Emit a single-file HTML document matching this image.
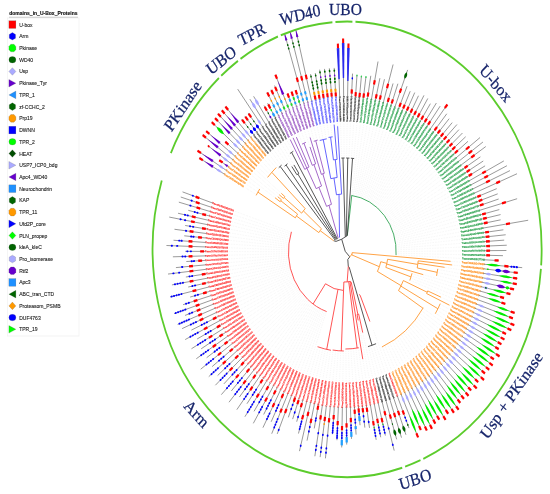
<!DOCTYPE html>
<html><head><meta charset="utf-8"><title>domains in U-Box Proteins</title>
<style>
html,body{margin:0;padding:0;background:#fff}
body{width:550px;height:494px;overflow:hidden}
svg{display:block}
text{font-family:"Liberation Sans",sans-serif}
.lg{font-size:56px;fill:#222;stroke:#222;stroke-width:1.2px}
.lt{font-size:56px;font-weight:bold;fill:#111;stroke:#111;stroke-width:1.5px}
.ol{font-family:"Liberation Serif",serif;font-size:17.3px;fill:#16246a;stroke:#16246a;stroke-width:.25px}
</style></head><body>
<svg width="550" height="494" viewBox="0 0 550 494">
<rect width="550" height="494" fill="#fff"/>
<g transform="scale(0.8977,1)">
<path d="M391.54 195.46A57 57 0 0 1 441.23 255.15" fill="none" stroke="#28a04c" stroke-width="0.9"/>
<path d="M487.66 268.82A104.7 104.7 0 0 1 486.26 275.87" fill="none" stroke="#ff9326" stroke-width="0.9"/>
<path d="M465.84 260.86A82 82 0 0 1 464.75 267.94" fill="none" stroke="#ff9326" stroke-width="0.9"/>
<line x1="465.84" y1="260.86" x2="503.61" y2="264.97" stroke="#ff9326" stroke-width="0.9"/>
<line x1="465.54" y1="263.23" x2="495.26" y2="267.34" stroke="#ff9326" stroke-width="0.9"/>
<line x1="464.75" y1="267.94" x2="487.02" y2="272.36" stroke="#ff9326" stroke-width="0.9"/>
<path d="M458.94 273.28A77.6 77.6 0 0 1 456.5 280.47" fill="none" stroke="#ff9326" stroke-width="0.9"/>
<path d="M431.76 259.27A48 48 0 0 1 429.78 267.41" fill="none" stroke="#ff9326" stroke-width="0.9"/>
<line x1="431.76" y1="259.27" x2="465.37" y2="264.41" stroke="#ff9326" stroke-width="0.9"/>
<line x1="430.78" y1="264.06" x2="471.43" y2="274.61" stroke="#ff9326" stroke-width="0.9"/>
<line x1="429.78" y1="267.41" x2="457.81" y2="276.91" stroke="#ff9326" stroke-width="0.9"/>
<path d="M476.44 290.91A100 100 0 0 1 475.26 293.57" fill="none" stroke="#ff9326" stroke-width="0.9"/>
<line x1="476.44" y1="290.91" x2="491.18" y2="297.13" stroke="#ff9326" stroke-width="0.9"/>
<line x1="475.26" y1="293.57" x2="500.73" y2="305.21" stroke="#ff9326" stroke-width="0.9"/>
<path d="M490.43 303.61A118 118 0 0 1 484.88 313.73" fill="none" stroke="#ff9326" stroke-width="0.9"/>
<path d="M471.5 307.78A103.5 103.5 0 0 1 425.43 346.98" fill="none" stroke="#ff9326" stroke-width="0.9"/>
<path d="M451.48 295.47A80 80 0 0 1 451.48 295.47" fill="none" stroke="#ff9326" stroke-width="0.9"/>
<line x1="451.48" y1="295.47" x2="471.2" y2="308.24" stroke="#ff9326" stroke-width="0.9"/>
<path d="M449.31 280.57A71 71 0 0 1 443.92 290.58" fill="none" stroke="#ff9326" stroke-width="0.9"/>
<line x1="449.31" y1="280.57" x2="475.86" y2="292.24" stroke="#ff9326" stroke-width="0.9"/>
<line x1="446.57" y1="286.14" x2="487.78" y2="308.74" stroke="#ff9326" stroke-width="0.9"/>
<line x1="443.92" y1="290.58" x2="451.48" y2="295.47" stroke="#ff9326" stroke-width="0.9"/>
<path d="M424.15 261.72A41 41 0 0 1 420.41 271.45" fill="none" stroke="#ff9326" stroke-width="0.9"/>
<line x1="424.15" y1="261.72" x2="430.95" y2="263.38" stroke="#ff9326" stroke-width="0.9"/>
<line x1="420.41" y1="271.45" x2="446.82" y2="285.68" stroke="#ff9326" stroke-width="0.9"/>
<path d="M392.29 252.63A8 8 0 0 1 391.78 254.87" fill="none" stroke="#ff9326" stroke-width="0.9"/>
<line x1="392.29" y1="252.63" x2="501.95" y2="261.33" stroke="#ff9326" stroke-width="0.9"/>
<line x1="391.78" y1="254.87" x2="422.59" y2="266.71" stroke="#ff9326" stroke-width="0.9"/>
<polyline points="400.36,294.3 401.47,296 412.05,321.5" fill="none" stroke="#ff3636" stroke-width="0.9" stroke-linejoin="round"/>
<path d="M418.92 343.69A98 98 0 0 1 409.89 346.61" fill="none" stroke="#3a3a3a" stroke-width="0.9"/>
<path d="M399.55 314.16A64 64 0 0 1 397.76 314.57" fill="none" stroke="#ff3636" stroke-width="0.9"/>
<line x1="399.55" y1="314.16" x2="404.08" y2="332.61" stroke="#ff3636" stroke-width="0.9"/>
<line x1="397.76" y1="314.57" x2="399.02" y2="320.44" stroke="#ff3636" stroke-width="0.9"/>
<path d="M391.26 282.21A31 31 0 0 1 389.95 282.48" fill="none" stroke="#ff3636" stroke-width="0.9"/>
<line x1="391.26" y1="282.21" x2="398.66" y2="314.37" stroke="#ff3636" stroke-width="0.9"/>
<line x1="389.95" y1="282.48" x2="404.13" y2="359.18" stroke="#ff3636" stroke-width="0.9"/>
<path d="M399.69 347.77A97 97 0 0 1 384.77 349" fill="none" stroke="#ff3636" stroke-width="0.9"/>
<path d="M382.97 350.99A99 99 0 0 1 370.56 350.04" fill="none" stroke="#ff3636" stroke-width="0.9"/>
<path d="M368.69 350.27A99.5 99.5 0 0 1 353.75 346.69" fill="none" stroke="#ff3636" stroke-width="0.9"/>
<path d="M363.87 311.59A63 63 0 0 1 324.63 231.83" fill="none" stroke="#ff3636" stroke-width="0.9"/>
<path d="M382.7 290.47A38.5 38.5 0 0 1 362.57 283.77" fill="none" stroke="#ff3636" stroke-width="0.9"/>
<line x1="382.7" y1="290.47" x2="380.17" y2="350.91" stroke="#ff3636" stroke-width="0.9"/>
<line x1="376.44" y1="289.68" x2="363.95" y2="349.39" stroke="#ff3636" stroke-width="0.9"/>
<line x1="362.57" y1="283.77" x2="348.73" y2="303.99" stroke="#ff3636" stroke-width="0.9"/>
<path d="M390.4 281.38A30 30 0 0 1 383.06 281.97" fill="none" stroke="#ff3636" stroke-width="0.9"/>
<line x1="390.4" y1="281.38" x2="390.61" y2="282.35" stroke="#ff3636" stroke-width="0.9"/>
<line x1="388.49" y1="281.71" x2="397.81" y2="348.06" stroke="#ff3636" stroke-width="0.9"/>
<line x1="383.06" y1="281.97" x2="382.7" y2="290.47" stroke="#ff3636" stroke-width="0.9"/>
<path d="M285.38 195.36A114 114 0 0 1 289.32 188.98" fill="none" stroke="#ff9326" stroke-width="0.9"/>
<path d="M312.09 201.72A88 88 0 0 1 313.51 199.75" fill="none" stroke="#ff9326" stroke-width="0.9"/>
<line x1="312.09" y1="201.72" x2="306.35" y2="197.73" stroke="#ff9326" stroke-width="0.9"/>
<line x1="313.51" y1="199.75" x2="309.48" y2="196.78" stroke="#ff9326" stroke-width="0.9"/>
<path d="M329 217.87A65 65 0 0 1 331.49 214.13" fill="none" stroke="#ff9326" stroke-width="0.9"/>
<line x1="329" y1="217.87" x2="287.3" y2="192.14" stroke="#ff9326" stroke-width="0.9"/>
<line x1="331.49" y1="214.13" x2="312.79" y2="200.73" stroke="#ff9326" stroke-width="0.9"/>
<path d="M315.77 198.43A87 87 0 0 1 317.27 196.55" fill="none" stroke="#ff9326" stroke-width="0.9"/>
<line x1="315.77" y1="198.43" x2="311.04" y2="194.73" stroke="#ff9326" stroke-width="0.9"/>
<line x1="317.27" y1="196.55" x2="313.42" y2="193.37" stroke="#ff9326" stroke-width="0.9"/>
<path d="M298.12 177.4A114 114 0 0 1 307.75 167.54" fill="none" stroke="#ff9326" stroke-width="0.9"/>
<path d="M336 213.15A62 62 0 0 1 339.97 208.67" fill="none" stroke="#ff9326" stroke-width="0.9"/>
<line x1="336" y1="213.15" x2="316.51" y2="197.49" stroke="#ff9326" stroke-width="0.9"/>
<line x1="339.97" y1="208.67" x2="302.78" y2="172.32" stroke="#ff9326" stroke-width="0.9"/>
<path d="M355.18 232.6A35 35 0 0 1 358.13 228.78" fill="none" stroke="#ff9326" stroke-width="0.9"/>
<line x1="355.18" y1="232.6" x2="330.21" y2="215.98" stroke="#ff9326" stroke-width="0.9"/>
<line x1="358.13" y1="228.78" x2="337.93" y2="210.86" stroke="#ff9326" stroke-width="0.9"/>
<path d="M310.51 167.76A112 112 0 0 1 313.72 165.05" fill="none" stroke="#3a3a3a" stroke-width="0.9"/>
<path d="M317.02 166.25A109 109 0 0 1 320.29 163.79" fill="none" stroke="#3a3a3a" stroke-width="0.9"/>
<path d="M330.77 174.74A94 94 0 0 1 332.88 173.32" fill="none" stroke="#3a3a3a" stroke-width="0.9"/>
<line x1="330.77" y1="174.74" x2="325.07" y2="166.52" stroke="#3a3a3a" stroke-width="0.9"/>
<line x1="332.88" y1="173.32" x2="327.41" y2="164.95" stroke="#3a3a3a" stroke-width="0.9"/>
<path d="M322.97 153.55A116 116 0 0 1 326.71 151.31" fill="none" stroke="#3a3a3a" stroke-width="0.9"/>
<path d="M339.48 169.38A94 94 0 0 1 344.23 166.98" fill="none" stroke="#9550c0" stroke-width="0.9"/>
<line x1="339.48" y1="169.38" x2="323.26" y2="139.5" stroke="#9550c0" stroke-width="0.9"/>
<line x1="341.84" y1="168.15" x2="326.47" y2="137.82" stroke="#9550c0" stroke-width="0.9"/>
<line x1="344.23" y1="166.98" x2="330.15" y2="137.13" stroke="#9550c0" stroke-width="0.9"/>
<path d="M336.47 144.14A118 118 0 0 1 340.69 142.36" fill="none" stroke="#9550c0" stroke-width="0.9"/>
<path d="M347.87 165.35A94 94 0 0 1 351.58 163.88" fill="none" stroke="#9550c0" stroke-width="0.9"/>
<line x1="347.87" y1="165.35" x2="338.57" y2="143.23" stroke="#9550c0" stroke-width="0.9"/>
<line x1="351.58" y1="163.88" x2="345.32" y2="147.01" stroke="#9550c0" stroke-width="0.9"/>
<path d="M352.23 188.66A71 71 0 0 1 358.19 185.98" fill="none" stroke="#9550c0" stroke-width="0.9"/>
<line x1="352.23" y1="188.66" x2="341.84" y2="168.15" stroke="#9550c0" stroke-width="0.9"/>
<line x1="358.19" y1="185.98" x2="349.72" y2="164.6" stroke="#9550c0" stroke-width="0.9"/>
<path d="M349.56 141.33A116 116 0 0 1 353.88 140.06" fill="none" stroke="#9550c0" stroke-width="0.9"/>
<path d="M357.95 174.35A82 82 0 0 1 361.27 173.3" fill="none" stroke="#9550c0" stroke-width="0.9"/>
<line x1="357.95" y1="174.35" x2="345.41" y2="137.43" stroke="#9550c0" stroke-width="0.9"/>
<line x1="361.27" y1="173.3" x2="351.71" y2="140.68" stroke="#9550c0" stroke-width="0.9"/>
<path d="M363.8 206.4A50 50 0 0 1 369.25 204.32" fill="none" stroke="#9550c0" stroke-width="0.9"/>
<line x1="363.8" y1="206.4" x2="355.18" y2="187.26" stroke="#9550c0" stroke-width="0.9"/>
<line x1="369.25" y1="204.32" x2="359.6" y2="173.81" stroke="#9550c0" stroke-width="0.9"/>
<path d="M356.19 140.49A115 115 0 0 1 363.98 138.81" fill="none" stroke="#4a4aff" stroke-width="0.9"/>
<path d="M365.97 137.46A116 116 0 0 1 370.55 136.82" fill="none" stroke="#4a4aff" stroke-width="0.9"/>
<path d="M371.44 159.9A93 93 0 0 1 375.52 159.42" fill="none" stroke="#4a4aff" stroke-width="0.9"/>
<line x1="371.44" y1="159.9" x2="368.26" y2="137.12" stroke="#4a4aff" stroke-width="0.9"/>
<line x1="375.52" y1="159.42" x2="372.21" y2="124.57" stroke="#4a4aff" stroke-width="0.9"/>
<path d="M368.5 178.69A75 75 0 0 1 375.57 177.51" fill="none" stroke="#4a4aff" stroke-width="0.9"/>
<line x1="368.5" y1="178.69" x2="360.07" y2="139.59" stroke="#4a4aff" stroke-width="0.9"/>
<line x1="375.57" y1="177.51" x2="373.48" y2="159.63" stroke="#4a4aff" stroke-width="0.9"/>
<path d="M374.81 194.78A58 58 0 0 1 380.53 194.12" fill="none" stroke="#4a4aff" stroke-width="0.9"/>
<line x1="374.81" y1="194.78" x2="372.02" y2="178.01" stroke="#4a4aff" stroke-width="0.9"/>
<line x1="380.53" y1="194.12" x2="376.09" y2="126.27" stroke="#4a4aff" stroke-width="0.9"/>
<path d="M380.24 158.09A94 94 0 0 1 383.88 158" fill="none" stroke="#3a3a3a" stroke-width="0.9"/>
<path d="M385.57 158.01A94 94 0 0 1 389.21 158.13" fill="none" stroke="#3a3a3a" stroke-width="0.9"/>
<path d="M390.89 158.23A94 94 0 0 1 394.53 158.56" fill="none" stroke="#3a3a3a" stroke-width="0.9"/>
<polyline points="371.62,240.7 374.29,241.4 380.64,239.2 386.88,235.6" fill="none" stroke="#3a3a3a" stroke-width="0.9" stroke-linejoin="round"/>
<polyline points="380.64,239.2 384.54,251.3 389.66,256.9 387.43,259.4 387.99,266.5" fill="none" stroke="#3a3a3a" stroke-width="0.9" stroke-linejoin="round"/>
<polyline points="389.66,256.9 391.89,254.4 392.12,253.77" fill="none" stroke="#ff9326" stroke-width="0.9" stroke-linejoin="round"/>
<polyline points="387.99,266.5 388.99,267.2 414.44,345.26" fill="none" stroke="#3a3a3a" stroke-width="0.9" stroke-linejoin="round"/>
<polyline points="387.99,266.5 386.75,281.9" fill="none" stroke="#ff3636" stroke-width="0.9" stroke-linejoin="round"/>
<polyline points="386.88,235.6 391.84,195.5" fill="none" stroke="#28a04c" stroke-width="0.9" stroke-linejoin="round"/>
<polyline points="384.65,236.8 382.06,158.03" fill="none" stroke="#3a3a3a" stroke-width="0.9" stroke-linejoin="round"/>
<polyline points="385.76,236.2 387.39,158.05" fill="none" stroke="#3a3a3a" stroke-width="0.9" stroke-linejoin="round"/>
<polyline points="386.88,235.6 392.71,158.38" fill="none" stroke="#3a3a3a" stroke-width="0.9" stroke-linejoin="round"/>
<polyline points="378.19,237.5 377.66,194.38" fill="none" stroke="#4a4aff" stroke-width="0.9" stroke-linejoin="round"/>
<polyline points="376.74,238.2 366.49,205.29" fill="none" stroke="#9550c0" stroke-width="0.9" stroke-linejoin="round"/>
<polyline points="373.4,240.2 312.1,166.39" fill="none" stroke="#3a3a3a" stroke-width="0.9" stroke-linejoin="round"/>
<polyline points="374.29,239.8 318.64,165.01" fill="none" stroke="#3a3a3a" stroke-width="0.9" stroke-linejoin="round"/>
<polyline points="375.18,239.4 331.82,174.02" fill="none" stroke="#3a3a3a" stroke-width="0.9" stroke-linejoin="round"/>
<polyline points="375.96,239 324.83,152.41" fill="none" stroke="#3a3a3a" stroke-width="0.9" stroke-linejoin="round"/>
<polyline points="371.62,240.7 356.59,230.64" fill="none" stroke="#ff9326" stroke-width="0.9" stroke-linejoin="round"/>
<line x1="380.71" y1="157.57" x2="379.39" y2="123.09" stroke="#bbbbbb" stroke-width="0.5" stroke-opacity="0.45" stroke-dasharray="0.6 1.2"/>
<text transform="translate(379.34,121.7) rotate(447.81) scale(.1)" text-anchor="end" y="8" font-size="24.5" font-weight="bold" fill="#3a3a3a" stroke="#3a3a3a" stroke-width="1.6">TraesCS2D02G445900</text>
<line x1="383.39" y1="157.5" x2="383.05" y2="123.01" stroke="#bbbbbb" stroke-width="0.5" stroke-opacity="0.45" stroke-dasharray="0.6 1.2"/>
<text transform="translate(383.04,121.61) rotate(449.44) scale(.1)" text-anchor="end" y="8" font-size="24.5" font-weight="bold" fill="#3a3a3a" stroke="#3a3a3a" stroke-width="1.6">TraesCS2B02G494800</text>
<line x1="386.07" y1="157.52" x2="386.71" y2="123.02" stroke="#bbbbbb" stroke-width="0.5" stroke-opacity="0.45" stroke-dasharray="0.6 1.2"/>
<text transform="translate(386.73,121.62) rotate(-88.94) scale(.1)" text-anchor="start" y="8" font-size="24.5" font-weight="bold" fill="#3a3a3a" stroke="#3a3a3a" stroke-width="1.6">TraesCS4D02G475900</text>
<line x1="388.75" y1="157.6" x2="390.36" y2="123.14" stroke="#bbbbbb" stroke-width="0.5" stroke-opacity="0.45" stroke-dasharray="0.6 1.2"/>
<text transform="translate(390.43,121.74) rotate(-87.31) scale(.1)" text-anchor="start" y="8" font-size="24.5" font-weight="bold" fill="#3a3a3a" stroke="#3a3a3a" stroke-width="1.6">TraesCS1D02G010800</text>
<line x1="391.42" y1="157.77" x2="394.02" y2="123.37" stroke="#bbbbbb" stroke-width="0.5" stroke-opacity="0.45" stroke-dasharray="0.6 1.2"/>
<text transform="translate(394.12,121.97) rotate(-85.69) scale(.1)" text-anchor="start" y="8" font-size="24.5" font-weight="bold" fill="#3a3a3a" stroke="#3a3a3a" stroke-width="1.6">TraesCS7B02G212500</text>
<line x1="394.09" y1="158.01" x2="397.66" y2="123.69" stroke="#bbbbbb" stroke-width="0.5" stroke-opacity="0.45" stroke-dasharray="0.6 1.2"/>
<text transform="translate(397.8,122.3) rotate(-84.06) scale(.1)" text-anchor="start" y="8" font-size="24.5" font-weight="bold" fill="#3a3a3a" stroke="#3a3a3a" stroke-width="1.6">TraesCS5A02G157100</text>
<line x1="391.91" y1="195" x2="401.35" y2="124.13" stroke="#bbbbbb" stroke-width="0.5" stroke-opacity="0.45" stroke-dasharray="0.6 1.2"/>
<text transform="translate(401.53,122.74) rotate(-82.41) scale(.1)" text-anchor="start" y="8" font-size="24.5" font-weight="bold" fill="#28a04c" stroke="#28a04c" stroke-width="1.6">TraesCS6B02G443200</text>
<line x1="393.57" y1="195.25" x2="405.07" y2="124.68" stroke="#bbbbbb" stroke-width="0.5" stroke-opacity="0.45" stroke-dasharray="0.6 1.2"/>
<text transform="translate(405.29,123.3) rotate(-80.74) scale(.1)" text-anchor="start" y="8" font-size="24.5" font-weight="bold" fill="#28a04c" stroke="#28a04c" stroke-width="1.6">TraesCS7D02G390300</text>
<line x1="395.22" y1="195.54" x2="408.78" y2="125.34" stroke="#bbbbbb" stroke-width="0.5" stroke-opacity="0.45" stroke-dasharray="0.6 1.2"/>
<text transform="translate(409.04,123.97) rotate(-79.07) scale(.1)" text-anchor="start" y="8" font-size="24.5" font-weight="bold" fill="#28a04c" stroke="#28a04c" stroke-width="1.6">TraesCS4D02G123400</text>
<line x1="396.86" y1="195.89" x2="412.46" y2="126.11" stroke="#bbbbbb" stroke-width="0.5" stroke-opacity="0.45" stroke-dasharray="0.6 1.2"/>
<text transform="translate(412.77,124.74) rotate(-77.4) scale(.1)" text-anchor="start" y="8" font-size="24.5" font-weight="bold" fill="#28a04c" stroke="#28a04c" stroke-width="1.6">TraesCS2D02G124300</text>
<line x1="398.49" y1="196.28" x2="416.12" y2="126.98" stroke="#bbbbbb" stroke-width="0.5" stroke-opacity="0.45" stroke-dasharray="0.6 1.2"/>
<text transform="translate(416.47,125.63) rotate(-75.73) scale(.1)" text-anchor="start" y="8" font-size="24.5" font-weight="bold" fill="#28a04c" stroke="#28a04c" stroke-width="1.6">TraesCS7D02G319500</text>
<line x1="400.11" y1="196.71" x2="419.76" y2="127.96" stroke="#bbbbbb" stroke-width="0.5" stroke-opacity="0.45" stroke-dasharray="0.6 1.2"/>
<text transform="translate(420.14,126.62) rotate(-74.05) scale(.1)" text-anchor="start" y="8" font-size="24.5" font-weight="bold" fill="#28a04c" stroke="#28a04c" stroke-width="1.6">TraesCS6A02G550100</text>
<line x1="401.72" y1="197.2" x2="423.36" y2="129.05" stroke="#bbbbbb" stroke-width="0.5" stroke-opacity="0.45" stroke-dasharray="0.6 1.2"/>
<text transform="translate(423.79,127.72) rotate(-72.38) scale(.1)" text-anchor="start" y="8" font-size="24.5" font-weight="bold" fill="#28a04c" stroke="#28a04c" stroke-width="1.6">TraesCS7A02G130600</text>
<line x1="403.31" y1="197.73" x2="426.93" y2="130.24" stroke="#bbbbbb" stroke-width="0.5" stroke-opacity="0.45" stroke-dasharray="0.6 1.2"/>
<text transform="translate(427.39,128.92) rotate(-70.71) scale(.1)" text-anchor="start" y="8" font-size="24.5" font-weight="bold" fill="#28a04c" stroke="#28a04c" stroke-width="1.6">TraesCS7D02G035100</text>
<line x1="404.89" y1="198.31" x2="430.47" y2="131.54" stroke="#bbbbbb" stroke-width="0.5" stroke-opacity="0.45" stroke-dasharray="0.6 1.2"/>
<text transform="translate(430.97,130.23) rotate(-69.04) scale(.1)" text-anchor="start" y="8" font-size="24.5" font-weight="bold" fill="#28a04c" stroke="#28a04c" stroke-width="1.6">TraesCS3A02G220800</text>
<line x1="406.44" y1="198.93" x2="433.96" y2="132.94" stroke="#bbbbbb" stroke-width="0.5" stroke-opacity="0.45" stroke-dasharray="0.6 1.2"/>
<text transform="translate(434.5,131.64) rotate(-67.36) scale(.1)" text-anchor="start" y="8" font-size="24.5" font-weight="bold" fill="#28a04c" stroke="#28a04c" stroke-width="1.6">TraesCS4D02G588900</text>
<line x1="407.98" y1="199.6" x2="437.42" y2="134.44" stroke="#bbbbbb" stroke-width="0.5" stroke-opacity="0.45" stroke-dasharray="0.6 1.2"/>
<text transform="translate(437.99,133.16) rotate(-65.69) scale(.1)" text-anchor="start" y="8" font-size="24.5" font-weight="bold" fill="#28a04c" stroke="#28a04c" stroke-width="1.6">TraesCS4D02G349800</text>
<line x1="409.5" y1="200.31" x2="440.82" y2="136.04" stroke="#bbbbbb" stroke-width="0.5" stroke-opacity="0.45" stroke-dasharray="0.6 1.2"/>
<text transform="translate(441.44,134.78) rotate(-64.02) scale(.1)" text-anchor="start" y="8" font-size="24.5" font-weight="bold" fill="#28a04c" stroke="#28a04c" stroke-width="1.6">TraesCS4D02G472700</text>
<line x1="411" y1="201.07" x2="444.18" y2="137.73" stroke="#bbbbbb" stroke-width="0.5" stroke-opacity="0.45" stroke-dasharray="0.6 1.2"/>
<text transform="translate(444.83,136.49) rotate(-62.35) scale(.1)" text-anchor="start" y="8" font-size="24.5" font-weight="bold" fill="#28a04c" stroke="#28a04c" stroke-width="1.6">TraesCS4A02G299500</text>
<line x1="412.48" y1="201.87" x2="447.49" y2="139.53" stroke="#bbbbbb" stroke-width="0.5" stroke-opacity="0.45" stroke-dasharray="0.6 1.2"/>
<text transform="translate(448.18,138.31) rotate(-60.68) scale(.1)" text-anchor="start" y="8" font-size="24.5" font-weight="bold" fill="#28a04c" stroke="#28a04c" stroke-width="1.6">TraesCS1A02G111400</text>
<line x1="413.93" y1="202.71" x2="450.75" y2="141.42" stroke="#bbbbbb" stroke-width="0.5" stroke-opacity="0.45" stroke-dasharray="0.6 1.2"/>
<text transform="translate(451.47,140.22) rotate(-59) scale(.1)" text-anchor="start" y="8" font-size="24.5" font-weight="bold" fill="#28a04c" stroke="#28a04c" stroke-width="1.6">TraesCS4A02G211400</text>
<line x1="415.35" y1="203.6" x2="453.95" y2="143.41" stroke="#bbbbbb" stroke-width="0.5" stroke-opacity="0.45" stroke-dasharray="0.6 1.2"/>
<text transform="translate(454.7,142.23) rotate(-57.33) scale(.1)" text-anchor="start" y="8" font-size="24.5" font-weight="bold" fill="#28a04c" stroke="#28a04c" stroke-width="1.6">TraesCS6B02G638200</text>
<line x1="416.75" y1="204.52" x2="457.08" y2="145.48" stroke="#bbbbbb" stroke-width="0.5" stroke-opacity="0.45" stroke-dasharray="0.6 1.2"/>
<text transform="translate(457.87,144.33) rotate(-55.66) scale(.1)" text-anchor="start" y="8" font-size="24.5" font-weight="bold" fill="#28a04c" stroke="#28a04c" stroke-width="1.6">TraesCS6B02G345100</text>
<line x1="418.12" y1="205.49" x2="460.16" y2="147.65" stroke="#bbbbbb" stroke-width="0.5" stroke-opacity="0.45" stroke-dasharray="0.6 1.2"/>
<text transform="translate(460.98,146.52) rotate(-53.99) scale(.1)" text-anchor="start" y="8" font-size="24.5" font-weight="bold" fill="#28a04c" stroke="#28a04c" stroke-width="1.6">TraesCS5B02G470300</text>
<line x1="419.47" y1="206.49" x2="463.17" y2="149.91" stroke="#bbbbbb" stroke-width="0.5" stroke-opacity="0.45" stroke-dasharray="0.6 1.2"/>
<text transform="translate(464.03,148.8) rotate(-52.32) scale(.1)" text-anchor="start" y="8" font-size="24.5" font-weight="bold" fill="#28a04c" stroke="#28a04c" stroke-width="1.6">TraesCS3D02G479300</text>
<line x1="420.78" y1="207.54" x2="466.12" y2="152.25" stroke="#bbbbbb" stroke-width="0.5" stroke-opacity="0.45" stroke-dasharray="0.6 1.2"/>
<text transform="translate(467.01,151.17) rotate(-50.64) scale(.1)" text-anchor="start" y="8" font-size="24.5" font-weight="bold" fill="#28a04c" stroke="#28a04c" stroke-width="1.6">TraesCS4D02G190400</text>
<line x1="422.06" y1="208.62" x2="469" y2="154.68" stroke="#bbbbbb" stroke-width="0.5" stroke-opacity="0.45" stroke-dasharray="0.6 1.2"/>
<text transform="translate(469.91,153.63) rotate(-48.97) scale(.1)" text-anchor="start" y="8" font-size="24.5" font-weight="bold" fill="#28a04c" stroke="#28a04c" stroke-width="1.6">TraesCS3D02G023500</text>
<line x1="423.31" y1="209.74" x2="471.8" y2="157.2" stroke="#bbbbbb" stroke-width="0.5" stroke-opacity="0.45" stroke-dasharray="0.6 1.2"/>
<text transform="translate(472.75,156.17) rotate(-47.3) scale(.1)" text-anchor="start" y="8" font-size="24.5" font-weight="bold" fill="#28a04c" stroke="#28a04c" stroke-width="1.6">TraesCS7B02G496300</text>
<line x1="424.53" y1="210.9" x2="474.53" y2="159.79" stroke="#bbbbbb" stroke-width="0.5" stroke-opacity="0.45" stroke-dasharray="0.6 1.2"/>
<text transform="translate(475.51,158.79) rotate(-45.63) scale(.1)" text-anchor="start" y="8" font-size="24.5" font-weight="bold" fill="#28a04c" stroke="#28a04c" stroke-width="1.6">TraesCS6D02G133700</text>
<line x1="425.71" y1="212.09" x2="477.18" y2="162.46" stroke="#bbbbbb" stroke-width="0.5" stroke-opacity="0.45" stroke-dasharray="0.6 1.2"/>
<text transform="translate(478.19,161.49) rotate(-43.96) scale(.1)" text-anchor="start" y="8" font-size="24.5" font-weight="bold" fill="#28a04c" stroke="#28a04c" stroke-width="1.6">TraesCS6B02G443900</text>
<line x1="426.86" y1="213.31" x2="479.75" y2="165.21" stroke="#bbbbbb" stroke-width="0.5" stroke-opacity="0.45" stroke-dasharray="0.6 1.2"/>
<text transform="translate(480.79,164.27) rotate(-42.28) scale(.1)" text-anchor="start" y="8" font-size="24.5" font-weight="bold" fill="#28a04c" stroke="#28a04c" stroke-width="1.6">TraesCS5D02G085300</text>
<line x1="427.97" y1="214.57" x2="482.25" y2="168.03" stroke="#bbbbbb" stroke-width="0.5" stroke-opacity="0.45" stroke-dasharray="0.6 1.2"/>
<text transform="translate(483.31,167.12) rotate(-40.61) scale(.1)" text-anchor="start" y="8" font-size="24.5" font-weight="bold" fill="#28a04c" stroke="#28a04c" stroke-width="1.6">TraesCS6D02G173000</text>
<line x1="429.04" y1="215.86" x2="484.65" y2="170.92" stroke="#bbbbbb" stroke-width="0.5" stroke-opacity="0.45" stroke-dasharray="0.6 1.2"/>
<text transform="translate(485.74,170.04) rotate(-38.94) scale(.1)" text-anchor="start" y="8" font-size="24.5" font-weight="bold" fill="#28a04c" stroke="#28a04c" stroke-width="1.6">TraesCS6D02G218800</text>
<line x1="430.08" y1="217.18" x2="486.98" y2="173.89" stroke="#bbbbbb" stroke-width="0.5" stroke-opacity="0.45" stroke-dasharray="0.6 1.2"/>
<text transform="translate(488.09,173.04) rotate(-37.27) scale(.1)" text-anchor="start" y="8" font-size="24.5" font-weight="bold" fill="#28a04c" stroke="#28a04c" stroke-width="1.6">TraesCS3A02G052000</text>
<line x1="431.07" y1="218.53" x2="489.21" y2="176.92" stroke="#bbbbbb" stroke-width="0.5" stroke-opacity="0.45" stroke-dasharray="0.6 1.2"/>
<text transform="translate(490.35,176.1) rotate(-35.59) scale(.1)" text-anchor="start" y="8" font-size="24.5" font-weight="bold" fill="#28a04c" stroke="#28a04c" stroke-width="1.6">TraesCS4D02G396100</text>
<line x1="432.03" y1="219.91" x2="491.36" y2="180.01" stroke="#bbbbbb" stroke-width="0.5" stroke-opacity="0.45" stroke-dasharray="0.6 1.2"/>
<text transform="translate(492.52,179.23) rotate(-33.92) scale(.1)" text-anchor="start" y="8" font-size="24.5" font-weight="bold" fill="#28a04c" stroke="#28a04c" stroke-width="1.6">TraesCS1B02G054600</text>
<line x1="432.94" y1="221.32" x2="493.41" y2="183.16" stroke="#bbbbbb" stroke-width="0.5" stroke-opacity="0.45" stroke-dasharray="0.6 1.2"/>
<text transform="translate(494.6,182.42) rotate(-32.25) scale(.1)" text-anchor="start" y="8" font-size="24.5" font-weight="bold" fill="#28a04c" stroke="#28a04c" stroke-width="1.6">TraesCS4A02G016500</text>
<line x1="433.82" y1="222.75" x2="495.38" y2="186.38" stroke="#bbbbbb" stroke-width="0.5" stroke-opacity="0.45" stroke-dasharray="0.6 1.2"/>
<text transform="translate(496.58,185.66) rotate(-30.58) scale(.1)" text-anchor="start" y="8" font-size="24.5" font-weight="bold" fill="#28a04c" stroke="#28a04c" stroke-width="1.6">TraesCS3B02G629800</text>
<line x1="434.65" y1="224.21" x2="497.24" y2="189.64" stroke="#bbbbbb" stroke-width="0.5" stroke-opacity="0.45" stroke-dasharray="0.6 1.2"/>
<text transform="translate(498.47,188.97) rotate(-28.91) scale(.1)" text-anchor="start" y="8" font-size="24.5" font-weight="bold" fill="#28a04c" stroke="#28a04c" stroke-width="1.6">TraesCS4A02G036300</text>
<line x1="435.44" y1="225.69" x2="499.02" y2="192.97" stroke="#bbbbbb" stroke-width="0.5" stroke-opacity="0.45" stroke-dasharray="0.6 1.2"/>
<text transform="translate(500.26,192.33) rotate(-27.23) scale(.1)" text-anchor="start" y="8" font-size="24.5" font-weight="bold" fill="#28a04c" stroke="#28a04c" stroke-width="1.6">TraesCS5D02G624000</text>
<line x1="436.19" y1="227.19" x2="500.69" y2="196.34" stroke="#bbbbbb" stroke-width="0.5" stroke-opacity="0.45" stroke-dasharray="0.6 1.2"/>
<text transform="translate(501.95,195.73) rotate(-25.56) scale(.1)" text-anchor="start" y="8" font-size="24.5" font-weight="bold" fill="#28a04c" stroke="#28a04c" stroke-width="1.6">TraesCS1B02G588600</text>
<line x1="436.89" y1="228.71" x2="502.26" y2="199.76" stroke="#bbbbbb" stroke-width="0.5" stroke-opacity="0.45" stroke-dasharray="0.6 1.2"/>
<text transform="translate(503.54,199.19) rotate(-23.89) scale(.1)" text-anchor="start" y="8" font-size="24.5" font-weight="bold" fill="#28a04c" stroke="#28a04c" stroke-width="1.6">TraesCS5B02G451300</text>
<line x1="437.55" y1="230.26" x2="503.74" y2="203.22" stroke="#bbbbbb" stroke-width="0.5" stroke-opacity="0.45" stroke-dasharray="0.6 1.2"/>
<text transform="translate(505.03,202.69) rotate(-22.22) scale(.1)" text-anchor="start" y="8" font-size="24.5" font-weight="bold" fill="#28a04c" stroke="#28a04c" stroke-width="1.6">TraesCS3D02G193300</text>
<line x1="438.16" y1="231.82" x2="505.11" y2="206.73" stroke="#bbbbbb" stroke-width="0.5" stroke-opacity="0.45" stroke-dasharray="0.6 1.2"/>
<text transform="translate(506.42,206.24) rotate(-20.55) scale(.1)" text-anchor="start" y="8" font-size="24.5" font-weight="bold" fill="#28a04c" stroke="#28a04c" stroke-width="1.6">TraesCS1B02G006000</text>
<line x1="438.72" y1="233.4" x2="506.38" y2="210.27" stroke="#bbbbbb" stroke-width="0.5" stroke-opacity="0.45" stroke-dasharray="0.6 1.2"/>
<text transform="translate(507.7,209.82) rotate(-18.87) scale(.1)" text-anchor="start" y="8" font-size="24.5" font-weight="bold" fill="#28a04c" stroke="#28a04c" stroke-width="1.6">TraesCS1A02G491400</text>
<line x1="439.24" y1="235" x2="507.55" y2="213.85" stroke="#bbbbbb" stroke-width="0.5" stroke-opacity="0.45" stroke-dasharray="0.6 1.2"/>
<text transform="translate(508.88,213.44) rotate(-17.2) scale(.1)" text-anchor="start" y="8" font-size="24.5" font-weight="bold" fill="#28a04c" stroke="#28a04c" stroke-width="1.6">TraesCS5A02G161700</text>
<line x1="439.72" y1="236.61" x2="508.61" y2="217.46" stroke="#bbbbbb" stroke-width="0.5" stroke-opacity="0.45" stroke-dasharray="0.6 1.2"/>
<text transform="translate(509.96,217.09) rotate(-15.53) scale(.1)" text-anchor="start" y="8" font-size="24.5" font-weight="bold" fill="#28a04c" stroke="#28a04c" stroke-width="1.6">TraesCS4B02G500100</text>
<line x1="440.14" y1="238.23" x2="509.56" y2="221.1" stroke="#bbbbbb" stroke-width="0.5" stroke-opacity="0.45" stroke-dasharray="0.6 1.2"/>
<text transform="translate(510.92,220.77) rotate(-13.86) scale(.1)" text-anchor="start" y="8" font-size="24.5" font-weight="bold" fill="#28a04c" stroke="#28a04c" stroke-width="1.6">TraesCS3A02G565100</text>
<line x1="440.52" y1="239.86" x2="510.41" y2="224.77" stroke="#bbbbbb" stroke-width="0.5" stroke-opacity="0.45" stroke-dasharray="0.6 1.2"/>
<text transform="translate(511.78,224.48) rotate(-12.19) scale(.1)" text-anchor="start" y="8" font-size="24.5" font-weight="bold" fill="#28a04c" stroke="#28a04c" stroke-width="1.6">TraesCS1B02G257100</text>
<line x1="440.85" y1="241.51" x2="511.15" y2="228.46" stroke="#bbbbbb" stroke-width="0.5" stroke-opacity="0.45" stroke-dasharray="0.6 1.2"/>
<text transform="translate(512.53,228.21) rotate(-10.51) scale(.1)" text-anchor="start" y="8" font-size="24.5" font-weight="bold" fill="#28a04c" stroke="#28a04c" stroke-width="1.6">TraesCS3A02G309500</text>
<line x1="441.13" y1="243.16" x2="511.78" y2="232.17" stroke="#bbbbbb" stroke-width="0.5" stroke-opacity="0.45" stroke-dasharray="0.6 1.2"/>
<text transform="translate(513.17,231.96) rotate(-8.84) scale(.1)" text-anchor="start" y="8" font-size="24.5" font-weight="bold" fill="#28a04c" stroke="#28a04c" stroke-width="1.6">TraesCS4B02G426100</text>
<line x1="441.37" y1="244.82" x2="512.31" y2="235.9" stroke="#bbbbbb" stroke-width="0.5" stroke-opacity="0.45" stroke-dasharray="0.6 1.2"/>
<text transform="translate(513.7,235.73) rotate(-7.17) scale(.1)" text-anchor="start" y="8" font-size="24.5" font-weight="bold" fill="#28a04c" stroke="#28a04c" stroke-width="1.6">TraesCS4D02G488000</text>
<line x1="441.55" y1="246.49" x2="512.72" y2="239.64" stroke="#bbbbbb" stroke-width="0.5" stroke-opacity="0.45" stroke-dasharray="0.6 1.2"/>
<text transform="translate(514.12,239.51) rotate(-5.5) scale(.1)" text-anchor="start" y="8" font-size="24.5" font-weight="bold" fill="#28a04c" stroke="#28a04c" stroke-width="1.6">TraesCS6D02G084100</text>
<line x1="441.69" y1="248.16" x2="513.03" y2="243.4" stroke="#bbbbbb" stroke-width="0.5" stroke-opacity="0.45" stroke-dasharray="0.6 1.2"/>
<text transform="translate(514.43,243.3) rotate(-3.82) scale(.1)" text-anchor="start" y="8" font-size="24.5" font-weight="bold" fill="#28a04c" stroke="#28a04c" stroke-width="1.6">TraesCS5D02G222300</text>
<line x1="441.77" y1="249.84" x2="513.22" y2="247.16" stroke="#bbbbbb" stroke-width="0.5" stroke-opacity="0.45" stroke-dasharray="0.6 1.2"/>
<text transform="translate(514.62,247.1) rotate(-2.15) scale(.1)" text-anchor="start" y="8" font-size="24.5" font-weight="bold" fill="#28a04c" stroke="#28a04c" stroke-width="1.6">TraesCS4D02G590100</text>
<line x1="441.81" y1="251.52" x2="513.31" y2="250.92" stroke="#bbbbbb" stroke-width="0.5" stroke-opacity="0.45" stroke-dasharray="0.6 1.2"/>
<text transform="translate(514.71,250.91) rotate(-0.48) scale(.1)" text-anchor="start" y="8" font-size="24.5" font-weight="bold" fill="#28a04c" stroke="#28a04c" stroke-width="1.6">TraesCS6A02G246700</text>
<line x1="441.8" y1="253.2" x2="513.29" y2="254.68" stroke="#bbbbbb" stroke-width="0.5" stroke-opacity="0.45" stroke-dasharray="0.6 1.2"/>
<text transform="translate(514.69,254.71) rotate(1.19) scale(.1)" text-anchor="start" y="8" font-size="24.5" font-weight="bold" fill="#28a04c" stroke="#28a04c" stroke-width="1.6">TraesCS4B02G427000</text>
<line x1="441.74" y1="254.87" x2="513.15" y2="258.45" stroke="#bbbbbb" stroke-width="0.5" stroke-opacity="0.45" stroke-dasharray="0.6 1.2"/>
<text transform="translate(514.55,258.52) rotate(2.86) scale(.1)" text-anchor="start" y="8" font-size="24.5" font-weight="bold" fill="#28a04c" stroke="#28a04c" stroke-width="1.6">TraesCS3D02G277700</text>
<line x1="502.44" y1="261.37" x2="512.91" y2="262.2" stroke="#bbbbbb" stroke-width="0.5" stroke-opacity="0.45" stroke-dasharray="0.6 1.2"/>
<text transform="translate(514.31,262.31) rotate(4.53) scale(.1)" text-anchor="start" y="8" font-size="24.5" font-weight="bold" fill="#ff9326" stroke="#ff9326" stroke-width="1.6">TraesCS1B02G475200</text>
<line x1="504.11" y1="265.02" x2="512.56" y2="265.94" stroke="#bbbbbb" stroke-width="0.5" stroke-opacity="0.45" stroke-dasharray="0.6 1.2"/>
<text transform="translate(513.95,266.09) rotate(6.2) scale(.1)" text-anchor="start" y="8" font-size="24.5" font-weight="bold" fill="#ff9326" stroke="#ff9326" stroke-width="1.6">TraesCS3A02G308500</text>
<line x1="495.76" y1="267.41" x2="512.1" y2="269.67" stroke="#bbbbbb" stroke-width="0.5" stroke-opacity="0.45" stroke-dasharray="0.6 1.2"/>
<text transform="translate(513.49,269.86) rotate(7.87) scale(.1)" text-anchor="start" y="8" font-size="24.5" font-weight="bold" fill="#ff9326" stroke="#ff9326" stroke-width="1.6">TraesCS5D02G517900</text>
<line x1="488.06" y1="269.44" x2="511.53" y2="273.39" stroke="#bbbbbb" stroke-width="0.5" stroke-opacity="0.45" stroke-dasharray="0.6 1.2"/>
<text transform="translate(512.91,273.62) rotate(9.54) scale(.1)" text-anchor="start" y="8" font-size="24.5" font-weight="bold" fill="#ff9326" stroke="#ff9326" stroke-width="1.6">TraesCS2A02G519000</text>
<line x1="487.51" y1="272.45" x2="510.85" y2="277.08" stroke="#bbbbbb" stroke-width="0.5" stroke-opacity="0.45" stroke-dasharray="0.6 1.2"/>
<text transform="translate(512.23,277.35) rotate(11.21) scale(.1)" text-anchor="start" y="8" font-size="24.5" font-weight="bold" fill="#ff9326" stroke="#ff9326" stroke-width="1.6">TraesCS6B02G382000</text>
<line x1="486.87" y1="275.45" x2="510.07" y2="280.76" stroke="#bbbbbb" stroke-width="0.5" stroke-opacity="0.45" stroke-dasharray="0.6 1.2"/>
<text transform="translate(511.43,281.07) rotate(12.88) scale(.1)" text-anchor="start" y="8" font-size="24.5" font-weight="bold" fill="#ff9326" stroke="#ff9326" stroke-width="1.6">TraesCS3D02G288900</text>
<line x1="471.91" y1="274.74" x2="509.18" y2="284.41" stroke="#bbbbbb" stroke-width="0.5" stroke-opacity="0.45" stroke-dasharray="0.6 1.2"/>
<text transform="translate(510.53,284.76) rotate(14.55) scale(.1)" text-anchor="start" y="8" font-size="24.5" font-weight="bold" fill="#ff9326" stroke="#ff9326" stroke-width="1.6">TraesCS5D02G228500</text>
<line x1="459.31" y1="273.81" x2="508.18" y2="288.03" stroke="#bbbbbb" stroke-width="0.5" stroke-opacity="0.45" stroke-dasharray="0.6 1.2"/>
<text transform="translate(509.53,288.42) rotate(16.22) scale(.1)" text-anchor="start" y="8" font-size="24.5" font-weight="bold" fill="#ff9326" stroke="#ff9326" stroke-width="1.6">TraesCS6B02G018200</text>
<line x1="458.64" y1="275.99" x2="507.08" y2="291.62" stroke="#bbbbbb" stroke-width="0.5" stroke-opacity="0.45" stroke-dasharray="0.6 1.2"/>
<text transform="translate(508.41,292.05) rotate(17.89) scale(.1)" text-anchor="start" y="8" font-size="24.5" font-weight="bold" fill="#ff9326" stroke="#ff9326" stroke-width="1.6">TraesCS5A02G553800</text>
<line x1="457.91" y1="278.14" x2="505.87" y2="295.18" stroke="#bbbbbb" stroke-width="0.5" stroke-opacity="0.45" stroke-dasharray="0.6 1.2"/>
<text transform="translate(507.19,295.65) rotate(19.56) scale(.1)" text-anchor="start" y="8" font-size="24.5" font-weight="bold" fill="#ff9326" stroke="#ff9326" stroke-width="1.6">TraesCS1B02G205800</text>
<line x1="457.12" y1="280.28" x2="504.56" y2="298.71" stroke="#bbbbbb" stroke-width="0.5" stroke-opacity="0.45" stroke-dasharray="0.6 1.2"/>
<text transform="translate(505.87,299.21) rotate(21.23) scale(.1)" text-anchor="start" y="8" font-size="24.5" font-weight="bold" fill="#ff9326" stroke="#ff9326" stroke-width="1.6">TraesCS6B02G244700</text>
<line x1="491.64" y1="297.33" x2="503.15" y2="302.19" stroke="#bbbbbb" stroke-width="0.5" stroke-opacity="0.45" stroke-dasharray="0.6 1.2"/>
<text transform="translate(504.44,302.73) rotate(22.9) scale(.1)" text-anchor="start" y="8" font-size="24.5" font-weight="bold" fill="#ff9326" stroke="#ff9326" stroke-width="1.6">TraesCS5D02G262200</text>
<text transform="translate(502.91,306.21) rotate(24.57) scale(.1)" text-anchor="start" y="8" font-size="24.5" font-weight="bold" fill="#ff9326" stroke="#ff9326" stroke-width="1.6">TraesCS2B02G151800</text>
<line x1="490.61" y1="304.38" x2="500.03" y2="309.02" stroke="#bbbbbb" stroke-width="0.5" stroke-opacity="0.45" stroke-dasharray="0.6 1.2"/>
<text transform="translate(501.28,309.64) rotate(26.23) scale(.1)" text-anchor="start" y="8" font-size="24.5" font-weight="bold" fill="#ff9326" stroke="#ff9326" stroke-width="1.6">TraesCS3B02G488000</text>
<line x1="489.04" y1="307.46" x2="498.32" y2="312.37" stroke="#bbbbbb" stroke-width="0.5" stroke-opacity="0.45" stroke-dasharray="0.6 1.2"/>
<text transform="translate(499.55,313.03) rotate(27.9) scale(.1)" text-anchor="start" y="8" font-size="24.5" font-weight="bold" fill="#ff9326" stroke="#ff9326" stroke-width="1.6">TraesCS3B02G309000</text>
<line x1="487.38" y1="310.48" x2="496.51" y2="315.67" stroke="#bbbbbb" stroke-width="0.5" stroke-opacity="0.45" stroke-dasharray="0.6 1.2"/>
<text transform="translate(497.73,316.36) rotate(29.57) scale(.1)" text-anchor="start" y="8" font-size="24.5" font-weight="bold" fill="#ff9326" stroke="#ff9326" stroke-width="1.6">TraesCS1A02G466400</text>
<line x1="485.63" y1="313.46" x2="494.61" y2="318.91" stroke="#bbbbbb" stroke-width="0.5" stroke-opacity="0.45" stroke-dasharray="0.6 1.2"/>
<text transform="translate(495.81,319.63) rotate(31.24) scale(.1)" text-anchor="start" y="8" font-size="24.5" font-weight="bold" fill="#ff9326" stroke="#ff9326" stroke-width="1.6">TraesCS6D02G107700</text>
<line x1="471.62" y1="308.51" x2="492.61" y2="322.09" stroke="#bbbbbb" stroke-width="0.5" stroke-opacity="0.45" stroke-dasharray="0.6 1.2"/>
<text transform="translate(493.79,322.85) rotate(32.91) scale(.1)" text-anchor="start" y="8" font-size="24.5" font-weight="bold" fill="#ff9326" stroke="#ff9326" stroke-width="1.6">TraesCS3D02G182400</text>
<line x1="469.94" y1="311.03" x2="490.52" y2="325.22" stroke="#bbbbbb" stroke-width="0.5" stroke-opacity="0.45" stroke-dasharray="0.6 1.2"/>
<text transform="translate(491.68,326.01) rotate(34.58) scale(.1)" text-anchor="start" y="8" font-size="24.5" font-weight="bold" fill="#ff9326" stroke="#ff9326" stroke-width="1.6">TraesCS6B02G195600</text>
<line x1="468.19" y1="313.5" x2="488.35" y2="328.28" stroke="#bbbbbb" stroke-width="0.5" stroke-opacity="0.45" stroke-dasharray="0.6 1.2"/>
<text transform="translate(489.48,329.11) rotate(36.25) scale(.1)" text-anchor="start" y="8" font-size="24.5" font-weight="bold" fill="#ff9326" stroke="#ff9326" stroke-width="1.6">TraesCS3A02G555500</text>
<line x1="466.36" y1="315.91" x2="486.08" y2="331.28" stroke="#bbbbbb" stroke-width="0.5" stroke-opacity="0.45" stroke-dasharray="0.6 1.2"/>
<text transform="translate(487.19,332.14) rotate(37.92) scale(.1)" text-anchor="start" y="8" font-size="24.5" font-weight="bold" fill="#ff9326" stroke="#ff9326" stroke-width="1.6">TraesCS4D02G571900</text>
<line x1="464.46" y1="318.28" x2="483.73" y2="334.21" stroke="#bbbbbb" stroke-width="0.5" stroke-opacity="0.45" stroke-dasharray="0.6 1.2"/>
<text transform="translate(484.81,335.1) rotate(39.59) scale(.1)" text-anchor="start" y="8" font-size="24.5" font-weight="bold" fill="#ff9326" stroke="#ff9326" stroke-width="1.6">TraesCS1A02G492200</text>
<line x1="462.5" y1="320.58" x2="481.29" y2="337.07" stroke="#bbbbbb" stroke-width="0.5" stroke-opacity="0.45" stroke-dasharray="0.6 1.2"/>
<text transform="translate(482.34,337.99) rotate(41.26) scale(.1)" text-anchor="start" y="8" font-size="24.5" font-weight="bold" fill="#ff9326" stroke="#ff9326" stroke-width="1.6">TraesCS3B02G553000</text>
<line x1="460.47" y1="322.83" x2="478.77" y2="339.86" stroke="#bbbbbb" stroke-width="0.5" stroke-opacity="0.45" stroke-dasharray="0.6 1.2"/>
<text transform="translate(479.8,340.81) rotate(42.93) scale(.1)" text-anchor="start" y="8" font-size="24.5" font-weight="bold" fill="#ff9326" stroke="#ff9326" stroke-width="1.6">TraesCS7A02G359200</text>
<line x1="458.37" y1="325.02" x2="476.17" y2="342.57" stroke="#bbbbbb" stroke-width="0.5" stroke-opacity="0.45" stroke-dasharray="0.6 1.2"/>
<text transform="translate(477.17,343.55) rotate(44.6) scale(.1)" text-anchor="start" y="8" font-size="24.5" font-weight="bold" fill="#ff9326" stroke="#ff9326" stroke-width="1.6">TraesCS7A02G065500</text>
<line x1="456.21" y1="327.15" x2="473.5" y2="345.21" stroke="#bbbbbb" stroke-width="0.5" stroke-opacity="0.45" stroke-dasharray="0.6 1.2"/>
<text transform="translate(474.46,346.22) rotate(46.27) scale(.1)" text-anchor="start" y="8" font-size="24.5" font-weight="bold" fill="#ff9326" stroke="#ff9326" stroke-width="1.6">TraesCS3D02G532700</text>
<line x1="453.99" y1="329.21" x2="470.74" y2="347.77" stroke="#bbbbbb" stroke-width="0.5" stroke-opacity="0.45" stroke-dasharray="0.6 1.2"/>
<text transform="translate(471.68,348.81) rotate(47.93) scale(.1)" text-anchor="start" y="8" font-size="24.5" font-weight="bold" fill="#ff9326" stroke="#ff9326" stroke-width="1.6">TraesCS2D02G369600</text>
<line x1="451.71" y1="331.2" x2="467.92" y2="350.24" stroke="#bbbbbb" stroke-width="0.5" stroke-opacity="0.45" stroke-dasharray="0.6 1.2"/>
<text transform="translate(468.82,351.31) rotate(49.6) scale(.1)" text-anchor="start" y="8" font-size="24.5" font-weight="bold" fill="#ff9326" stroke="#ff9326" stroke-width="1.6">TraesCS3A02G099100</text>
<line x1="449.38" y1="333.13" x2="465.02" y2="352.64" stroke="#bbbbbb" stroke-width="0.5" stroke-opacity="0.45" stroke-dasharray="0.6 1.2"/>
<text transform="translate(465.89,353.73) rotate(51.27) scale(.1)" text-anchor="start" y="8" font-size="24.5" font-weight="bold" fill="#ff9326" stroke="#ff9326" stroke-width="1.6">TraesCS1D02G156400</text>
<line x1="446.99" y1="335" x2="462.05" y2="354.95" stroke="#bbbbbb" stroke-width="0.5" stroke-opacity="0.45" stroke-dasharray="0.6 1.2"/>
<text transform="translate(462.9,356.06) rotate(52.94) scale(.1)" text-anchor="start" y="8" font-size="24.5" font-weight="bold" fill="#ff9326" stroke="#ff9326" stroke-width="1.6">TraesCS3D02G150400</text>
<line x1="444.54" y1="336.79" x2="459.02" y2="357.17" stroke="#bbbbbb" stroke-width="0.5" stroke-opacity="0.45" stroke-dasharray="0.6 1.2"/>
<text transform="translate(459.83,358.31) rotate(54.61) scale(.1)" text-anchor="start" y="8" font-size="24.5" font-weight="bold" fill="#ff9326" stroke="#ff9326" stroke-width="1.6">TraesCS7B02G278700</text>
<line x1="442.05" y1="338.5" x2="455.93" y2="359.3" stroke="#bbbbbb" stroke-width="0.5" stroke-opacity="0.45" stroke-dasharray="0.6 1.2"/>
<text transform="translate(456.7,360.46) rotate(56.28) scale(.1)" text-anchor="start" y="8" font-size="24.5" font-weight="bold" fill="#ff9326" stroke="#ff9326" stroke-width="1.6">TraesCS7D02G070100</text>
<line x1="439.5" y1="340.15" x2="452.77" y2="361.34" stroke="#bbbbbb" stroke-width="0.5" stroke-opacity="0.45" stroke-dasharray="0.6 1.2"/>
<text transform="translate(453.51,362.53) rotate(57.95) scale(.1)" text-anchor="start" y="8" font-size="24.5" font-weight="bold" fill="#ff9326" stroke="#ff9326" stroke-width="1.6">TraesCS7D02G282900</text>
<line x1="436.91" y1="341.72" x2="449.56" y2="363.29" stroke="#bbbbbb" stroke-width="0.5" stroke-opacity="0.45" stroke-dasharray="0.6 1.2"/>
<text transform="translate(450.26,364.49) rotate(59.62) scale(.1)" text-anchor="start" y="8" font-size="24.5" font-weight="bold" fill="#ff9326" stroke="#ff9326" stroke-width="1.6">TraesCS5A02G345200</text>
<line x1="434.28" y1="343.21" x2="446.29" y2="365.14" stroke="#bbbbbb" stroke-width="0.5" stroke-opacity="0.45" stroke-dasharray="0.6 1.2"/>
<text transform="translate(446.96,366.37) rotate(61.29) scale(.1)" text-anchor="start" y="8" font-size="24.5" font-weight="bold" fill="#ff9326" stroke="#ff9326" stroke-width="1.6">TraesCS3D02G222200</text>
<line x1="431.6" y1="344.63" x2="442.97" y2="366.9" stroke="#bbbbbb" stroke-width="0.5" stroke-opacity="0.45" stroke-dasharray="0.6 1.2"/>
<text transform="translate(443.6,368.14) rotate(62.96) scale(.1)" text-anchor="start" y="8" font-size="24.5" font-weight="bold" fill="#ff9326" stroke="#ff9326" stroke-width="1.6">TraesCS4B02G519600</text>
<line x1="428.88" y1="345.97" x2="439.59" y2="368.56" stroke="#bbbbbb" stroke-width="0.5" stroke-opacity="0.45" stroke-dasharray="0.6 1.2"/>
<text transform="translate(440.19,369.82) rotate(64.63) scale(.1)" text-anchor="start" y="8" font-size="24.5" font-weight="bold" fill="#ff9326" stroke="#ff9326" stroke-width="1.6">TraesCS4B02G343900</text>
<line x1="426.12" y1="347.23" x2="436.17" y2="370.12" stroke="#bbbbbb" stroke-width="0.5" stroke-opacity="0.45" stroke-dasharray="0.6 1.2"/>
<text transform="translate(436.74,371.4) rotate(66.3) scale(.1)" text-anchor="start" y="8" font-size="24.5" font-weight="bold" fill="#ff9326" stroke="#ff9326" stroke-width="1.6">TraesCS5B02G029200</text>
<line x1="416.02" y1="330.33" x2="432.71" y2="371.58" stroke="#bbbbbb" stroke-width="0.5" stroke-opacity="0.45" stroke-dasharray="0.6 1.2"/>
<text transform="translate(433.24,372.88) rotate(67.97) scale(.1)" text-anchor="start" y="8" font-size="24.5" font-weight="bold" fill="#ff3636" stroke="#ff3636" stroke-width="1.6">TraesCS4A02G163500</text>
<line x1="418.61" y1="344.34" x2="429.23" y2="372.93" stroke="#bbbbbb" stroke-width="0.5" stroke-opacity="0.45" stroke-dasharray="0.6 1.2"/>
<text transform="translate(429.72,374.24) rotate(69.62) scale(.1)" text-anchor="start" y="8" font-size="24.5" font-weight="bold" fill="#3a3a3a" stroke="#3a3a3a" stroke-width="1.6">TraesCS1B02G510100</text>
<line x1="415.94" y1="345.29" x2="425.73" y2="374.17" stroke="#bbbbbb" stroke-width="0.5" stroke-opacity="0.45" stroke-dasharray="0.6 1.2"/>
<text transform="translate(426.18,375.5) rotate(71.28) scale(.1)" text-anchor="start" y="8" font-size="24.5" font-weight="bold" fill="#3a3a3a" stroke="#3a3a3a" stroke-width="1.6">TraesCS5B02G457900</text>
<line x1="413.24" y1="346.16" x2="422.19" y2="375.31" stroke="#bbbbbb" stroke-width="0.5" stroke-opacity="0.45" stroke-dasharray="0.6 1.2"/>
<text transform="translate(422.6,376.65) rotate(72.93) scale(.1)" text-anchor="start" y="8" font-size="24.5" font-weight="bold" fill="#3a3a3a" stroke="#3a3a3a" stroke-width="1.6">TraesCS6A02G026500</text>
<line x1="410.51" y1="346.95" x2="418.63" y2="376.35" stroke="#bbbbbb" stroke-width="0.5" stroke-opacity="0.45" stroke-dasharray="0.6 1.2"/>
<text transform="translate(419,377.7) rotate(74.58) scale(.1)" text-anchor="start" y="8" font-size="24.5" font-weight="bold" fill="#3a3a3a" stroke="#3a3a3a" stroke-width="1.6">TraesCS6B02G617200</text>
<line x1="404.2" y1="333.1" x2="415.03" y2="377.29" stroke="#bbbbbb" stroke-width="0.5" stroke-opacity="0.45" stroke-dasharray="0.6 1.2"/>
<text transform="translate(415.36,378.65) rotate(76.23) scale(.1)" text-anchor="start" y="8" font-size="24.5" font-weight="bold" fill="#ff3636" stroke="#ff3636" stroke-width="1.6">TraesCS6D02G425200</text>
<line x1="399.12" y1="320.93" x2="411.41" y2="378.12" stroke="#bbbbbb" stroke-width="0.5" stroke-opacity="0.45" stroke-dasharray="0.6 1.2"/>
<text transform="translate(411.7,379.49) rotate(77.88) scale(.1)" text-anchor="start" y="8" font-size="24.5" font-weight="bold" fill="#ff3636" stroke="#ff3636" stroke-width="1.6">TraesCS3D02G279500</text>
<line x1="404.22" y1="359.68" x2="407.76" y2="378.85" stroke="#bbbbbb" stroke-width="0.5" stroke-opacity="0.45" stroke-dasharray="0.6 1.2"/>
<text transform="translate(408.02,380.23) rotate(79.53) scale(.1)" text-anchor="start" y="8" font-size="24.5" font-weight="bold" fill="#ff3636" stroke="#ff3636" stroke-width="1.6">TraesCS2A02G482300</text>
<line x1="399.27" y1="348.35" x2="404.1" y2="379.47" stroke="#bbbbbb" stroke-width="0.5" stroke-opacity="0.45" stroke-dasharray="0.6 1.2"/>
<text transform="translate(404.32,380.86) rotate(81.18) scale(.1)" text-anchor="start" y="8" font-size="24.5" font-weight="bold" fill="#ff3636" stroke="#ff3636" stroke-width="1.6">TraesCS3A02G200400</text>
<line x1="396.49" y1="348.74" x2="400.42" y2="379.99" stroke="#bbbbbb" stroke-width="0.5" stroke-opacity="0.45" stroke-dasharray="0.6 1.2"/>
<text transform="translate(400.6,381.38) rotate(82.83) scale(.1)" text-anchor="start" y="8" font-size="24.5" font-weight="bold" fill="#ff3636" stroke="#ff3636" stroke-width="1.6">TraesCS1A02G568300</text>
<line x1="393.7" y1="349.05" x2="396.73" y2="380.4" stroke="#bbbbbb" stroke-width="0.5" stroke-opacity="0.45" stroke-dasharray="0.6 1.2"/>
<text transform="translate(396.86,381.8) rotate(84.48) scale(.1)" text-anchor="start" y="8" font-size="24.5" font-weight="bold" fill="#ff3636" stroke="#ff3636" stroke-width="1.6">TraesCS5A02G352200</text>
<line x1="390.9" y1="349.28" x2="393.02" y2="380.71" stroke="#bbbbbb" stroke-width="0.5" stroke-opacity="0.45" stroke-dasharray="0.6 1.2"/>
<text transform="translate(393.12,382.1) rotate(86.13) scale(.1)" text-anchor="start" y="8" font-size="24.5" font-weight="bold" fill="#ff3636" stroke="#ff3636" stroke-width="1.6">TraesCS5A02G010800</text>
<line x1="388.09" y1="349.43" x2="389.31" y2="380.9" stroke="#bbbbbb" stroke-width="0.5" stroke-opacity="0.45" stroke-dasharray="0.6 1.2"/>
<text transform="translate(389.37,382.3) rotate(87.78) scale(.1)" text-anchor="start" y="8" font-size="24.5" font-weight="bold" fill="#ff3636" stroke="#ff3636" stroke-width="1.6">TraesCS4D02G099000</text>
<line x1="385.28" y1="349.5" x2="385.6" y2="380.99" stroke="#bbbbbb" stroke-width="0.5" stroke-opacity="0.45" stroke-dasharray="0.6 1.2"/>
<text transform="translate(385.61,382.39) rotate(89.43) scale(.1)" text-anchor="start" y="8" font-size="24.5" font-weight="bold" fill="#ff3636" stroke="#ff3636" stroke-width="1.6">TraesCS2D02G245700</text>
<line x1="382.44" y1="351.48" x2="381.88" y2="380.98" stroke="#bbbbbb" stroke-width="0.5" stroke-opacity="0.45" stroke-dasharray="0.6 1.2"/>
<text transform="translate(381.85,382.38) rotate(271.08) scale(.1)" text-anchor="end" y="8" font-size="24.5" font-weight="bold" fill="#ff3636" stroke="#ff3636" stroke-width="1.6">TraesCS2D02G016300</text>
<line x1="379.57" y1="351.39" x2="378.17" y2="380.85" stroke="#bbbbbb" stroke-width="0.5" stroke-opacity="0.45" stroke-dasharray="0.6 1.2"/>
<text transform="translate(378.1,382.25) rotate(272.73) scale(.1)" text-anchor="end" y="8" font-size="24.5" font-weight="bold" fill="#ff3636" stroke="#ff3636" stroke-width="1.6">TraesCS5D02G339000</text>
<line x1="376.71" y1="351.21" x2="374.46" y2="380.62" stroke="#bbbbbb" stroke-width="0.5" stroke-opacity="0.45" stroke-dasharray="0.6 1.2"/>
<text transform="translate(374.35,382.02) rotate(274.38) scale(.1)" text-anchor="end" y="8" font-size="24.5" font-weight="bold" fill="#ff3636" stroke="#ff3636" stroke-width="1.6">TraesCS1D02G093100</text>
<line x1="373.86" y1="350.95" x2="370.76" y2="380.29" stroke="#bbbbbb" stroke-width="0.5" stroke-opacity="0.45" stroke-dasharray="0.6 1.2"/>
<text transform="translate(370.61,381.68) rotate(276.03) scale(.1)" text-anchor="end" y="8" font-size="24.5" font-weight="bold" fill="#ff3636" stroke="#ff3636" stroke-width="1.6">TraesCS3A02G206900</text>
<line x1="371.01" y1="350.61" x2="367.07" y2="379.84" stroke="#bbbbbb" stroke-width="0.5" stroke-opacity="0.45" stroke-dasharray="0.6 1.2"/>
<text transform="translate(366.88,381.23) rotate(277.68) scale(.1)" text-anchor="end" y="8" font-size="24.5" font-weight="bold" fill="#ff3636" stroke="#ff3636" stroke-width="1.6">TraesCS7D02G391000</text>
<line x1="368.1" y1="350.68" x2="363.39" y2="379.29" stroke="#bbbbbb" stroke-width="0.5" stroke-opacity="0.45" stroke-dasharray="0.6 1.2"/>
<text transform="translate(363.16,380.67) rotate(279.33) scale(.1)" text-anchor="end" y="8" font-size="24.5" font-weight="bold" fill="#ff3636" stroke="#ff3636" stroke-width="1.6">TraesCS7A02G288300</text>
<line x1="365.26" y1="350.17" x2="359.73" y2="378.64" stroke="#bbbbbb" stroke-width="0.5" stroke-opacity="0.45" stroke-dasharray="0.6 1.2"/>
<text transform="translate(359.47,380.01) rotate(280.99) scale(.1)" text-anchor="end" y="8" font-size="24.5" font-weight="bold" fill="#ff3636" stroke="#ff3636" stroke-width="1.6">TraesCS2A02G100200</text>
<line x1="362.44" y1="349.58" x2="356.1" y2="377.88" stroke="#bbbbbb" stroke-width="0.5" stroke-opacity="0.45" stroke-dasharray="0.6 1.2"/>
<text transform="translate(355.79,379.24) rotate(282.64) scale(.1)" text-anchor="end" y="8" font-size="24.5" font-weight="bold" fill="#ff3636" stroke="#ff3636" stroke-width="1.6">TraesCS5A02G140400</text>
<line x1="359.64" y1="348.91" x2="352.48" y2="377.01" stroke="#bbbbbb" stroke-width="0.5" stroke-opacity="0.45" stroke-dasharray="0.6 1.2"/>
<text transform="translate(352.14,378.37) rotate(284.29) scale(.1)" text-anchor="end" y="8" font-size="24.5" font-weight="bold" fill="#ff3636" stroke="#ff3636" stroke-width="1.6">TraesCS2B02G105300</text>
<line x1="356.86" y1="348.16" x2="348.89" y2="376.04" stroke="#bbbbbb" stroke-width="0.5" stroke-opacity="0.45" stroke-dasharray="0.6 1.2"/>
<text transform="translate(348.51,377.39) rotate(285.94) scale(.1)" text-anchor="end" y="8" font-size="24.5" font-weight="bold" fill="#ff3636" stroke="#ff3636" stroke-width="1.6">TraesCS7A02G399400</text>
<line x1="354.1" y1="347.33" x2="345.34" y2="374.97" stroke="#bbbbbb" stroke-width="0.5" stroke-opacity="0.45" stroke-dasharray="0.6 1.2"/>
<text transform="translate(344.91,376.3) rotate(287.59) scale(.1)" text-anchor="end" y="8" font-size="24.5" font-weight="bold" fill="#ff3636" stroke="#ff3636" stroke-width="1.6">TraesCS6D02G328000</text>
<line x1="363.39" y1="311.95" x2="341.81" y2="373.8" stroke="#bbbbbb" stroke-width="0.5" stroke-opacity="0.45" stroke-dasharray="0.6 1.2"/>
<text transform="translate(341.35,375.12) rotate(289.24) scale(.1)" text-anchor="end" y="8" font-size="24.5" font-weight="bold" fill="#ff3636" stroke="#ff3636" stroke-width="1.6">TraesCS1B02G203400</text>
<line x1="361.67" y1="311.33" x2="338.32" y2="372.52" stroke="#bbbbbb" stroke-width="0.5" stroke-opacity="0.45" stroke-dasharray="0.6 1.2"/>
<text transform="translate(337.82,373.83) rotate(290.89) scale(.1)" text-anchor="end" y="8" font-size="24.5" font-weight="bold" fill="#ff3636" stroke="#ff3636" stroke-width="1.6">TraesCS3D02G432000</text>
<line x1="359.97" y1="310.65" x2="334.87" y2="371.15" stroke="#bbbbbb" stroke-width="0.5" stroke-opacity="0.45" stroke-dasharray="0.6 1.2"/>
<text transform="translate(334.33,372.44) rotate(292.54) scale(.1)" text-anchor="end" y="8" font-size="24.5" font-weight="bold" fill="#ff3636" stroke="#ff3636" stroke-width="1.6">TraesCS5B02G041800</text>
<line x1="358.29" y1="309.92" x2="331.45" y2="369.67" stroke="#bbbbbb" stroke-width="0.5" stroke-opacity="0.45" stroke-dasharray="0.6 1.2"/>
<text transform="translate(330.88,370.95) rotate(294.19) scale(.1)" text-anchor="end" y="8" font-size="24.5" font-weight="bold" fill="#ff3636" stroke="#ff3636" stroke-width="1.6">TraesCS4B02G636200</text>
<line x1="356.64" y1="309.15" x2="328.09" y2="368.1" stroke="#bbbbbb" stroke-width="0.5" stroke-opacity="0.45" stroke-dasharray="0.6 1.2"/>
<text transform="translate(327.48,369.36) rotate(295.84) scale(.1)" text-anchor="end" y="8" font-size="24.5" font-weight="bold" fill="#ff3636" stroke="#ff3636" stroke-width="1.6">TraesCS7A02G045000</text>
<line x1="355" y1="308.33" x2="324.77" y2="366.43" stroke="#bbbbbb" stroke-width="0.5" stroke-opacity="0.45" stroke-dasharray="0.6 1.2"/>
<text transform="translate(324.12,367.67) rotate(297.49) scale(.1)" text-anchor="end" y="8" font-size="24.5" font-weight="bold" fill="#ff3636" stroke="#ff3636" stroke-width="1.6">TraesCS7A02G037900</text>
<line x1="353.39" y1="307.46" x2="321.49" y2="364.67" stroke="#bbbbbb" stroke-width="0.5" stroke-opacity="0.45" stroke-dasharray="0.6 1.2"/>
<text transform="translate(320.81,365.89) rotate(299.14) scale(.1)" text-anchor="end" y="8" font-size="24.5" font-weight="bold" fill="#ff3636" stroke="#ff3636" stroke-width="1.6">TraesCS1A02G056100</text>
<line x1="351.81" y1="306.55" x2="318.27" y2="362.81" stroke="#bbbbbb" stroke-width="0.5" stroke-opacity="0.45" stroke-dasharray="0.6 1.2"/>
<text transform="translate(317.56,364.02) rotate(300.79) scale(.1)" text-anchor="end" y="8" font-size="24.5" font-weight="bold" fill="#ff3636" stroke="#ff3636" stroke-width="1.6">TraesCS4A02G583900</text>
<line x1="350.25" y1="305.59" x2="315.11" y2="360.87" stroke="#bbbbbb" stroke-width="0.5" stroke-opacity="0.45" stroke-dasharray="0.6 1.2"/>
<text transform="translate(314.36,362.05) rotate(302.44) scale(.1)" text-anchor="end" y="8" font-size="24.5" font-weight="bold" fill="#ff3636" stroke="#ff3636" stroke-width="1.6">TraesCS1D02G411400</text>
<line x1="348.72" y1="304.59" x2="312" y2="358.83" stroke="#bbbbbb" stroke-width="0.5" stroke-opacity="0.45" stroke-dasharray="0.6 1.2"/>
<text transform="translate(311.22,359.99) rotate(304.09) scale(.1)" text-anchor="end" y="8" font-size="24.5" font-weight="bold" fill="#ff3636" stroke="#ff3636" stroke-width="1.6">TraesCS4B02G128700</text>
<line x1="347.22" y1="303.54" x2="308.96" y2="356.7" stroke="#bbbbbb" stroke-width="0.5" stroke-opacity="0.45" stroke-dasharray="0.6 1.2"/>
<text transform="translate(308.14,357.84) rotate(305.75) scale(.1)" text-anchor="end" y="8" font-size="24.5" font-weight="bold" fill="#ff3636" stroke="#ff3636" stroke-width="1.6">TraesCS3A02G287800</text>
<line x1="345.75" y1="302.45" x2="305.97" y2="354.48" stroke="#bbbbbb" stroke-width="0.5" stroke-opacity="0.45" stroke-dasharray="0.6 1.2"/>
<text transform="translate(305.12,355.6) rotate(307.4) scale(.1)" text-anchor="end" y="8" font-size="24.5" font-weight="bold" fill="#ff3636" stroke="#ff3636" stroke-width="1.6">TraesCS4D02G319200</text>
<line x1="344.31" y1="301.32" x2="303.05" y2="352.19" stroke="#bbbbbb" stroke-width="0.5" stroke-opacity="0.45" stroke-dasharray="0.6 1.2"/>
<text transform="translate(302.17,353.27) rotate(309.05) scale(.1)" text-anchor="end" y="8" font-size="24.5" font-weight="bold" fill="#ff3636" stroke="#ff3636" stroke-width="1.6">TraesCS5B02G295600</text>
<line x1="342.91" y1="300.14" x2="300.2" y2="349.8" stroke="#bbbbbb" stroke-width="0.5" stroke-opacity="0.45" stroke-dasharray="0.6 1.2"/>
<text transform="translate(299.29,350.86) rotate(310.7) scale(.1)" text-anchor="end" y="8" font-size="24.5" font-weight="bold" fill="#ff3636" stroke="#ff3636" stroke-width="1.6">TraesCS3A02G269400</text>
<line x1="341.54" y1="298.93" x2="297.42" y2="347.34" stroke="#bbbbbb" stroke-width="0.5" stroke-opacity="0.45" stroke-dasharray="0.6 1.2"/>
<text transform="translate(296.47,348.37) rotate(312.35) scale(.1)" text-anchor="end" y="8" font-size="24.5" font-weight="bold" fill="#ff3636" stroke="#ff3636" stroke-width="1.6">TraesCS4A02G104600</text>
<line x1="340.21" y1="297.68" x2="294.71" y2="344.8" stroke="#bbbbbb" stroke-width="0.5" stroke-opacity="0.45" stroke-dasharray="0.6 1.2"/>
<text transform="translate(293.73,345.8) rotate(314) scale(.1)" text-anchor="end" y="8" font-size="24.5" font-weight="bold" fill="#ff3636" stroke="#ff3636" stroke-width="1.6">TraesCS5A02G586600</text>
<line x1="338.91" y1="296.39" x2="292.07" y2="342.18" stroke="#bbbbbb" stroke-width="0.5" stroke-opacity="0.45" stroke-dasharray="0.6 1.2"/>
<text transform="translate(291.07,343.16) rotate(315.65) scale(.1)" text-anchor="end" y="8" font-size="24.5" font-weight="bold" fill="#ff3636" stroke="#ff3636" stroke-width="1.6">TraesCS6B02G065500</text>
<line x1="337.65" y1="295.06" x2="289.51" y2="339.48" stroke="#bbbbbb" stroke-width="0.5" stroke-opacity="0.45" stroke-dasharray="0.6 1.2"/>
<text transform="translate(288.48,340.43) rotate(317.3) scale(.1)" text-anchor="end" y="8" font-size="24.5" font-weight="bold" fill="#ff3636" stroke="#ff3636" stroke-width="1.6">TraesCS5A02G035200</text>
<line x1="336.43" y1="293.7" x2="287.03" y2="336.72" stroke="#bbbbbb" stroke-width="0.5" stroke-opacity="0.45" stroke-dasharray="0.6 1.2"/>
<text transform="translate(285.98,337.63) rotate(318.95) scale(.1)" text-anchor="end" y="8" font-size="24.5" font-weight="bold" fill="#ff3636" stroke="#ff3636" stroke-width="1.6">TraesCS3B02G495200</text>
<line x1="335.25" y1="292.3" x2="284.63" y2="333.88" stroke="#bbbbbb" stroke-width="0.5" stroke-opacity="0.45" stroke-dasharray="0.6 1.2"/>
<text transform="translate(283.55,334.77) rotate(320.6) scale(.1)" text-anchor="end" y="8" font-size="24.5" font-weight="bold" fill="#ff3636" stroke="#ff3636" stroke-width="1.6">TraesCS6D02G311600</text>
<line x1="334.11" y1="290.87" x2="282.31" y2="330.97" stroke="#bbbbbb" stroke-width="0.5" stroke-opacity="0.45" stroke-dasharray="0.6 1.2"/>
<text transform="translate(281.21,331.83) rotate(322.25) scale(.1)" text-anchor="end" y="8" font-size="24.5" font-weight="bold" fill="#ff3636" stroke="#ff3636" stroke-width="1.6">TraesCS6A02G510400</text>
<line x1="333.01" y1="289.41" x2="280.08" y2="328" stroke="#bbbbbb" stroke-width="0.5" stroke-opacity="0.45" stroke-dasharray="0.6 1.2"/>
<text transform="translate(278.95,328.83) rotate(323.9) scale(.1)" text-anchor="end" y="8" font-size="24.5" font-weight="bold" fill="#ff3636" stroke="#ff3636" stroke-width="1.6">TraesCS4A02G305100</text>
<line x1="331.95" y1="287.92" x2="277.94" y2="324.97" stroke="#bbbbbb" stroke-width="0.5" stroke-opacity="0.45" stroke-dasharray="0.6 1.2"/>
<text transform="translate(276.78,325.76) rotate(325.55) scale(.1)" text-anchor="end" y="8" font-size="24.5" font-weight="bold" fill="#ff3636" stroke="#ff3636" stroke-width="1.6">TraesCS6B02G622700</text>
<line x1="330.94" y1="286.39" x2="275.88" y2="321.87" stroke="#bbbbbb" stroke-width="0.5" stroke-opacity="0.45" stroke-dasharray="0.6 1.2"/>
<text transform="translate(274.7,322.63) rotate(327.2) scale(.1)" text-anchor="end" y="8" font-size="24.5" font-weight="bold" fill="#ff3636" stroke="#ff3636" stroke-width="1.6">TraesCS6B02G344500</text>
<line x1="329.97" y1="284.84" x2="273.91" y2="318.72" stroke="#bbbbbb" stroke-width="0.5" stroke-opacity="0.45" stroke-dasharray="0.6 1.2"/>
<text transform="translate(272.71,319.44) rotate(328.85) scale(.1)" text-anchor="end" y="8" font-size="24.5" font-weight="bold" fill="#ff3636" stroke="#ff3636" stroke-width="1.6">TraesCS6B02G377600</text>
<line x1="329.04" y1="283.26" x2="272.03" y2="315.51" stroke="#bbbbbb" stroke-width="0.5" stroke-opacity="0.45" stroke-dasharray="0.6 1.2"/>
<text transform="translate(270.82,316.2) rotate(330.51) scale(.1)" text-anchor="end" y="8" font-size="24.5" font-weight="bold" fill="#ff3636" stroke="#ff3636" stroke-width="1.6">TraesCS1A02G179200</text>
<line x1="328.17" y1="281.66" x2="270.25" y2="312.25" stroke="#bbbbbb" stroke-width="0.5" stroke-opacity="0.45" stroke-dasharray="0.6 1.2"/>
<text transform="translate(269.01,312.91) rotate(332.16) scale(.1)" text-anchor="end" y="8" font-size="24.5" font-weight="bold" fill="#ff3636" stroke="#ff3636" stroke-width="1.6">TraesCS5B02G569500</text>
<line x1="327.34" y1="280.03" x2="268.56" y2="308.94" stroke="#bbbbbb" stroke-width="0.5" stroke-opacity="0.45" stroke-dasharray="0.6 1.2"/>
<text transform="translate(267.31,309.56) rotate(333.81) scale(.1)" text-anchor="end" y="8" font-size="24.5" font-weight="bold" fill="#ff3636" stroke="#ff3636" stroke-width="1.6">TraesCS5A02G348100</text>
<line x1="326.55" y1="278.38" x2="266.97" y2="305.58" stroke="#bbbbbb" stroke-width="0.5" stroke-opacity="0.45" stroke-dasharray="0.6 1.2"/>
<text transform="translate(265.7,306.16) rotate(335.46) scale(.1)" text-anchor="end" y="8" font-size="24.5" font-weight="bold" fill="#ff3636" stroke="#ff3636" stroke-width="1.6">TraesCS2B02G106800</text>
<line x1="325.82" y1="276.7" x2="265.48" y2="302.18" stroke="#bbbbbb" stroke-width="0.5" stroke-opacity="0.45" stroke-dasharray="0.6 1.2"/>
<text transform="translate(264.19,302.72) rotate(337.11) scale(.1)" text-anchor="end" y="8" font-size="24.5" font-weight="bold" fill="#ff3636" stroke="#ff3636" stroke-width="1.6">TraesCS1B02G306600</text>
<line x1="325.13" y1="275.01" x2="264.08" y2="298.74" stroke="#bbbbbb" stroke-width="0.5" stroke-opacity="0.45" stroke-dasharray="0.6 1.2"/>
<text transform="translate(262.77,299.24) rotate(338.76) scale(.1)" text-anchor="end" y="8" font-size="24.5" font-weight="bold" fill="#ff3636" stroke="#ff3636" stroke-width="1.6">TraesCS5B02G099500</text>
<line x1="324.49" y1="273.29" x2="262.78" y2="295.25" stroke="#bbbbbb" stroke-width="0.5" stroke-opacity="0.45" stroke-dasharray="0.6 1.2"/>
<text transform="translate(261.46,295.72) rotate(340.41) scale(.1)" text-anchor="end" y="8" font-size="24.5" font-weight="bold" fill="#ff3636" stroke="#ff3636" stroke-width="1.6">TraesCS4D02G100900</text>
<line x1="323.9" y1="271.56" x2="261.59" y2="291.73" stroke="#bbbbbb" stroke-width="0.5" stroke-opacity="0.45" stroke-dasharray="0.6 1.2"/>
<text transform="translate(260.26,292.17) rotate(342.06) scale(.1)" text-anchor="end" y="8" font-size="24.5" font-weight="bold" fill="#ff3636" stroke="#ff3636" stroke-width="1.6">TraesCS7D02G542600</text>
<line x1="323.36" y1="269.81" x2="260.49" y2="288.18" stroke="#bbbbbb" stroke-width="0.5" stroke-opacity="0.45" stroke-dasharray="0.6 1.2"/>
<text transform="translate(259.15,288.58) rotate(343.71) scale(.1)" text-anchor="end" y="8" font-size="24.5" font-weight="bold" fill="#ff3636" stroke="#ff3636" stroke-width="1.6">TraesCS7D02G308400</text>
<line x1="322.88" y1="268.05" x2="259.5" y2="284.6" stroke="#bbbbbb" stroke-width="0.5" stroke-opacity="0.45" stroke-dasharray="0.6 1.2"/>
<text transform="translate(258.15,284.95) rotate(345.36) scale(.1)" text-anchor="end" y="8" font-size="24.5" font-weight="bold" fill="#ff3636" stroke="#ff3636" stroke-width="1.6">TraesCS6A02G601100</text>
<line x1="322.44" y1="266.27" x2="258.62" y2="280.99" stroke="#bbbbbb" stroke-width="0.5" stroke-opacity="0.45" stroke-dasharray="0.6 1.2"/>
<text transform="translate(257.25,281.31) rotate(347.01) scale(.1)" text-anchor="end" y="8" font-size="24.5" font-weight="bold" fill="#ff3636" stroke="#ff3636" stroke-width="1.6">TraesCS3D02G435800</text>
<line x1="322.05" y1="264.48" x2="257.83" y2="277.36" stroke="#bbbbbb" stroke-width="0.5" stroke-opacity="0.45" stroke-dasharray="0.6 1.2"/>
<text transform="translate(256.46,277.63) rotate(348.66) scale(.1)" text-anchor="end" y="8" font-size="24.5" font-weight="bold" fill="#ff3636" stroke="#ff3636" stroke-width="1.6">TraesCS1D02G587100</text>
<line x1="321.72" y1="262.68" x2="257.15" y2="273.71" stroke="#bbbbbb" stroke-width="0.5" stroke-opacity="0.45" stroke-dasharray="0.6 1.2"/>
<text transform="translate(255.77,273.94) rotate(350.31) scale(.1)" text-anchor="end" y="8" font-size="24.5" font-weight="bold" fill="#ff3636" stroke="#ff3636" stroke-width="1.6">TraesCS1B02G117600</text>
<line x1="321.44" y1="260.88" x2="256.58" y2="270.03" stroke="#bbbbbb" stroke-width="0.5" stroke-opacity="0.45" stroke-dasharray="0.6 1.2"/>
<text transform="translate(255.2,270.23) rotate(351.96) scale(.1)" text-anchor="end" y="8" font-size="24.5" font-weight="bold" fill="#ff3636" stroke="#ff3636" stroke-width="1.6">TraesCS2B02G036400</text>
<line x1="321.21" y1="259.06" x2="256.12" y2="266.35" stroke="#bbbbbb" stroke-width="0.5" stroke-opacity="0.45" stroke-dasharray="0.6 1.2"/>
<text transform="translate(254.72,266.5) rotate(353.61) scale(.1)" text-anchor="end" y="8" font-size="24.5" font-weight="bold" fill="#ff3636" stroke="#ff3636" stroke-width="1.6">TraesCS5A02G462300</text>
<line x1="321.03" y1="257.24" x2="255.76" y2="262.65" stroke="#bbbbbb" stroke-width="0.5" stroke-opacity="0.45" stroke-dasharray="0.6 1.2"/>
<text transform="translate(254.36,262.76) rotate(355.27) scale(.1)" text-anchor="end" y="8" font-size="24.5" font-weight="bold" fill="#ff3636" stroke="#ff3636" stroke-width="1.6">TraesCS1D02G307900</text>
<line x1="320.91" y1="255.42" x2="255.5" y2="258.94" stroke="#bbbbbb" stroke-width="0.5" stroke-opacity="0.45" stroke-dasharray="0.6 1.2"/>
<text transform="translate(254.1,259.02) rotate(356.92) scale(.1)" text-anchor="end" y="8" font-size="24.5" font-weight="bold" fill="#ff3636" stroke="#ff3636" stroke-width="1.6">TraesCS2A02G279800</text>
<line x1="320.84" y1="253.59" x2="255.36" y2="255.23" stroke="#bbbbbb" stroke-width="0.5" stroke-opacity="0.45" stroke-dasharray="0.6 1.2"/>
<text transform="translate(253.96,255.26) rotate(358.57) scale(.1)" text-anchor="end" y="8" font-size="24.5" font-weight="bold" fill="#ff3636" stroke="#ff3636" stroke-width="1.6">TraesCS7A02G020900</text>
<line x1="320.82" y1="251.76" x2="255.32" y2="251.51" stroke="#bbbbbb" stroke-width="0.5" stroke-opacity="0.45" stroke-dasharray="0.6 1.2"/>
<text transform="translate(253.92,251.51) rotate(360.22) scale(.1)" text-anchor="end" y="8" font-size="24.5" font-weight="bold" fill="#ff3636" stroke="#ff3636" stroke-width="1.6">TraesCS7A02G551800</text>
<line x1="320.85" y1="249.93" x2="255.38" y2="247.79" stroke="#bbbbbb" stroke-width="0.5" stroke-opacity="0.45" stroke-dasharray="0.6 1.2"/>
<text transform="translate(253.98,247.75) rotate(361.87) scale(.1)" text-anchor="end" y="8" font-size="24.5" font-weight="bold" fill="#ff3636" stroke="#ff3636" stroke-width="1.6">TraesCS4D02G233100</text>
<line x1="320.94" y1="248.1" x2="255.56" y2="244.08" stroke="#bbbbbb" stroke-width="0.5" stroke-opacity="0.45" stroke-dasharray="0.6 1.2"/>
<text transform="translate(254.16,244) rotate(363.52) scale(.1)" text-anchor="end" y="8" font-size="24.5" font-weight="bold" fill="#ff3636" stroke="#ff3636" stroke-width="1.6">TraesCS5B02G072800</text>
<line x1="321.07" y1="246.28" x2="255.84" y2="240.38" stroke="#bbbbbb" stroke-width="0.5" stroke-opacity="0.45" stroke-dasharray="0.6 1.2"/>
<text transform="translate(254.45,240.25) rotate(365.17) scale(.1)" text-anchor="end" y="8" font-size="24.5" font-weight="bold" fill="#ff3636" stroke="#ff3636" stroke-width="1.6">TraesCS1D02G418900</text>
<line x1="321.26" y1="244.46" x2="256.23" y2="236.68" stroke="#bbbbbb" stroke-width="0.5" stroke-opacity="0.45" stroke-dasharray="0.6 1.2"/>
<text transform="translate(254.84,236.51) rotate(366.82) scale(.1)" text-anchor="end" y="8" font-size="24.5" font-weight="bold" fill="#ff3636" stroke="#ff3636" stroke-width="1.6">TraesCS5D02G195300</text>
<line x1="321.51" y1="242.65" x2="256.72" y2="233" stroke="#bbbbbb" stroke-width="0.5" stroke-opacity="0.45" stroke-dasharray="0.6 1.2"/>
<text transform="translate(255.34,232.79) rotate(368.47) scale(.1)" text-anchor="end" y="8" font-size="24.5" font-weight="bold" fill="#ff3636" stroke="#ff3636" stroke-width="1.6">TraesCS1D02G613600</text>
<line x1="321.8" y1="240.84" x2="257.32" y2="229.33" stroke="#bbbbbb" stroke-width="0.5" stroke-opacity="0.45" stroke-dasharray="0.6 1.2"/>
<text transform="translate(255.94,229.08) rotate(370.12) scale(.1)" text-anchor="end" y="8" font-size="24.5" font-weight="bold" fill="#ff3636" stroke="#ff3636" stroke-width="1.6">TraesCS1D02G050100</text>
<line x1="322.15" y1="239.04" x2="258.03" y2="225.68" stroke="#bbbbbb" stroke-width="0.5" stroke-opacity="0.45" stroke-dasharray="0.6 1.2"/>
<text transform="translate(256.66,225.4) rotate(371.77) scale(.1)" text-anchor="end" y="8" font-size="24.5" font-weight="bold" fill="#ff3636" stroke="#ff3636" stroke-width="1.6">TraesCS5B02G462100</text>
<line x1="322.55" y1="237.26" x2="258.84" y2="222.05" stroke="#bbbbbb" stroke-width="0.5" stroke-opacity="0.45" stroke-dasharray="0.6 1.2"/>
<text transform="translate(257.48,221.73) rotate(373.42) scale(.1)" text-anchor="end" y="8" font-size="24.5" font-weight="bold" fill="#ff3636" stroke="#ff3636" stroke-width="1.6">TraesCS2A02G198400</text>
<line x1="323" y1="235.49" x2="259.75" y2="218.45" stroke="#bbbbbb" stroke-width="0.5" stroke-opacity="0.45" stroke-dasharray="0.6 1.2"/>
<text transform="translate(258.4,218.09) rotate(375.07) scale(.1)" text-anchor="end" y="8" font-size="24.5" font-weight="bold" fill="#ff3636" stroke="#ff3636" stroke-width="1.6">TraesCS2D02G204800</text>
<line x1="323.5" y1="233.73" x2="260.77" y2="214.88" stroke="#bbbbbb" stroke-width="0.5" stroke-opacity="0.45" stroke-dasharray="0.6 1.2"/>
<text transform="translate(259.43,214.48) rotate(376.72) scale(.1)" text-anchor="end" y="8" font-size="24.5" font-weight="bold" fill="#ff3636" stroke="#ff3636" stroke-width="1.6">TraesCS4D02G573600</text>
<line x1="324.05" y1="231.98" x2="261.89" y2="211.34" stroke="#bbbbbb" stroke-width="0.5" stroke-opacity="0.45" stroke-dasharray="0.6 1.2"/>
<text transform="translate(260.56,210.89) rotate(378.37) scale(.1)" text-anchor="end" y="8" font-size="24.5" font-weight="bold" fill="#ff3636" stroke="#ff3636" stroke-width="1.6">TraesCS7B02G207200</text>
<line x1="285.25" y1="194.59" x2="272.7" y2="187.32" stroke="#bbbbbb" stroke-width="0.5" stroke-opacity="0.45" stroke-dasharray="0.6 1.2"/>
<text transform="translate(271.49,186.62) rotate(390.09) scale(.1)" text-anchor="end" y="8" font-size="24.5" font-weight="bold" fill="#ff9326" stroke="#ff9326" stroke-width="1.6">TraesCS3D02G325000</text>
<line x1="286.87" y1="191.88" x2="274.53" y2="184.26" stroke="#bbbbbb" stroke-width="0.5" stroke-opacity="0.45" stroke-dasharray="0.6 1.2"/>
<text transform="translate(273.34,183.53) rotate(391.68) scale(.1)" text-anchor="end" y="8" font-size="24.5" font-weight="bold" fill="#ff9326" stroke="#ff9326" stroke-width="1.6">TraesCS3D02G342700</text>
<line x1="288.57" y1="189.21" x2="276.44" y2="181.25" stroke="#bbbbbb" stroke-width="0.5" stroke-opacity="0.45" stroke-dasharray="0.6 1.2"/>
<text transform="translate(275.27,180.49) rotate(393.26) scale(.1)" text-anchor="end" y="8" font-size="24.5" font-weight="bold" fill="#ff9326" stroke="#ff9326" stroke-width="1.6">TraesCS1B02G409900</text>
<line x1="305.94" y1="197.44" x2="278.44" y2="178.3" stroke="#bbbbbb" stroke-width="0.5" stroke-opacity="0.45" stroke-dasharray="0.6 1.2"/>
<text transform="translate(277.29,177.5) rotate(394.84) scale(.1)" text-anchor="end" y="8" font-size="24.5" font-weight="bold" fill="#ff9326" stroke="#ff9326" stroke-width="1.6">TraesCS2B02G612300</text>
<line x1="309.08" y1="196.48" x2="280.52" y2="175.4" stroke="#bbbbbb" stroke-width="0.5" stroke-opacity="0.45" stroke-dasharray="0.6 1.2"/>
<text transform="translate(279.39,174.57) rotate(396.43) scale(.1)" text-anchor="end" y="8" font-size="24.5" font-weight="bold" fill="#ff9326" stroke="#ff9326" stroke-width="1.6">TraesCS2B02G566000</text>
<line x1="310.64" y1="194.42" x2="282.67" y2="172.56" stroke="#bbbbbb" stroke-width="0.5" stroke-opacity="0.45" stroke-dasharray="0.6 1.2"/>
<text transform="translate(281.57,171.7) rotate(398.01) scale(.1)" text-anchor="end" y="8" font-size="24.5" font-weight="bold" fill="#ff9326" stroke="#ff9326" stroke-width="1.6">TraesCS5D02G552100</text>
<line x1="313.03" y1="193.05" x2="284.91" y2="169.79" stroke="#bbbbbb" stroke-width="0.5" stroke-opacity="0.45" stroke-dasharray="0.6 1.2"/>
<text transform="translate(283.83,168.89) rotate(399.59) scale(.1)" text-anchor="end" y="8" font-size="24.5" font-weight="bold" fill="#ff9326" stroke="#ff9326" stroke-width="1.6">TraesCS5D02G396300</text>
<line x1="298.13" y1="176.62" x2="287.22" y2="167.07" stroke="#bbbbbb" stroke-width="0.5" stroke-opacity="0.45" stroke-dasharray="0.6 1.2"/>
<text transform="translate(286.16,166.15) rotate(401.18) scale(.1)" text-anchor="end" y="8" font-size="24.5" font-weight="bold" fill="#ff9326" stroke="#ff9326" stroke-width="1.6">TraesCS2D02G328600</text>
<line x1="300.25" y1="174.27" x2="289.6" y2="164.42" stroke="#bbbbbb" stroke-width="0.5" stroke-opacity="0.45" stroke-dasharray="0.6 1.2"/>
<text transform="translate(288.57,163.47) rotate(402.76) scale(.1)" text-anchor="end" y="8" font-size="24.5" font-weight="bold" fill="#ff9326" stroke="#ff9326" stroke-width="1.6">TraesCS2A02G078600</text>
<line x1="302.43" y1="171.97" x2="292.06" y2="161.84" stroke="#bbbbbb" stroke-width="0.5" stroke-opacity="0.45" stroke-dasharray="0.6 1.2"/>
<text transform="translate(291.06,160.86) rotate(404.34) scale(.1)" text-anchor="end" y="8" font-size="24.5" font-weight="bold" fill="#ff9326" stroke="#ff9326" stroke-width="1.6">TraesCS4D02G396100</text>
<line x1="304.67" y1="169.74" x2="294.58" y2="159.32" stroke="#bbbbbb" stroke-width="0.5" stroke-opacity="0.45" stroke-dasharray="0.6 1.2"/>
<text transform="translate(293.61,158.32) rotate(405.93) scale(.1)" text-anchor="end" y="8" font-size="24.5" font-weight="bold" fill="#ff9326" stroke="#ff9326" stroke-width="1.6">TraesCS6D02G363000</text>
<line x1="306.97" y1="167.57" x2="297.18" y2="156.88" stroke="#bbbbbb" stroke-width="0.5" stroke-opacity="0.45" stroke-dasharray="0.6 1.2"/>
<text transform="translate(296.23,155.85) rotate(407.51) scale(.1)" text-anchor="end" y="8" font-size="24.5" font-weight="bold" fill="#ff9326" stroke="#ff9326" stroke-width="1.6">TraesCS5D02G152500</text>
<line x1="310.62" y1="167" x2="299.81" y2="154.53" stroke="#bbbbbb" stroke-width="0.5" stroke-opacity="0.45" stroke-dasharray="0.6 1.2"/>
<text transform="translate(298.89,153.47) rotate(409.07) scale(.1)" text-anchor="end" y="8" font-size="24.5" font-weight="bold" fill="#3a3a3a" stroke="#3a3a3a" stroke-width="1.6">TraesCS2B02G616100</text>
<line x1="312.95" y1="165.04" x2="302.48" y2="152.28" stroke="#bbbbbb" stroke-width="0.5" stroke-opacity="0.45" stroke-dasharray="0.6 1.2"/>
<text transform="translate(301.59,151.2) rotate(410.62) scale(.1)" text-anchor="end" y="8" font-size="24.5" font-weight="bold" fill="#3a3a3a" stroke="#3a3a3a" stroke-width="1.6">TraesCS2A02G479800</text>
<line x1="317.16" y1="165.51" x2="305.21" y2="150.1" stroke="#bbbbbb" stroke-width="0.5" stroke-opacity="0.45" stroke-dasharray="0.6 1.2"/>
<text transform="translate(304.35,149) rotate(412.18) scale(.1)" text-anchor="end" y="8" font-size="24.5" font-weight="bold" fill="#3a3a3a" stroke="#3a3a3a" stroke-width="1.6">TraesCS5B02G190400</text>
<line x1="319.53" y1="163.72" x2="307.99" y2="148" stroke="#bbbbbb" stroke-width="0.5" stroke-opacity="0.45" stroke-dasharray="0.6 1.2"/>
<text transform="translate(307.16,146.87) rotate(413.73) scale(.1)" text-anchor="end" y="8" font-size="24.5" font-weight="bold" fill="#3a3a3a" stroke="#3a3a3a" stroke-width="1.6">TraesCS7D02G440800</text>
<line x1="324.79" y1="166.11" x2="310.83" y2="145.98" stroke="#bbbbbb" stroke-width="0.5" stroke-opacity="0.45" stroke-dasharray="0.6 1.2"/>
<text transform="translate(310.03,144.82) rotate(415.27) scale(.1)" text-anchor="end" y="8" font-size="24.5" font-weight="bold" fill="#3a3a3a" stroke="#3a3a3a" stroke-width="1.6">TraesCS7B02G550000</text>
<line x1="327.13" y1="164.53" x2="313.73" y2="144.03" stroke="#bbbbbb" stroke-width="0.5" stroke-opacity="0.45" stroke-dasharray="0.6 1.2"/>
<text transform="translate(312.96,142.85) rotate(416.82) scale(.1)" text-anchor="end" y="8" font-size="24.5" font-weight="bold" fill="#3a3a3a" stroke="#3a3a3a" stroke-width="1.6">TraesCS6B02G487700</text>
<line x1="323.23" y1="152.8" x2="316.67" y2="142.16" stroke="#bbbbbb" stroke-width="0.5" stroke-opacity="0.45" stroke-dasharray="0.6 1.2"/>
<text transform="translate(315.94,140.96) rotate(418.38) scale(.1)" text-anchor="end" y="8" font-size="24.5" font-weight="bold" fill="#3a3a3a" stroke="#3a3a3a" stroke-width="1.6">TraesCS7D02G479000</text>
<line x1="325.93" y1="151.18" x2="319.67" y2="140.37" stroke="#bbbbbb" stroke-width="0.5" stroke-opacity="0.45" stroke-dasharray="0.6 1.2"/>
<text transform="translate(318.97,139.16) rotate(419.93) scale(.1)" text-anchor="end" y="8" font-size="24.5" font-weight="bold" fill="#3a3a3a" stroke="#3a3a3a" stroke-width="1.6">TraesCS3A02G251700</text>
<text transform="translate(322.12,137.39) rotate(421.51) scale(.1)" text-anchor="end" y="8" font-size="24.5" font-weight="bold" fill="#9550c0" stroke="#9550c0" stroke-width="1.6">TraesCS1B02G392800</text>
<text transform="translate(325.39,135.68) rotate(423.13) scale(.1)" text-anchor="end" y="8" font-size="24.5" font-weight="bold" fill="#9550c0" stroke="#9550c0" stroke-width="1.6">TraesCS7B02G164400</text>
<text transform="translate(328.7,134.05) rotate(424.76) scale(.1)" text-anchor="end" y="8" font-size="24.5" font-weight="bold" fill="#9550c0" stroke="#9550c0" stroke-width="1.6">TraesCS2D02G295300</text>
<line x1="336.83" y1="143.43" x2="332.62" y2="133.81" stroke="#bbbbbb" stroke-width="0.5" stroke-opacity="0.45" stroke-dasharray="0.6 1.2"/>
<text transform="translate(332.06,132.53) rotate(426.38) scale(.1)" text-anchor="end" y="8" font-size="24.5" font-weight="bold" fill="#9550c0" stroke="#9550c0" stroke-width="1.6">TraesCS2B02G395400</text>
<line x1="339.92" y1="142.13" x2="335.99" y2="132.39" stroke="#bbbbbb" stroke-width="0.5" stroke-opacity="0.45" stroke-dasharray="0.6 1.2"/>
<text transform="translate(335.47,131.1) rotate(428) scale(.1)" text-anchor="end" y="8" font-size="24.5" font-weight="bold" fill="#9550c0" stroke="#9550c0" stroke-width="1.6">TraesCS7A02G342800</text>
<line x1="345.14" y1="146.54" x2="339.4" y2="131.07" stroke="#bbbbbb" stroke-width="0.5" stroke-opacity="0.45" stroke-dasharray="0.6 1.2"/>
<text transform="translate(338.91,129.76) rotate(429.62) scale(.1)" text-anchor="end" y="8" font-size="24.5" font-weight="bold" fill="#9550c0" stroke="#9550c0" stroke-width="1.6">TraesCS6B02G574700</text>
<line x1="345.25" y1="136.95" x2="342.84" y2="129.85" stroke="#bbbbbb" stroke-width="0.5" stroke-opacity="0.45" stroke-dasharray="0.6 1.2"/>
<text transform="translate(342.39,128.52) rotate(431.24) scale(.1)" text-anchor="end" y="8" font-size="24.5" font-weight="bold" fill="#9550c0" stroke="#9550c0" stroke-width="1.6">TraesCS5A02G383500</text>
<line x1="350" y1="140.67" x2="346.31" y2="128.72" stroke="#bbbbbb" stroke-width="0.5" stroke-opacity="0.45" stroke-dasharray="0.6 1.2"/>
<text transform="translate(345.9,127.39) rotate(432.87) scale(.1)" text-anchor="end" y="8" font-size="24.5" font-weight="bold" fill="#9550c0" stroke="#9550c0" stroke-width="1.6">TraesCS5D02G456400</text>
<line x1="353.16" y1="139.74" x2="349.82" y2="127.7" stroke="#bbbbbb" stroke-width="0.5" stroke-opacity="0.45" stroke-dasharray="0.6 1.2"/>
<text transform="translate(349.44,126.35) rotate(434.49) scale(.1)" text-anchor="end" y="8" font-size="24.5" font-weight="bold" fill="#9550c0" stroke="#9550c0" stroke-width="1.6">TraesCS1B02G590500</text>
<line x1="356.65" y1="139.86" x2="353.42" y2="126.75" stroke="#bbbbbb" stroke-width="0.5" stroke-opacity="0.45" stroke-dasharray="0.6 1.2"/>
<text transform="translate(353.08,125.4) rotate(436.14) scale(.1)" text-anchor="end" y="8" font-size="24.5" font-weight="bold" fill="#4a4aff" stroke="#4a4aff" stroke-width="1.6">TraesCS1B02G601000</text>
<line x1="359.96" y1="139.1" x2="357.12" y2="125.9" stroke="#bbbbbb" stroke-width="0.5" stroke-opacity="0.45" stroke-dasharray="0.6 1.2"/>
<text transform="translate(356.82,124.53) rotate(437.83) scale(.1)" text-anchor="end" y="8" font-size="24.5" font-weight="bold" fill="#4a4aff" stroke="#4a4aff" stroke-width="1.6">TraesCS1B02G188100</text>
<line x1="363.3" y1="138.43" x2="360.84" y2="125.15" stroke="#bbbbbb" stroke-width="0.5" stroke-opacity="0.45" stroke-dasharray="0.6 1.2"/>
<text transform="translate(360.58,123.78) rotate(439.51) scale(.1)" text-anchor="end" y="8" font-size="24.5" font-weight="bold" fill="#4a4aff" stroke="#4a4aff" stroke-width="1.6">TraesCS2D02G588000</text>
<line x1="366.49" y1="136.87" x2="364.58" y2="124.52" stroke="#bbbbbb" stroke-width="0.5" stroke-opacity="0.45" stroke-dasharray="0.6 1.2"/>
<text transform="translate(364.37,123.14) rotate(441.2) scale(.1)" text-anchor="end" y="8" font-size="24.5" font-weight="bold" fill="#4a4aff" stroke="#4a4aff" stroke-width="1.6">TraesCS7D02G056800</text>
<line x1="369.89" y1="136.4" x2="368.34" y2="123.99" stroke="#bbbbbb" stroke-width="0.5" stroke-opacity="0.45" stroke-dasharray="0.6 1.2"/>
<text transform="translate(368.17,122.6) rotate(442.89) scale(.1)" text-anchor="end" y="8" font-size="24.5" font-weight="bold" fill="#4a4aff" stroke="#4a4aff" stroke-width="1.6">TraesCS2B02G198400</text>
<text transform="translate(371.98,122.18) rotate(444.57) scale(.1)" text-anchor="end" y="8" font-size="24.5" font-weight="bold" fill="#4a4aff" stroke="#4a4aff" stroke-width="1.6">TraesCS2B02G112700</text>
<line x1="376.06" y1="125.77" x2="375.89" y2="123.28" stroke="#bbbbbb" stroke-width="0.5" stroke-opacity="0.45" stroke-dasharray="0.6 1.2"/>
<text transform="translate(375.8,121.88) rotate(446.26) scale(.1)" text-anchor="end" y="8" font-size="24.5" font-weight="bold" fill="#4a4aff" stroke="#4a4aff" stroke-width="1.6">TraesCS2D02G577400</text>
<line x1="378.39" y1="96.91" x2="376.38" y2="44.15" stroke="#666666" stroke-width="0.7"/>
<polygon points="378.46,79.1 377.98,48.09 375.08,48.2 376.96,79.15" fill="#2a2af0"/>
<line x1="376.53" y1="48.15" x2="376.36" y2="43.65" stroke="#ff0000" stroke-width="2.3"/>
<line x1="382.79" y1="96.81" x2="382.22" y2="39.01" stroke="#666666" stroke-width="0.7"/>
<polygon points="383.36,78 383.71,43 380.81,43.02 381.86,78.02" fill="#2a2af0"/>
<line x1="382.26" y1="43.01" x2="382.22" y2="38.51" stroke="#ff0000" stroke-width="2.3"/>
<line x1="387.19" y1="96.83" x2="388.17" y2="44.04" stroke="#666666" stroke-width="0.7"/>
<polygon points="388.24,81.04 389.55,48.06 386.65,48.01 386.74,81.02" fill="#2a2af0"/>
<line x1="388.1" y1="48.04" x2="388.18" y2="43.54" stroke="#ff0000" stroke-width="2.3"/>
<line x1="391.59" y1="96.97" x2="392.69" y2="73.6" stroke="#666666" stroke-width="0.7"/>
<line x1="391.75" y1="93.67" x2="391.95" y2="89.38" stroke="#ff0000" stroke-width="2.4"/>
<line x1="392.45" y1="78.64" x2="392.48" y2="78.14" stroke="#0000ff" stroke-width="1.6" stroke-linecap="round"/>
<line x1="395.99" y1="97.24" x2="397.65" y2="75.2" stroke="#666666" stroke-width="0.7"/>
<line x1="396.05" y1="96.44" x2="396.37" y2="92.15" stroke="#ff0000" stroke-width="2.4"/>
<line x1="397.61" y1="75.75" x2="397.64" y2="75.25" stroke="#33cc55" stroke-width="1.5" stroke-linecap="round"/>
<line x1="400.37" y1="97.63" x2="402.6" y2="76.15" stroke="#666666" stroke-width="0.7"/>
<line x1="400.43" y1="97.04" x2="400.87" y2="92.86" stroke="#ff0000" stroke-width="2.4"/>
<line x1="402.55" y1="76.7" x2="402.6" y2="76.2" stroke="#33cc55" stroke-width="1.5" stroke-linecap="round"/>
<line x1="404.8" y1="98.16" x2="407.62" y2="77.04" stroke="#666666" stroke-width="0.7"/>
<line x1="404.88" y1="97.56" x2="405.44" y2="93.4" stroke="#ff0000" stroke-width="2.4"/>
<line x1="407.58" y1="77.29" x2="407.65" y2="76.8" stroke="#33cc55" stroke-width="1.6" stroke-linecap="round"/>
<line x1="409.28" y1="98.82" x2="413.04" y2="75.81" stroke="#666666" stroke-width="0.7"/>
<line x1="409.64" y1="96.65" x2="410.31" y2="92.51" stroke="#ff0000" stroke-width="2.4"/>
<line x1="413.74" y1="99.62" x2="421.1" y2="61.52" stroke="#666666" stroke-width="0.7"/>
<line x1="416.64" y1="84.59" x2="417.5" y2="80.17" stroke="#ff0000" stroke-width="2.4"/>
<line x1="418.18" y1="100.54" x2="423.17" y2="78.2" stroke="#666666" stroke-width="0.7"/>
<line x1="418.66" y1="98.39" x2="419.57" y2="94.29" stroke="#ff0000" stroke-width="2.4"/>
<line x1="422.58" y1="101.59" x2="428.27" y2="79.22" stroke="#666666" stroke-width="0.7"/>
<line x1="423.13" y1="99.46" x2="424.16" y2="95.39" stroke="#ff0000" stroke-width="2.4"/>
<line x1="426.96" y1="102.77" x2="437.89" y2="64.5" stroke="#666666" stroke-width="0.7"/>
<line x1="431.16" y1="88.06" x2="432.4" y2="83.73" stroke="#ff0000" stroke-width="2.4"/>
<line x1="431.29" y1="104.08" x2="437.84" y2="83.46" stroke="#666666" stroke-width="0.7"/>
<line x1="431.96" y1="101.98" x2="433.23" y2="97.98" stroke="#ff0000" stroke-width="2.4"/>
<line x1="435.59" y1="105.51" x2="443.22" y2="83.71" stroke="#666666" stroke-width="0.7"/>
<line x1="436.31" y1="103.44" x2="437.7" y2="99.47" stroke="#ff0000" stroke-width="2.4"/>
<line x1="439.84" y1="107.07" x2="454.08" y2="69.91" stroke="#666666" stroke-width="0.7"/>
<line x1="445.31" y1="92.79" x2="446.92" y2="88.58" stroke="#ff0000" stroke-width="2.4"/>
<path d="M450.68 78.78Q454.92 76.65 453.19 72.24Q448.94 74.36 450.68 78.78Z" fill="#006400"/>
<line x1="444.05" y1="108.75" x2="453.42" y2="86.26" stroke="#666666" stroke-width="0.7"/>
<line x1="444.89" y1="106.72" x2="446.51" y2="102.85" stroke="#ff0000" stroke-width="2.4"/>
<line x1="448.2" y1="110.56" x2="456.94" y2="91.22" stroke="#666666" stroke-width="0.7"/>
<line x1="449.11" y1="108.55" x2="450.83" y2="104.73" stroke="#ff0000" stroke-width="2.4"/>
<line x1="452.3" y1="112.48" x2="462.01" y2="92.56" stroke="#666666" stroke-width="0.7"/>
<line x1="453.26" y1="110.5" x2="455.1" y2="106.73" stroke="#ff0000" stroke-width="2.4"/>
<line x1="456.34" y1="114.53" x2="466.18" y2="95.74" stroke="#666666" stroke-width="0.7"/>
<line x1="457.36" y1="112.58" x2="459.31" y2="108.86" stroke="#ff0000" stroke-width="2.4"/>
<line x1="460.32" y1="116.69" x2="472.29" y2="95.37" stroke="#666666" stroke-width="0.7"/>
<line x1="461.4" y1="114.77" x2="463.46" y2="111.11" stroke="#ff0000" stroke-width="2.4"/>
<line x1="464.24" y1="118.96" x2="476.56" y2="98.46" stroke="#666666" stroke-width="0.7"/>
<line x1="465.37" y1="117.08" x2="467.54" y2="113.48" stroke="#ff0000" stroke-width="2.4"/>
<line x1="468.09" y1="121.35" x2="479.42" y2="103.68" stroke="#666666" stroke-width="0.7"/>
<line x1="469.27" y1="119.5" x2="471.54" y2="115.96" stroke="#ff0000" stroke-width="2.4"/>
<line x1="471.86" y1="123.85" x2="486.09" y2="103.03" stroke="#666666" stroke-width="0.7"/>
<line x1="473.11" y1="122.03" x2="475.47" y2="118.57" stroke="#ff0000" stroke-width="2.4"/>
<line x1="475.57" y1="126.46" x2="490.35" y2="106.12" stroke="#666666" stroke-width="0.7"/>
<line x1="476.86" y1="124.68" x2="479.33" y2="121.28" stroke="#ff0000" stroke-width="2.4"/>
<line x1="479.19" y1="129.18" x2="498.02" y2="104.8" stroke="#666666" stroke-width="0.7"/>
<line x1="495.57" y1="107.97" x2="498.32" y2="104.41" stroke="#ff0000" stroke-width="2.4"/>
<line x1="482.73" y1="132" x2="497.68" y2="113.77" stroke="#666666" stroke-width="0.7"/>
<line x1="484.13" y1="130.3" x2="486.79" y2="127.05" stroke="#ff0000" stroke-width="2.4"/>
<line x1="486.19" y1="134.92" x2="500.31" y2="118.69" stroke="#666666" stroke-width="0.7"/>
<line x1="487.64" y1="133.26" x2="490.39" y2="130.09" stroke="#ff0000" stroke-width="2.4"/>
<line x1="489.57" y1="137.94" x2="503.72" y2="122.61" stroke="#666666" stroke-width="0.7"/>
<line x1="491.06" y1="136.33" x2="493.91" y2="133.24" stroke="#ff0000" stroke-width="2.4"/>
<line x1="492.85" y1="141.06" x2="509.06" y2="124.49" stroke="#666666" stroke-width="0.7"/>
<line x1="494.39" y1="139.49" x2="497.33" y2="136.49" stroke="#ff0000" stroke-width="2.4"/>
<line x1="496.04" y1="144.28" x2="511.21" y2="129.65" stroke="#666666" stroke-width="0.7"/>
<line x1="497.62" y1="142.75" x2="500.65" y2="139.83" stroke="#ff0000" stroke-width="2.4"/>
<line x1="499.14" y1="147.58" x2="515.16" y2="133.01" stroke="#666666" stroke-width="0.7"/>
<line x1="500.76" y1="146.1" x2="503.87" y2="143.28" stroke="#ff0000" stroke-width="2.4"/>
<line x1="502.13" y1="150.98" x2="518.75" y2="136.73" stroke="#666666" stroke-width="0.7"/>
<line x1="503.81" y1="149.55" x2="506.99" y2="146.81" stroke="#ff0000" stroke-width="2.4"/>
<line x1="505.03" y1="154.46" x2="521.32" y2="141.3" stroke="#666666" stroke-width="0.7"/>
<line x1="506.74" y1="153.08" x2="510.01" y2="150.44" stroke="#ff0000" stroke-width="2.4"/>
<line x1="507.83" y1="158.02" x2="534.73" y2="137.56" stroke="#666666" stroke-width="0.7"/>
<line x1="519.21" y1="149.36" x2="522.79" y2="146.64" stroke="#ff0000" stroke-width="2.4"/>
<line x1="510.52" y1="161.67" x2="538" y2="141.99" stroke="#666666" stroke-width="0.7"/>
<line x1="522.15" y1="153.34" x2="525.8" y2="150.72" stroke="#ff0000" stroke-width="2.4"/>
<line x1="513.1" y1="165.39" x2="541.15" y2="146.52" stroke="#666666" stroke-width="0.7"/>
<line x1="524.97" y1="157.41" x2="528.7" y2="154.9" stroke="#ff0000" stroke-width="2.4"/>
<line x1="515.57" y1="169.18" x2="535.14" y2="156.84" stroke="#666666" stroke-width="0.7"/>
<line x1="517.43" y1="168.01" x2="520.98" y2="165.77" stroke="#ff0000" stroke-width="2.4"/>
<line x1="517.93" y1="173.05" x2="538.32" y2="161" stroke="#666666" stroke-width="0.7"/>
<line x1="519.83" y1="171.93" x2="523.44" y2="169.79" stroke="#ff0000" stroke-width="2.4"/>
<line x1="520.18" y1="176.98" x2="540.36" y2="165.84" stroke="#666666" stroke-width="0.7"/>
<line x1="522.11" y1="175.92" x2="525.78" y2="173.89" stroke="#ff0000" stroke-width="2.4"/>
<line x1="522.31" y1="180.98" x2="561.26" y2="160.93" stroke="#666666" stroke-width="0.7"/>
<line x1="537.25" y1="173.29" x2="541.25" y2="171.23" stroke="#ff0000" stroke-width="2.4"/>
<line x1="524.32" y1="185.03" x2="564.74" y2="165.7" stroke="#666666" stroke-width="0.7"/>
<line x1="539.48" y1="177.78" x2="543.54" y2="175.84" stroke="#ff0000" stroke-width="2.4"/>
<line x1="526.22" y1="189.15" x2="568.09" y2="170.6" stroke="#666666" stroke-width="0.7"/>
<line x1="541.58" y1="182.34" x2="545.69" y2="180.52" stroke="#ff0000" stroke-width="2.4"/>
<line x1="527.99" y1="193.31" x2="575.95" y2="173.73" stroke="#666666" stroke-width="0.7"/>
<line x1="552.8" y1="183.18" x2="556.97" y2="181.48" stroke="#ff0000" stroke-width="2.4"/>
<line x1="529.64" y1="197.53" x2="553.32" y2="188.66" stroke="#666666" stroke-width="0.7"/>
<line x1="531.7" y1="196.76" x2="535.64" y2="195.29" stroke="#ff0000" stroke-width="2.4"/>
<line x1="531.17" y1="201.8" x2="554.43" y2="193.84" stroke="#666666" stroke-width="0.7"/>
<line x1="533.25" y1="201.08" x2="537.23" y2="199.73" stroke="#ff0000" stroke-width="2.4"/>
<line x1="532.57" y1="206.1" x2="555.49" y2="199.01" stroke="#666666" stroke-width="0.7"/>
<line x1="534.68" y1="205.45" x2="538.69" y2="204.21" stroke="#ff0000" stroke-width="2.4"/>
<line x1="533.85" y1="210.45" x2="576.05" y2="198.72" stroke="#666666" stroke-width="0.7"/>
<line x1="559.19" y1="203.41" x2="563.53" y2="202.2" stroke="#ff0000" stroke-width="2.4"/>
<line x1="535" y1="214.83" x2="556.2" y2="209.6" stroke="#666666" stroke-width="0.7"/>
<line x1="537.13" y1="214.3" x2="541.21" y2="213.3" stroke="#ff0000" stroke-width="2.4"/>
<line x1="536.02" y1="219.24" x2="557.62" y2="214.58" stroke="#666666" stroke-width="0.7"/>
<line x1="538.17" y1="218.78" x2="542.27" y2="217.89" stroke="#ff0000" stroke-width="2.4"/>
<line x1="536.91" y1="223.68" x2="557.67" y2="219.83" stroke="#666666" stroke-width="0.7"/>
<line x1="539.07" y1="223.28" x2="543.2" y2="222.51" stroke="#ff0000" stroke-width="2.4"/>
<line x1="537.67" y1="228.15" x2="588.36" y2="220.26" stroke="#666666" stroke-width="0.7"/>
<line x1="563.66" y1="224.11" x2="568.11" y2="223.41" stroke="#ff0000" stroke-width="2.4"/>
<line x1="538.3" y1="232.63" x2="560.73" y2="229.81" stroke="#666666" stroke-width="0.7"/>
<line x1="540.49" y1="232.36" x2="544.65" y2="231.83" stroke="#ff0000" stroke-width="2.4"/>
<line x1="538.8" y1="237.13" x2="563.3" y2="234.78" stroke="#666666" stroke-width="0.7"/>
<line x1="540.99" y1="236.92" x2="545.17" y2="236.52" stroke="#ff0000" stroke-width="2.4"/>
<line x1="539.17" y1="241.65" x2="561.66" y2="240.14" stroke="#666666" stroke-width="0.7"/>
<line x1="541.36" y1="241.5" x2="545.56" y2="241.22" stroke="#ff0000" stroke-width="2.4"/>
<line x1="539.41" y1="246.17" x2="564.5" y2="245.23" stroke="#666666" stroke-width="0.7"/>
<line x1="541.6" y1="246.09" x2="545.8" y2="245.93" stroke="#ff0000" stroke-width="2.4"/>
<line x1="539.51" y1="250.7" x2="564.12" y2="250.49" stroke="#666666" stroke-width="0.7"/>
<line x1="541.71" y1="250.68" x2="545.91" y2="250.65" stroke="#ff0000" stroke-width="2.4"/>
<line x1="539.48" y1="255.23" x2="560.28" y2="255.66" stroke="#666666" stroke-width="0.7"/>
<line x1="541.68" y1="255.27" x2="545.88" y2="255.36" stroke="#ff0000" stroke-width="2.4"/>
<line x1="539.32" y1="259.75" x2="555.4" y2="260.56" stroke="#666666" stroke-width="0.7"/>
<line x1="550.91" y1="260.33" x2="555.4" y2="260.56" stroke="#ff0000" stroke-width="2.4"/>
<line x1="539.03" y1="264.27" x2="581.7" y2="267.65" stroke="#666666" stroke-width="0.7"/>
<path d="M541.62 264.48Q549.51 267.51 557.77 265.76Q549.89 262.72 541.62 264.48Z" fill="#00ee00"/>
<line x1="561.76" y1="266.07" x2="566.44" y2="266.44" stroke="#ff0000" stroke-width="2.4"/>
<line x1="569.48" y1="266.69" x2="569.98" y2="266.73" stroke="#0000ff" stroke-width="2.1" stroke-linecap="round"/>
<line x1="572.47" y1="266.92" x2="572.97" y2="266.96" stroke="#0000ff" stroke-width="2.1" stroke-linecap="round"/>
<line x1="575.47" y1="267.16" x2="575.96" y2="267.2" stroke="#0000ff" stroke-width="2.1" stroke-linecap="round"/>
<line x1="538.61" y1="268.77" x2="577.18" y2="272.96" stroke="#666666" stroke-width="0.7"/>
<line x1="543.13" y1="269.26" x2="543.63" y2="269.32" stroke="#00ee00" stroke-width="1.6" stroke-linecap="round"/>
<path d="M551.33 270.16Q554.67 274.14 558.79 270.97Q555.45 266.98 551.33 270.16Z" fill="#0000ff"/>
<path d="M559.28 271.02Q563.37 275.08 568.23 271.99Q564.15 267.93 559.28 271.02Z" fill="#6600cc"/>
<line x1="572.21" y1="272.42" x2="576.68" y2="272.91" stroke="#ff0000" stroke-width="2.4"/>
<line x1="538.05" y1="273.26" x2="576.49" y2="278.57" stroke="#666666" stroke-width="0.7"/>
<path d="M540.83 273.64Q543.94 276.7 547.76 274.6Q544.65 271.55 540.83 273.64Z" fill="#aaaaff"/>
<path d="M555.68 275.7Q562.79 279.1 570.54 277.75Q563.44 274.35 555.68 275.7Z" fill="#00ee00"/>
<line x1="571.53" y1="277.89" x2="575.99" y2="278.51" stroke="#ff0000" stroke-width="2.4"/>
<line x1="537.37" y1="277.73" x2="575.63" y2="284.16" stroke="#666666" stroke-width="0.7"/>
<path d="M540.13 278.19Q543.15 281.34 547.03 279.35Q544.01 276.21 540.13 278.19Z" fill="#aaaaff"/>
<path d="M556.89 281.01Q563.4 284.54 570.7 283.33Q564.2 279.8 556.89 281.01Z" fill="#00ee00"/>
<line x1="571.19" y1="283.41" x2="575.63" y2="284.16" stroke="#ff0000" stroke-width="2.4"/>
<line x1="536.55" y1="282.18" x2="572.65" y2="289.33" stroke="#666666" stroke-width="0.7"/>
<path d="M539.3 282.72Q542.23 285.95 546.17 284.08Q543.24 280.85 539.3 282.72Z" fill="#aaaaff"/>
<path d="M553.03 285.44Q557.24 289.95 562.84 287.39Q558.64 282.88 553.03 285.44Z" fill="#6600cc"/>
<path d="M562.84 287.39Q564.71 290.82 567.75 288.36Q565.88 284.93 562.84 287.39Z" fill="#00ee00"/>
<line x1="568.24" y1="288.46" x2="572.65" y2="289.33" stroke="#ff0000" stroke-width="2.4"/>
<line x1="535.61" y1="286.6" x2="568.56" y2="294.13" stroke="#666666" stroke-width="0.7"/>
<path d="M538.34 287.22Q540.68 290.43 544.19 288.56Q541.84 285.36 538.34 287.22Z" fill="#aaaaff"/>
<line x1="541.02" y1="287.83" x2="541.51" y2="287.95" stroke="#006400" stroke-width="1.6" stroke-linecap="round"/>
<path d="M549.06 289.67Q555.84 293.69 563.69 293.02Q556.91 289.01 549.06 289.67Z" fill="#00ee00"/>
<line x1="564.17" y1="293.13" x2="568.56" y2="294.13" stroke="#ff0000" stroke-width="2.4"/>
<line x1="534.54" y1="290.99" x2="561.45" y2="297.97" stroke="#666666" stroke-width="0.7"/>
<path d="M542.09 292.95Q548.74 297.16 556.61 296.72Q549.95 292.51 542.09 292.95Z" fill="#00ee00"/>
<line x1="557.09" y1="296.84" x2="561.45" y2="297.97" stroke="#ff0000" stroke-width="2.4"/>
<line x1="533.34" y1="295.35" x2="562.91" y2="303.95" stroke="#666666" stroke-width="0.7"/>
<path d="M543.71 298.37Q550.24 302.77 558.11 302.56Q551.58 298.16 543.71 298.37Z" fill="#00ee00"/>
<line x1="558.59" y1="302.7" x2="562.91" y2="303.95" stroke="#ff0000" stroke-width="2.4"/>
<line x1="532.01" y1="299.67" x2="573.7" y2="313.13" stroke="#666666" stroke-width="0.7"/>
<path d="M553.71 306.68Q559.63 311.11 567.03 310.98Q561.11 306.54 553.71 306.68Z" fill="#00ee00"/>
<line x1="568.94" y1="311.59" x2="573.22" y2="312.97" stroke="#ff0000" stroke-width="2.4"/>
<line x1="530.56" y1="303.95" x2="571.36" y2="318.45" stroke="#666666" stroke-width="0.7"/>
<path d="M532.73 304.72Q535.46 308.24 539.8 307.23Q537.07 303.72 532.73 304.72Z" fill="#aaaaff"/>
<path d="M549.21 310.58Q557.13 315.94 566.65 316.77Q558.73 311.42 549.21 310.58Z" fill="#00ee00"/>
<line x1="567.12" y1="316.94" x2="571.36" y2="318.45" stroke="#ff0000" stroke-width="2.4"/>
<line x1="528.99" y1="308.19" x2="572.88" y2="325.24" stroke="#666666" stroke-width="0.7"/>
<path d="M531.13 309.02Q533.76 312.62 538.12 311.74Q535.49 308.15 531.13 309.02Z" fill="#aaaaff"/>
<path d="M550.97 316.73Q558.72 322.32 568.21 323.43Q560.46 317.84 550.97 316.73Z" fill="#00ee00"/>
<line x1="568.68" y1="323.61" x2="572.88" y2="325.24" stroke="#ff0000" stroke-width="2.4"/>
<line x1="527.29" y1="312.38" x2="569.52" y2="330.22" stroke="#666666" stroke-width="0.7"/>
<path d="M529.41 313.28Q531.93 316.95 536.32 316.2Q533.79 312.53 529.41 313.28Z" fill="#aaaaff"/>
<path d="M547.87 321.08Q555.46 326.89 564.92 328.27Q557.33 322.47 547.87 321.08Z" fill="#00ee00"/>
<line x1="565.38" y1="328.47" x2="569.52" y2="330.22" stroke="#ff0000" stroke-width="2.4"/>
<line x1="525.47" y1="316.52" x2="563.67" y2="333.99" stroke="#666666" stroke-width="0.7"/>
<path d="M527.56 317.48Q529.97 321.22 534.38 320.6Q531.97 316.85 527.56 317.48Z" fill="#aaaaff"/>
<path d="M542.3 324.22Q549.72 330.24 559.13 331.91Q551.71 325.88 542.3 324.22Z" fill="#00ee00"/>
<line x1="559.58" y1="332.11" x2="563.67" y2="333.99" stroke="#ff0000" stroke-width="2.4"/>
<line x1="523.53" y1="320.61" x2="561.9" y2="339.52" stroke="#666666" stroke-width="0.7"/>
<path d="M525.59 321.62Q527.89 325.43 532.32 324.94Q530.02 321.13 525.59 321.62Z" fill="#aaaaff"/>
<path d="M540.82 329.13Q548.06 335.37 557.42 337.31Q550.18 331.06 540.82 329.13Z" fill="#00ee00"/>
<line x1="557.86" y1="337.53" x2="561.9" y2="339.52" stroke="#ff0000" stroke-width="2.4"/>
<line x1="521.47" y1="324.63" x2="558.51" y2="344.24" stroke="#666666" stroke-width="0.7"/>
<path d="M523.5 325.71Q525.69 329.58 530.13 329.22Q527.94 325.34 523.5 325.71Z" fill="#aaaaff"/>
<path d="M537.74 333.25Q544.79 339.7 554.09 341.9Q547.03 335.45 537.74 333.25Z" fill="#00ee00"/>
<line x1="554.53" y1="342.14" x2="558.51" y2="344.24" stroke="#ff0000" stroke-width="2.4"/>
<line x1="519.3" y1="328.6" x2="555.53" y2="349.16" stroke="#666666" stroke-width="0.7"/>
<path d="M521.3 329.73Q523.37 333.67 527.82 333.43Q525.74 329.49 521.3 329.73Z" fill="#aaaaff"/>
<path d="M535.09 337.56Q541.95 344.21 551.18 346.69Q544.32 340.04 535.09 337.56Z" fill="#00ee00"/>
<line x1="551.62" y1="346.94" x2="555.53" y2="349.16" stroke="#ff0000" stroke-width="2.4"/>
<line x1="517.01" y1="332.5" x2="556.41" y2="356.4" stroke="#666666" stroke-width="0.7"/>
<path d="M518.98 333.69Q520.94 337.69 525.39 337.58Q523.43 333.58 518.98 333.69Z" fill="#aaaaff"/>
<path d="M536.32 344.21Q542.98 351.06 552.13 353.8Q545.47 346.95 536.32 344.21Z" fill="#00ee00"/>
<line x1="552.56" y1="354.06" x2="556.41" y2="356.4" stroke="#ff0000" stroke-width="2.4"/>
<line x1="514.61" y1="336.33" x2="550.17" y2="359.35" stroke="#666666" stroke-width="0.7"/>
<path d="M516.54 337.58Q518.38 341.63 522.83 341.65Q520.99 337.6 516.54 337.58Z" fill="#aaaaff"/>
<path d="M530.45 346.58Q536.91 353.62 545.98 356.63Q539.52 349.59 530.45 346.58Z" fill="#00ee00"/>
<line x1="546.4" y1="356.9" x2="550.17" y2="359.35" stroke="#ff0000" stroke-width="2.4"/>
<line x1="512.1" y1="340.09" x2="548.86" y2="365.43" stroke="#666666" stroke-width="0.7"/>
<path d="M513.99 341.39Q515.71 345.5 520.16 345.65Q518.44 341.54 513.99 341.39Z" fill="#aaaaff"/>
<path d="M529.51 352.09Q535.77 359.32 544.75 362.59Q538.49 355.37 529.51 352.09Z" fill="#00ee00"/>
<line x1="545.16" y1="362.88" x2="548.86" y2="365.43" stroke="#ff0000" stroke-width="2.4"/>
<line x1="509.48" y1="343.77" x2="544.95" y2="369.78" stroke="#666666" stroke-width="0.7"/>
<path d="M511.33 345.13Q512.94 349.28 517.38 349.57Q515.77 345.41 511.33 345.13Z" fill="#aaaaff"/>
<path d="M526 355.88Q532.04 363.29 540.91 366.82Q534.87 359.42 526 355.88Z" fill="#00ee00"/>
<line x1="541.32" y1="367.12" x2="544.95" y2="369.78" stroke="#ff0000" stroke-width="2.4"/>
<line x1="506.75" y1="347.38" x2="540.23" y2="373.46" stroke="#666666" stroke-width="0.7"/>
<path d="M508.56 348.79Q510.05 352.99 514.48 353.4Q513 349.2 508.56 348.79Z" fill="#aaaaff"/>
<path d="M521.69 359.02Q527.52 366.6 536.29 370.39Q530.47 362.81 521.69 359.02Z" fill="#00ee00"/>
<line x1="536.68" y1="370.7" x2="540.23" y2="373.46" stroke="#ff0000" stroke-width="2.4"/>
<line x1="503.92" y1="350.9" x2="539.13" y2="380.02" stroke="#666666" stroke-width="0.7"/>
<path d="M505.69 352.37Q507.05 356.61 511.47 357.15Q510.11 352.91 505.69 352.37Z" fill="#aaaaff"/>
<path d="M521.02 365.05Q526.62 372.79 535.28 376.84Q529.68 369.09 521.02 365.05Z" fill="#00ee00"/>
<line x1="535.66" y1="377.15" x2="539.13" y2="380.02" stroke="#ff0000" stroke-width="2.4"/>
<line x1="500.99" y1="354.35" x2="532.63" y2="382.1" stroke="#666666" stroke-width="0.7"/>
<path d="M502.72 355.86Q503.95 360.14 508.35 360.81Q507.12 356.53 502.72 355.86Z" fill="#aaaaff"/>
<path d="M514.96 366.6Q520.33 374.51 528.87 378.8Q523.5 370.9 514.96 366.6Z" fill="#00ee00"/>
<line x1="529.24" y1="379.13" x2="532.63" y2="382.1" stroke="#ff0000" stroke-width="2.4"/>
<line x1="497.96" y1="357.7" x2="531.03" y2="388.46" stroke="#666666" stroke-width="0.7"/>
<path d="M499.64 359.27Q500.75 363.58 505.13 364.38Q504.02 360.06 499.64 359.27Z" fill="#aaaaff"/>
<path d="M513.82 372.45Q518.96 380.51 527.36 385.05Q522.23 377 513.82 372.45Z" fill="#00ee00"/>
<line x1="527.73" y1="385.39" x2="531.03" y2="388.46" stroke="#ff0000" stroke-width="2.4"/>
<line x1="494.83" y1="360.97" x2="524.74" y2="390.45" stroke="#666666" stroke-width="0.7"/>
<path d="M496.47 362.58Q497.45 366.92 501.81 367.85Q500.82 363.51 496.47 362.58Z" fill="#aaaaff"/>
<path d="M508 373.96Q512.9 382.16 521.18 386.94Q516.27 378.74 508 373.96Z" fill="#00ee00"/>
<line x1="521.53" y1="387.3" x2="524.74" y2="390.45" stroke="#ff0000" stroke-width="2.4"/>
<line x1="491.61" y1="364.14" x2="521.9" y2="395.81" stroke="#666666" stroke-width="0.7"/>
<path d="M493.2 365.8Q494.06 370.17 498.38 371.22Q497.52 366.85 493.2 365.8Z" fill="#aaaaff"/>
<path d="M505.66 378.83Q510.32 387.17 518.45 392.19Q513.79 383.85 505.66 378.83Z" fill="#00ee00"/>
<line x1="518.79" y1="392.55" x2="521.9" y2="395.81" stroke="#ff0000" stroke-width="2.4"/>
<line x1="488.3" y1="367.22" x2="516.82" y2="398.83" stroke="#666666" stroke-width="0.7"/>
<path d="M489.84 368.92Q490.57 373.32 494.86 374.49Q494.13 370.1 489.84 368.92Z" fill="#aaaaff"/>
<path d="M501.08 381.38Q505.49 389.86 513.47 395.11Q509.06 386.64 501.08 381.38Z" fill="#00ee00"/>
<line x1="513.81" y1="395.49" x2="516.82" y2="398.83" stroke="#ff0000" stroke-width="2.4"/>
<line x1="484.9" y1="370.2" x2="512.71" y2="402.88" stroke="#666666" stroke-width="0.7"/>
<path d="M486.39 371.95Q486.99 376.36 491.25 377.66Q490.64 373.25 486.39 371.95Z" fill="#aaaaff"/>
<path d="M497.48 384.99Q501.65 393.59 509.47 399.08Q505.3 390.48 497.48 384.99Z" fill="#00ee00"/>
<line x1="509.79" y1="399.46" x2="512.71" y2="402.88" stroke="#ff0000" stroke-width="2.4"/>
<line x1="481.41" y1="373.08" x2="510.89" y2="409.84" stroke="#666666" stroke-width="0.7"/>
<path d="M482.85 374.87Q483.32 379.3 487.54 380.72Q487.07 376.3 482.85 374.87Z" fill="#aaaaff"/>
<path d="M496.19 391.51Q500.1 400.23 507.76 405.94Q503.85 397.22 496.19 391.51Z" fill="#00ee00"/>
<line x1="508.08" y1="406.33" x2="510.89" y2="409.84" stroke="#ff0000" stroke-width="2.4"/>
<line x1="477.84" y1="375.85" x2="505.63" y2="412.66" stroke="#666666" stroke-width="0.7"/>
<path d="M479.23 377.69Q479.57 382.13 483.75 383.67Q483.4 379.24 479.23 377.69Z" fill="#aaaaff"/>
<path d="M491.47 393.91Q495.13 402.73 502.62 408.67Q498.96 399.84 491.47 393.91Z" fill="#00ee00"/>
<line x1="502.92" y1="409.07" x2="505.63" y2="412.66" stroke="#ff0000" stroke-width="2.4"/>
<line x1="474.19" y1="378.53" x2="499.17" y2="413.68" stroke="#666666" stroke-width="0.7"/>
<path d="M475.53 380.4Q475.74 384.85 479.87 386.52Q479.65 382.07 475.53 380.4Z" fill="#aaaaff"/>
<path d="M485.56 394.53Q488.96 403.46 496.27 409.61Q492.87 400.68 485.56 394.53Z" fill="#00ee00"/>
<line x1="496.56" y1="410.01" x2="499.17" y2="413.68" stroke="#ff0000" stroke-width="2.4"/>
<line x1="470.47" y1="381.09" x2="496.34" y2="419.86" stroke="#666666" stroke-width="0.7"/>
<path d="M471.75 383Q471.83 387.45 475.91 389.24Q475.83 384.79 471.75 383Z" fill="#aaaaff"/>
<path d="M483.3 400.31Q486.44 409.34 493.57 415.7Q490.43 406.67 483.3 400.31Z" fill="#00ee00"/>
<line x1="493.85" y1="416.12" x2="496.34" y2="419.86" stroke="#ff0000" stroke-width="2.4"/>
<line x1="466.67" y1="383.55" x2="489.26" y2="419.62" stroke="#666666" stroke-width="0.7"/>
<path d="M467.89 385.49Q467.85 389.95 471.87 391.85Q471.92 387.4 467.89 385.49Z" fill="#aaaaff"/>
<path d="M476.79 399.7Q479.66 408.82 486.61 415.38Q483.73 406.27 476.79 399.7Z" fill="#00ee00"/>
<line x1="486.87" y1="415.81" x2="489.26" y2="419.62" stroke="#ff0000" stroke-width="2.4"/>
<line x1="462.81" y1="385.89" x2="484.89" y2="423.56" stroke="#666666" stroke-width="0.7"/>
<path d="M463.97 387.87Q463.8 392.32 467.76 394.34Q467.94 389.89 463.97 387.87Z" fill="#aaaaff"/>
<path d="M473.01 403.29Q475.61 412.48 482.36 419.24Q479.75 410.05 473.01 403.29Z" fill="#00ee00"/>
<line x1="482.61" y1="419.68" x2="484.89" y2="423.56" stroke="#ff0000" stroke-width="2.4"/>
<line x1="458.87" y1="388.12" x2="481.18" y2="428.84" stroke="#666666" stroke-width="0.7"/>
<path d="M459.98 390.14Q459.68 394.58 463.58 396.71Q463.88 392.27 459.98 390.14Z" fill="#aaaaff"/>
<path d="M469.89 408.23Q472.23 417.49 478.77 424.45Q476.44 415.19 469.89 408.23Z" fill="#00ee00"/>
<line x1="479.01" y1="424.89" x2="481.18" y2="428.84" stroke="#ff0000" stroke-width="2.4"/>
<line x1="454.88" y1="390.23" x2="475.4" y2="430.45" stroke="#666666" stroke-width="0.7"/>
<path d="M455.92 392.28Q455.49 396.71 459.33 398.96Q459.77 394.53 455.92 392.28Z" fill="#aaaaff"/>
<path d="M464.72 409.52Q466.79 418.85 473.13 425.99Q471.06 416.66 464.72 409.52Z" fill="#00ee00"/>
<line x1="473.36" y1="426.44" x2="475.4" y2="430.45" stroke="#ff0000" stroke-width="2.4"/>
<line x1="450.82" y1="392.23" x2="468.78" y2="430.09" stroke="#666666" stroke-width="0.7"/>
<path d="M451.81 394.31Q451.24 398.72 455.02 401.08Q455.58 396.67 451.81 394.31Z" fill="#aaaaff"/>
<path d="M458.71 408.86Q460.5 418.24 466.63 425.57Q464.84 416.19 458.71 408.86Z" fill="#00ee00"/>
<line x1="466.85" y1="426.02" x2="468.78" y2="430.09" stroke="#ff0000" stroke-width="2.4"/>
<line x1="446.71" y1="394.11" x2="465.7" y2="437.36" stroke="#666666" stroke-width="0.7"/>
<path d="M447.63 396.21Q446.94 400.61 450.65 403.08Q451.34 398.68 447.63 396.21Z" fill="#aaaaff"/>
<path d="M456.25 415.84Q457.77 425.27 463.69 432.78Q462.17 423.34 456.25 415.84Z" fill="#00ee00"/>
<line x1="463.89" y1="433.24" x2="465.7" y2="437.36" stroke="#ff0000" stroke-width="2.4"/>
<line x1="442.54" y1="395.86" x2="455.6" y2="428.12" stroke="#666666" stroke-width="0.7"/>
<line x1="448.47" y1="410.51" x2="450.08" y2="414.5" stroke="#ff0000" stroke-width="2.4"/>
<line x1="451.23" y1="417.32" x2="451.41" y2="417.79" stroke="#0000ff" stroke-width="1.8" stroke-linecap="round"/>
<line x1="452.5" y1="420.47" x2="452.69" y2="420.94" stroke="#0000ff" stroke-width="1.8" stroke-linecap="round"/>
<line x1="454.19" y1="424.65" x2="454.38" y2="425.11" stroke="#006400" stroke-width="1.6" stroke-linecap="round"/>
<line x1="438.35" y1="397.49" x2="452.21" y2="434.8" stroke="#666666" stroke-width="0.7"/>
<line x1="443.33" y1="410.9" x2="444.9" y2="415.11" stroke="#ff0000" stroke-width="2.4"/>
<path d="M448.73 425.43Q446.94 429.82 451.16 431.99Q452.94 427.59 448.73 425.43Z" fill="#006400"/>
<line x1="434.14" y1="398.99" x2="447.24" y2="437.63" stroke="#666666" stroke-width="0.7"/>
<line x1="438.89" y1="413" x2="440.27" y2="417.07" stroke="#ff0000" stroke-width="2.4"/>
<path d="M443.87 427.68Q441.96 432.02 446.11 434.31Q448.02 429.97 443.87 427.68Z" fill="#006400"/>
<line x1="429.89" y1="400.36" x2="441.87" y2="439.36" stroke="#666666" stroke-width="0.7"/>
<line x1="434.23" y1="414.51" x2="435.49" y2="418.62" stroke="#ff0000" stroke-width="2.4"/>
<line x1="437.09" y1="423.83" x2="437.24" y2="424.3" stroke="#006400" stroke-width="1.3" stroke-linecap="round"/>
<path d="M438.78 429.32Q436.75 433.61 440.84 436.01Q442.87 431.73 438.78 429.32Z" fill="#006400"/>
<line x1="425.6" y1="401.61" x2="439.11" y2="450.58" stroke="#666666" stroke-width="0.7"/>
<line x1="428.2" y1="411.06" x2="429.35" y2="415.2" stroke="#ff0000" stroke-width="2.4"/>
<line x1="432.92" y1="428.17" x2="433.06" y2="428.65" stroke="#0000ff" stroke-width="1.9" stroke-linecap="round"/>
<line x1="437.44" y1="444.55" x2="437.58" y2="445.04" stroke="#0000ff" stroke-width="1.9" stroke-linecap="round"/>
<line x1="421.27" y1="402.74" x2="429.32" y2="435.56" stroke="#666666" stroke-width="0.7"/>
<line x1="425.03" y1="418.08" x2="426.06" y2="422.26" stroke="#ff0000" stroke-width="2.4"/>
<line x1="427.11" y1="426.58" x2="427.23" y2="427.07" stroke="#0000ff" stroke-width="1.9" stroke-linecap="round"/>
<line x1="427.83" y1="429.49" x2="427.95" y2="429.98" stroke="#0000ff" stroke-width="1.9" stroke-linecap="round"/>
<line x1="428.54" y1="432.41" x2="428.66" y2="432.89" stroke="#0000ff" stroke-width="1.9" stroke-linecap="round"/>
<line x1="426.52" y1="424.15" x2="426.64" y2="424.64" stroke="#22aa22" stroke-width="1.3" stroke-linecap="round"/>
<line x1="416.91" y1="403.74" x2="424.12" y2="437.27" stroke="#666666" stroke-width="0.7"/>
<line x1="420.15" y1="418.79" x2="421.05" y2="423" stroke="#ff0000" stroke-width="2.4"/>
<line x1="421.96" y1="427.25" x2="422.07" y2="427.74" stroke="#0000ff" stroke-width="1.9" stroke-linecap="round"/>
<line x1="422.59" y1="430.18" x2="422.7" y2="430.67" stroke="#0000ff" stroke-width="1.9" stroke-linecap="round"/>
<line x1="423.22" y1="433.12" x2="423.33" y2="433.61" stroke="#0000ff" stroke-width="1.9" stroke-linecap="round"/>
<line x1="421.44" y1="424.81" x2="421.54" y2="425.3" stroke="#22aa22" stroke-width="1.3" stroke-linecap="round"/>
<line x1="412.53" y1="404.61" x2="419.04" y2="439.82" stroke="#666666" stroke-width="0.7"/>
<line x1="415.58" y1="421.13" x2="416.36" y2="425.36" stroke="#ff0000" stroke-width="2.4"/>
<line x1="417.17" y1="429.74" x2="417.26" y2="430.23" stroke="#0000ff" stroke-width="1.9" stroke-linecap="round"/>
<line x1="417.72" y1="432.69" x2="417.81" y2="433.18" stroke="#0000ff" stroke-width="1.9" stroke-linecap="round"/>
<line x1="418.26" y1="435.64" x2="418.35" y2="436.13" stroke="#0000ff" stroke-width="1.9" stroke-linecap="round"/>
<line x1="416.72" y1="427.28" x2="416.81" y2="427.77" stroke="#22aa22" stroke-width="1.3" stroke-linecap="round"/>
<line x1="408.12" y1="405.36" x2="411.62" y2="427.89" stroke="#666666" stroke-width="0.7"/>
<line x1="408.47" y1="407.64" x2="409.13" y2="411.89" stroke="#ff0000" stroke-width="2.4"/>
<line x1="410.66" y1="421.72" x2="410.73" y2="422.21" stroke="#0000ff" stroke-width="1.9" stroke-linecap="round"/>
<line x1="403.69" y1="405.99" x2="406.41" y2="427.62" stroke="#666666" stroke-width="0.7"/>
<line x1="403.95" y1="408.07" x2="404.49" y2="412.34" stroke="#ff0000" stroke-width="2.4"/>
<line x1="404.95" y1="415.96" x2="405.01" y2="416.45" stroke="#0000ff" stroke-width="1.9" stroke-linecap="round"/>
<line x1="405.63" y1="421.41" x2="405.7" y2="421.91" stroke="#0000ff" stroke-width="1.9" stroke-linecap="round"/>
<line x1="399.25" y1="406.48" x2="401.06" y2="425.19" stroke="#666666" stroke-width="0.7"/>
<line x1="399.42" y1="408.27" x2="399.84" y2="412.55" stroke="#ff0000" stroke-width="2.4"/>
<line x1="399.97" y1="413.99" x2="400.02" y2="414.49" stroke="#0000ff" stroke-width="1.9" stroke-linecap="round"/>
<line x1="400.19" y1="416.23" x2="400.67" y2="421.21" stroke="#22a0ff" stroke-width="2.5"/>
<line x1="394.79" y1="406.85" x2="396.67" y2="434.58" stroke="#666666" stroke-width="0.7"/>
<line x1="394.98" y1="409.64" x2="395.27" y2="413.93" stroke="#ff0000" stroke-width="2.4"/>
<line x1="395.64" y1="419.37" x2="395.67" y2="419.87" stroke="#0000ff" stroke-width="1.9" stroke-linecap="round"/>
<line x1="395.84" y1="422.36" x2="395.88" y2="422.86" stroke="#0000ff" stroke-width="1.9" stroke-linecap="round"/>
<line x1="396.1" y1="426.1" x2="396.3" y2="429.1" stroke="#22a0ff" stroke-width="2.5"/>
<line x1="390.33" y1="407.08" x2="391.56" y2="438.86" stroke="#666666" stroke-width="0.7"/>
<line x1="390.75" y1="417.88" x2="390.91" y2="422.17" stroke="#ff0000" stroke-width="2.4"/>
<line x1="391.03" y1="425.12" x2="391.05" y2="425.62" stroke="#0000ff" stroke-width="1.9" stroke-linecap="round"/>
<line x1="391.12" y1="427.62" x2="391.14" y2="428.12" stroke="#0000ff" stroke-width="1.9" stroke-linecap="round"/>
<line x1="391.22" y1="430.12" x2="391.24" y2="430.62" stroke="#0000ff" stroke-width="1.9" stroke-linecap="round"/>
<line x1="391.29" y1="431.86" x2="391.48" y2="436.86" stroke="#22a0ff" stroke-width="2.5"/>
<line x1="385.86" y1="407.19" x2="386.23" y2="444.59" stroke="#666666" stroke-width="0.7"/>
<line x1="386.02" y1="423.29" x2="386.06" y2="427.59" stroke="#ff0000" stroke-width="2.4"/>
<line x1="386.09" y1="430.24" x2="386.09" y2="430.74" stroke="#0000ff" stroke-width="1.9" stroke-linecap="round"/>
<line x1="386.11" y1="432.74" x2="386.12" y2="433.24" stroke="#0000ff" stroke-width="1.9" stroke-linecap="round"/>
<line x1="386.14" y1="435.24" x2="386.14" y2="435.74" stroke="#0000ff" stroke-width="1.9" stroke-linecap="round"/>
<line x1="386.15" y1="436.99" x2="386.21" y2="442.49" stroke="#22a0ff" stroke-width="2.5"/>
<line x1="381.39" y1="407.17" x2="380.63" y2="447.47" stroke="#666666" stroke-width="0.7"/>
<line x1="381.03" y1="425.97" x2="380.95" y2="430.27" stroke="#ff0000" stroke-width="2.4"/>
<line x1="380.9" y1="432.72" x2="380.89" y2="433.22" stroke="#0000ff" stroke-width="1.9" stroke-linecap="round"/>
<line x1="380.86" y1="435.22" x2="380.85" y2="435.72" stroke="#0000ff" stroke-width="1.9" stroke-linecap="round"/>
<line x1="380.81" y1="437.72" x2="380.8" y2="438.22" stroke="#0000ff" stroke-width="1.9" stroke-linecap="round"/>
<line x1="380.77" y1="439.67" x2="380.67" y2="445.37" stroke="#22a0ff" stroke-width="2.5"/>
<line x1="376.92" y1="407.02" x2="375.34" y2="440.19" stroke="#666666" stroke-width="0.7"/>
<line x1="376.25" y1="421.01" x2="376.05" y2="425.3" stroke="#ff0000" stroke-width="2.4"/>
<line x1="375.91" y1="428.05" x2="375.89" y2="428.55" stroke="#0000ff" stroke-width="1.9" stroke-linecap="round"/>
<line x1="375.8" y1="430.55" x2="375.77" y2="431.05" stroke="#0000ff" stroke-width="1.9" stroke-linecap="round"/>
<line x1="375.68" y1="433.04" x2="375.65" y2="433.54" stroke="#0000ff" stroke-width="1.9" stroke-linecap="round"/>
<line x1="375.56" y1="435.54" x2="375.53" y2="436.04" stroke="#0000ff" stroke-width="1.9" stroke-linecap="round"/>
<line x1="375.46" y1="437.54" x2="375.44" y2="438.04" stroke="#0000ff" stroke-width="1.9" stroke-linecap="round"/>
<line x1="372.46" y1="406.75" x2="370.35" y2="434.17" stroke="#666666" stroke-width="0.7"/>
<line x1="371.82" y1="415.02" x2="371.49" y2="419.31" stroke="#ff0000" stroke-width="2.4"/>
<line x1="371.23" y1="422.75" x2="371.19" y2="423.25" stroke="#0000ff" stroke-width="1.9" stroke-linecap="round"/>
<line x1="371.04" y1="425.24" x2="371" y2="425.74" stroke="#0000ff" stroke-width="1.9" stroke-linecap="round"/>
<line x1="370.85" y1="427.73" x2="370.81" y2="428.23" stroke="#0000ff" stroke-width="1.9" stroke-linecap="round"/>
<line x1="370.66" y1="430.23" x2="370.62" y2="430.73" stroke="#0000ff" stroke-width="1.9" stroke-linecap="round"/>
<line x1="370.5" y1="432.22" x2="370.46" y2="432.72" stroke="#0000ff" stroke-width="1.9" stroke-linecap="round"/>
<line x1="368" y1="406.34" x2="362.51" y2="458.35" stroke="#666666" stroke-width="0.7"/>
<line x1="366.76" y1="418.07" x2="366.31" y2="422.35" stroke="#ff0000" stroke-width="2.4"/>
<line x1="364.94" y1="435.33" x2="364.89" y2="435.83" stroke="#0000ff" stroke-width="1.9" stroke-linecap="round"/>
<line x1="363.58" y1="448.16" x2="363.53" y2="448.65" stroke="#0000ff" stroke-width="1.9" stroke-linecap="round"/>
<line x1="363.14" y1="452.33" x2="363.09" y2="452.83" stroke="#0000ff" stroke-width="1.9" stroke-linecap="round"/>
<line x1="363.56" y1="405.81" x2="356.64" y2="457.14" stroke="#666666" stroke-width="0.7"/>
<line x1="362.08" y1="416.81" x2="361.5" y2="421.07" stroke="#ff0000" stroke-width="2.4"/>
<line x1="359.68" y1="434.6" x2="359.61" y2="435.09" stroke="#0000ff" stroke-width="1.9" stroke-linecap="round"/>
<line x1="357.94" y1="447.48" x2="357.87" y2="447.97" stroke="#0000ff" stroke-width="1.9" stroke-linecap="round"/>
<line x1="357.38" y1="451.64" x2="357.31" y2="452.14" stroke="#0000ff" stroke-width="1.9" stroke-linecap="round"/>
<line x1="361.14" y1="423.79" x2="361.07" y2="424.29" stroke="#ff9900" stroke-width="1.6" stroke-linecap="round"/>
<line x1="359.14" y1="405.14" x2="350.74" y2="456.26" stroke="#666666" stroke-width="0.7"/>
<line x1="357.49" y1="415.21" x2="356.79" y2="419.45" stroke="#ff0000" stroke-width="2.4"/>
<line x1="354.58" y1="432.92" x2="354.49" y2="433.42" stroke="#0000ff" stroke-width="1.9" stroke-linecap="round"/>
<line x1="352.48" y1="445.65" x2="352.4" y2="446.14" stroke="#0000ff" stroke-width="1.9" stroke-linecap="round"/>
<line x1="351.82" y1="449.7" x2="351.74" y2="450.19" stroke="#0000ff" stroke-width="1.9" stroke-linecap="round"/>
<line x1="354.74" y1="404.36" x2="350.07" y2="428.41" stroke="#666666" stroke-width="0.7"/>
<line x1="354.49" y1="405.63" x2="353.67" y2="409.85" stroke="#ff0000" stroke-width="2.4"/>
<line x1="352.06" y1="418.15" x2="351.97" y2="418.64" stroke="#0000ff" stroke-width="1.9" stroke-linecap="round"/>
<line x1="351.63" y1="420.41" x2="351.53" y2="420.9" stroke="#0000ff" stroke-width="1.9" stroke-linecap="round"/>
<line x1="350.36" y1="403.44" x2="342.03" y2="440.62" stroke="#666666" stroke-width="0.7"/>
<line x1="346.91" y1="418.86" x2="345.97" y2="423.05" stroke="#ff0000" stroke-width="2.4"/>
<line x1="345.13" y1="426.81" x2="345.02" y2="427.3" stroke="#0000ff" stroke-width="1.9" stroke-linecap="round"/>
<line x1="344.14" y1="431.2" x2="344.03" y2="431.69" stroke="#0000ff" stroke-width="1.9" stroke-linecap="round"/>
<line x1="346.02" y1="402.4" x2="333.6" y2="451.14" stroke="#666666" stroke-width="0.7"/>
<line x1="343.6" y1="411.9" x2="342.54" y2="416.06" stroke="#ff0000" stroke-width="2.4"/>
<line x1="335.02" y1="445.57" x2="334.9" y2="446.06" stroke="#0000ff" stroke-width="1.9" stroke-linecap="round"/>
<line x1="341.7" y1="401.23" x2="332.47" y2="433.54" stroke="#666666" stroke-width="0.7"/>
<line x1="337.75" y1="415.08" x2="336.56" y2="419.22" stroke="#ff0000" stroke-width="2.4"/>
<line x1="335.92" y1="421.48" x2="335.78" y2="421.96" stroke="#0000ff" stroke-width="1.9" stroke-linecap="round"/>
<line x1="335.23" y1="423.88" x2="335.1" y2="424.36" stroke="#0000ff" stroke-width="1.9" stroke-linecap="round"/>
<line x1="334.55" y1="426.28" x2="334.41" y2="426.76" stroke="#0000ff" stroke-width="1.9" stroke-linecap="round"/>
<line x1="333.86" y1="428.69" x2="333.72" y2="429.17" stroke="#0000ff" stroke-width="1.9" stroke-linecap="round"/>
<line x1="337.42" y1="399.95" x2="330.53" y2="421.68" stroke="#666666" stroke-width="0.7"/>
<line x1="336.42" y1="403.09" x2="335.12" y2="407.19" stroke="#ff0000" stroke-width="2.4"/>
<line x1="332.12" y1="416.67" x2="331.96" y2="417.15" stroke="#0000ff" stroke-width="1.9" stroke-linecap="round"/>
<line x1="333.18" y1="398.53" x2="325.99" y2="419.12" stroke="#666666" stroke-width="0.7"/>
<line x1="332.65" y1="400.04" x2="331.23" y2="404.1" stroke="#ff0000" stroke-width="2.4"/>
<line x1="328.38" y1="412.27" x2="328.22" y2="412.74" stroke="#0000ff" stroke-width="1.9" stroke-linecap="round"/>
<line x1="328.98" y1="397" x2="321.2" y2="417.37" stroke="#666666" stroke-width="0.7"/>
<line x1="328.69" y1="397.75" x2="327.16" y2="401.76" stroke="#ff0000" stroke-width="2.4"/>
<line x1="326.04" y1="404.71" x2="325.86" y2="405.17" stroke="#0000ff" stroke-width="1.9" stroke-linecap="round"/>
<line x1="324.5" y1="408.72" x2="324.32" y2="409.19" stroke="#0000ff" stroke-width="1.9" stroke-linecap="round"/>
<line x1="324.82" y1="395.34" x2="308.8" y2="433.95" stroke="#666666" stroke-width="0.7"/>
<line x1="319.15" y1="409.01" x2="317.5" y2="412.99" stroke="#ff0000" stroke-width="2.4"/>
<line x1="310.54" y1="429.75" x2="310.35" y2="430.21" stroke="#0000ff" stroke-width="1.9" stroke-linecap="round"/>
<line x1="320.72" y1="393.57" x2="302.69" y2="433.71" stroke="#666666" stroke-width="0.7"/>
<line x1="313.9" y1="408.75" x2="312.18" y2="412.58" stroke="#ff0000" stroke-width="2.4"/>
<line x1="309.34" y1="418.9" x2="309.14" y2="419.35" stroke="#0000ff" stroke-width="1.9" stroke-linecap="round"/>
<line x1="308.11" y1="421.63" x2="307.91" y2="422.09" stroke="#0000ff" stroke-width="1.9" stroke-linecap="round"/>
<line x1="306.88" y1="424.37" x2="306.68" y2="424.83" stroke="#0000ff" stroke-width="1.9" stroke-linecap="round"/>
<line x1="305.65" y1="427.11" x2="305.45" y2="427.56" stroke="#0000ff" stroke-width="1.9" stroke-linecap="round"/>
<line x1="316.67" y1="391.68" x2="302.1" y2="421.75" stroke="#666666" stroke-width="0.7"/>
<line x1="315.5" y1="394.09" x2="313.67" y2="397.87" stroke="#ff0000" stroke-width="2.4"/>
<line x1="310.27" y1="404.9" x2="310.05" y2="405.35" stroke="#0000ff" stroke-width="1.9" stroke-linecap="round"/>
<line x1="308.91" y1="407.69" x2="308.7" y2="408.14" stroke="#0000ff" stroke-width="1.9" stroke-linecap="round"/>
<line x1="307.56" y1="410.48" x2="307.35" y2="410.93" stroke="#0000ff" stroke-width="1.9" stroke-linecap="round"/>
<line x1="312.67" y1="389.67" x2="292.91" y2="427.65" stroke="#666666" stroke-width="0.7"/>
<line x1="305.59" y1="403.28" x2="303.65" y2="407.01" stroke="#ff0000" stroke-width="2.4"/>
<line x1="300.32" y1="413.4" x2="300.09" y2="413.84" stroke="#0000ff" stroke-width="1.9" stroke-linecap="round"/>
<line x1="298.94" y1="416.06" x2="298.71" y2="416.51" stroke="#0000ff" stroke-width="1.9" stroke-linecap="round"/>
<line x1="297.55" y1="418.72" x2="297.32" y2="419.17" stroke="#0000ff" stroke-width="1.9" stroke-linecap="round"/>
<line x1="308.74" y1="387.55" x2="293.72" y2="414.49" stroke="#666666" stroke-width="0.7"/>
<line x1="307.1" y1="390.49" x2="305.05" y2="394.16" stroke="#ff0000" stroke-width="2.4"/>
<line x1="301.69" y1="400.18" x2="301.45" y2="400.62" stroke="#0000ff" stroke-width="1.9" stroke-linecap="round"/>
<line x1="300.18" y1="402.89" x2="299.94" y2="403.33" stroke="#0000ff" stroke-width="1.9" stroke-linecap="round"/>
<line x1="298.67" y1="405.6" x2="298.43" y2="406.03" stroke="#0000ff" stroke-width="1.9" stroke-linecap="round"/>
<line x1="297.16" y1="408.3" x2="296.92" y2="408.74" stroke="#0000ff" stroke-width="1.9" stroke-linecap="round"/>
<line x1="304.86" y1="385.32" x2="282.19" y2="423.35" stroke="#666666" stroke-width="0.7"/>
<line x1="297.45" y1="397.76" x2="295.3" y2="401.37" stroke="#ff0000" stroke-width="2.4"/>
<line x1="292.07" y1="406.79" x2="291.81" y2="407.21" stroke="#0000ff" stroke-width="1.9" stroke-linecap="round"/>
<line x1="290.53" y1="409.36" x2="290.28" y2="409.79" stroke="#0000ff" stroke-width="1.9" stroke-linecap="round"/>
<line x1="289" y1="411.94" x2="288.74" y2="412.37" stroke="#0000ff" stroke-width="1.9" stroke-linecap="round"/>
<line x1="301.05" y1="382.98" x2="283.03" y2="411.33" stroke="#666666" stroke-width="0.7"/>
<line x1="298.91" y1="386.35" x2="296.66" y2="389.9" stroke="#ff0000" stroke-width="2.4"/>
<line x1="292.4" y1="396.59" x2="292.13" y2="397.01" stroke="#0000ff" stroke-width="1.9" stroke-linecap="round"/>
<line x1="290.74" y1="399.21" x2="290.47" y2="399.63" stroke="#0000ff" stroke-width="1.9" stroke-linecap="round"/>
<line x1="289.07" y1="401.82" x2="288.8" y2="402.25" stroke="#0000ff" stroke-width="1.9" stroke-linecap="round"/>
<line x1="297.32" y1="380.52" x2="272.8" y2="416.74" stroke="#666666" stroke-width="0.7"/>
<line x1="288.33" y1="393.8" x2="285.97" y2="397.28" stroke="#ff0000" stroke-width="2.4"/>
<line x1="282.88" y1="401.84" x2="282.6" y2="402.26" stroke="#0000ff" stroke-width="1.9" stroke-linecap="round"/>
<line x1="281.2" y1="404.33" x2="280.92" y2="404.74" stroke="#0000ff" stroke-width="1.9" stroke-linecap="round"/>
<line x1="279.52" y1="406.81" x2="279.24" y2="407.23" stroke="#0000ff" stroke-width="1.9" stroke-linecap="round"/>
<line x1="277.84" y1="409.3" x2="277.56" y2="409.71" stroke="#0000ff" stroke-width="1.9" stroke-linecap="round"/>
<line x1="276.16" y1="411.78" x2="275.88" y2="412.2" stroke="#0000ff" stroke-width="1.9" stroke-linecap="round"/>
<line x1="293.65" y1="377.96" x2="275.11" y2="403.72" stroke="#666666" stroke-width="0.7"/>
<line x1="292.48" y1="379.59" x2="290.02" y2="383" stroke="#ff0000" stroke-width="2.4"/>
<line x1="285.35" y1="389.5" x2="285.06" y2="389.9" stroke="#0000ff" stroke-width="1.9" stroke-linecap="round"/>
<line x1="283.54" y1="392.01" x2="283.25" y2="392.42" stroke="#0000ff" stroke-width="1.9" stroke-linecap="round"/>
<line x1="281.73" y1="394.53" x2="281.43" y2="394.93" stroke="#0000ff" stroke-width="1.9" stroke-linecap="round"/>
<line x1="290.06" y1="375.3" x2="263.8" y2="409.66" stroke="#666666" stroke-width="0.7"/>
<line x1="281.24" y1="386.83" x2="278.69" y2="390.17" stroke="#ff0000" stroke-width="2.4"/>
<line x1="275.85" y1="393.88" x2="275.55" y2="394.28" stroke="#0000ff" stroke-width="1.9" stroke-linecap="round"/>
<line x1="274.03" y1="396.27" x2="273.73" y2="396.66" stroke="#0000ff" stroke-width="1.9" stroke-linecap="round"/>
<line x1="272.21" y1="398.65" x2="271.91" y2="399.05" stroke="#0000ff" stroke-width="1.9" stroke-linecap="round"/>
<line x1="286.55" y1="372.53" x2="266.66" y2="397.05" stroke="#666666" stroke-width="0.7"/>
<line x1="284.63" y1="374.9" x2="281.98" y2="378.16" stroke="#ff0000" stroke-width="2.4"/>
<line x1="277.2" y1="384.06" x2="276.89" y2="384.44" stroke="#0000ff" stroke-width="1.9" stroke-linecap="round"/>
<line x1="275.25" y1="386.46" x2="274.93" y2="386.85" stroke="#0000ff" stroke-width="1.9" stroke-linecap="round"/>
<line x1="273.29" y1="388.87" x2="272.98" y2="389.26" stroke="#0000ff" stroke-width="1.9" stroke-linecap="round"/>
<line x1="283.12" y1="369.67" x2="255.11" y2="402.22" stroke="#666666" stroke-width="0.7"/>
<line x1="273.77" y1="380.53" x2="271.03" y2="383.71" stroke="#ff0000" stroke-width="2.4"/>
<line x1="268.21" y1="386.99" x2="267.89" y2="387.37" stroke="#0000ff" stroke-width="1.9" stroke-linecap="round"/>
<line x1="266.26" y1="389.27" x2="265.93" y2="389.65" stroke="#0000ff" stroke-width="1.9" stroke-linecap="round"/>
<line x1="264.3" y1="391.54" x2="263.98" y2="391.92" stroke="#0000ff" stroke-width="1.9" stroke-linecap="round"/>
<line x1="262.35" y1="393.82" x2="262.02" y2="394.19" stroke="#0000ff" stroke-width="1.9" stroke-linecap="round"/>
<line x1="279.77" y1="366.7" x2="257.69" y2="390.93" stroke="#666666" stroke-width="0.7"/>
<line x1="277.68" y1="368.99" x2="274.85" y2="372.1" stroke="#ff0000" stroke-width="2.4"/>
<line x1="269.46" y1="378.02" x2="269.12" y2="378.39" stroke="#0000ff" stroke-width="1.9" stroke-linecap="round"/>
<line x1="267.37" y1="380.31" x2="267.03" y2="380.68" stroke="#0000ff" stroke-width="1.9" stroke-linecap="round"/>
<line x1="265.28" y1="382.6" x2="264.94" y2="382.97" stroke="#0000ff" stroke-width="1.9" stroke-linecap="round"/>
<line x1="276.51" y1="363.64" x2="246.55" y2="394.67" stroke="#666666" stroke-width="0.7"/>
<line x1="265.81" y1="374.73" x2="262.89" y2="377.75" stroke="#ff0000" stroke-width="2.4"/>
<line x1="259.38" y1="381.39" x2="259.03" y2="381.74" stroke="#0000ff" stroke-width="1.9" stroke-linecap="round"/>
<line x1="257.29" y1="383.54" x2="256.94" y2="383.9" stroke="#0000ff" stroke-width="1.9" stroke-linecap="round"/>
<line x1="255.21" y1="385.7" x2="254.86" y2="386.06" stroke="#0000ff" stroke-width="1.9" stroke-linecap="round"/>
<line x1="253.12" y1="387.86" x2="252.78" y2="388.22" stroke="#0000ff" stroke-width="1.9" stroke-linecap="round"/>
<line x1="273.34" y1="360.49" x2="249.42" y2="383.87" stroke="#666666" stroke-width="0.7"/>
<line x1="271.69" y1="362.1" x2="268.69" y2="365.03" stroke="#ff0000" stroke-width="2.4"/>
<line x1="263.65" y1="369.96" x2="263.3" y2="370.31" stroke="#0000ff" stroke-width="1.9" stroke-linecap="round"/>
<line x1="261.44" y1="372.12" x2="261.08" y2="372.47" stroke="#0000ff" stroke-width="1.9" stroke-linecap="round"/>
<line x1="259.22" y1="374.29" x2="258.86" y2="374.64" stroke="#0000ff" stroke-width="1.9" stroke-linecap="round"/>
<line x1="270.26" y1="357.25" x2="239.93" y2="385.24" stroke="#666666" stroke-width="0.7"/>
<line x1="259.04" y1="367.6" x2="255.95" y2="370.45" stroke="#ff0000" stroke-width="2.4"/>
<line x1="252.58" y1="373.56" x2="252.21" y2="373.9" stroke="#0000ff" stroke-width="1.9" stroke-linecap="round"/>
<line x1="250.38" y1="375.6" x2="250.01" y2="375.93" stroke="#0000ff" stroke-width="1.9" stroke-linecap="round"/>
<line x1="248.17" y1="377.63" x2="247.8" y2="377.97" stroke="#0000ff" stroke-width="1.9" stroke-linecap="round"/>
<line x1="245.97" y1="379.66" x2="245.6" y2="380" stroke="#0000ff" stroke-width="1.9" stroke-linecap="round"/>
<line x1="267.27" y1="353.92" x2="242.44" y2="375.55" stroke="#666666" stroke-width="0.7"/>
<line x1="265.25" y1="355.68" x2="262.09" y2="358.44" stroke="#ff0000" stroke-width="2.4"/>
<line x1="255.72" y1="363.98" x2="255.35" y2="364.31" stroke="#0000ff" stroke-width="1.9" stroke-linecap="round"/>
<line x1="253.39" y1="366.01" x2="253.01" y2="366.34" stroke="#0000ff" stroke-width="1.9" stroke-linecap="round"/>
<line x1="251.05" y1="368.05" x2="250.67" y2="368.38" stroke="#0000ff" stroke-width="1.9" stroke-linecap="round"/>
<line x1="264.38" y1="350.51" x2="232.55" y2="376.65" stroke="#666666" stroke-width="0.7"/>
<line x1="251.5" y1="361.09" x2="248.25" y2="363.76" stroke="#ff0000" stroke-width="2.4"/>
<line x1="242.82" y1="368.22" x2="242.43" y2="368.54" stroke="#0000ff" stroke-width="1.9" stroke-linecap="round"/>
<line x1="240.5" y1="370.13" x2="240.11" y2="370.45" stroke="#0000ff" stroke-width="1.9" stroke-linecap="round"/>
<line x1="238.18" y1="372.03" x2="237.79" y2="372.35" stroke="#0000ff" stroke-width="1.9" stroke-linecap="round"/>
<line x1="235.86" y1="373.94" x2="235.47" y2="374.25" stroke="#0000ff" stroke-width="1.9" stroke-linecap="round"/>
<line x1="261.6" y1="347.01" x2="236.34" y2="366.57" stroke="#666666" stroke-width="0.7"/>
<line x1="259.24" y1="348.84" x2="255.92" y2="351.41" stroke="#ff0000" stroke-width="2.4"/>
<line x1="249.18" y1="356.63" x2="248.78" y2="356.93" stroke="#0000ff" stroke-width="1.9" stroke-linecap="round"/>
<line x1="246.73" y1="358.52" x2="246.33" y2="358.83" stroke="#0000ff" stroke-width="1.9" stroke-linecap="round"/>
<line x1="244.28" y1="360.42" x2="243.88" y2="360.73" stroke="#0000ff" stroke-width="1.9" stroke-linecap="round"/>
<line x1="258.91" y1="343.44" x2="223.56" y2="369.21" stroke="#666666" stroke-width="0.7"/>
<line x1="246.31" y1="352.63" x2="242.91" y2="355.1" stroke="#ff0000" stroke-width="2.4"/>
<line x1="237.57" y1="359" x2="237.16" y2="359.29" stroke="#0000ff" stroke-width="1.9" stroke-linecap="round"/>
<line x1="235.14" y1="360.77" x2="234.74" y2="361.06" stroke="#0000ff" stroke-width="1.9" stroke-linecap="round"/>
<line x1="232.72" y1="362.54" x2="232.32" y2="362.83" stroke="#0000ff" stroke-width="1.9" stroke-linecap="round"/>
<line x1="230.3" y1="364.3" x2="229.89" y2="364.6" stroke="#0000ff" stroke-width="1.9" stroke-linecap="round"/>
<line x1="256.33" y1="339.79" x2="230.24" y2="357.68" stroke="#666666" stroke-width="0.7"/>
<line x1="253.56" y1="341.69" x2="250.09" y2="344.06" stroke="#ff0000" stroke-width="2.4"/>
<line x1="244.56" y1="347.86" x2="244.15" y2="348.14" stroke="#0000ff" stroke-width="1.9" stroke-linecap="round"/>
<line x1="242" y1="349.61" x2="241.59" y2="349.9" stroke="#0000ff" stroke-width="1.9" stroke-linecap="round"/>
<line x1="239.45" y1="351.37" x2="239.03" y2="351.65" stroke="#0000ff" stroke-width="1.9" stroke-linecap="round"/>
<line x1="253.85" y1="336.06" x2="218.65" y2="358.75" stroke="#666666" stroke-width="0.7"/>
<line x1="240.56" y1="344.63" x2="237.03" y2="346.91" stroke="#ff0000" stroke-width="2.4"/>
<line x1="231.95" y1="350.17" x2="231.53" y2="350.45" stroke="#0000ff" stroke-width="1.9" stroke-linecap="round"/>
<line x1="229.43" y1="351.8" x2="229.01" y2="352.07" stroke="#0000ff" stroke-width="1.9" stroke-linecap="round"/>
<line x1="226.91" y1="353.42" x2="226.49" y2="353.7" stroke="#0000ff" stroke-width="1.9" stroke-linecap="round"/>
<line x1="224.39" y1="355.05" x2="223.97" y2="355.32" stroke="#0000ff" stroke-width="1.9" stroke-linecap="round"/>
<line x1="251.49" y1="332.27" x2="224.09" y2="348.83" stroke="#666666" stroke-width="0.7"/>
<line x1="248.25" y1="334.23" x2="244.66" y2="336.4" stroke="#ff0000" stroke-width="2.4"/>
<line x1="239.69" y1="339.4" x2="239.26" y2="339.66" stroke="#0000ff" stroke-width="1.9" stroke-linecap="round"/>
<line x1="237.03" y1="341" x2="236.61" y2="341.26" stroke="#0000ff" stroke-width="1.9" stroke-linecap="round"/>
<line x1="234.38" y1="342.61" x2="233.95" y2="342.87" stroke="#0000ff" stroke-width="1.9" stroke-linecap="round"/>
<line x1="249.23" y1="328.41" x2="213.29" y2="348.74" stroke="#666666" stroke-width="0.7"/>
<line x1="236.37" y1="335.69" x2="232.71" y2="337.75" stroke="#ff0000" stroke-width="2.4"/>
<line x1="228.62" y1="340.07" x2="228.19" y2="340.31" stroke="#0000ff" stroke-width="1.9" stroke-linecap="round"/>
<line x1="226.01" y1="341.54" x2="225.58" y2="341.79" stroke="#0000ff" stroke-width="1.9" stroke-linecap="round"/>
<line x1="223.4" y1="343.02" x2="222.97" y2="343.27" stroke="#0000ff" stroke-width="1.9" stroke-linecap="round"/>
<line x1="220.79" y1="344.5" x2="220.35" y2="344.74" stroke="#0000ff" stroke-width="1.9" stroke-linecap="round"/>
<line x1="247.08" y1="324.49" x2="219.56" y2="339.03" stroke="#666666" stroke-width="0.7"/>
<line x1="245.39" y1="325.38" x2="241.68" y2="327.35" stroke="#ff0000" stroke-width="2.4"/>
<line x1="234.92" y1="330.91" x2="234.48" y2="331.15" stroke="#0000ff" stroke-width="1.9" stroke-linecap="round"/>
<line x1="232.18" y1="332.36" x2="231.74" y2="332.59" stroke="#0000ff" stroke-width="1.9" stroke-linecap="round"/>
<line x1="229.44" y1="333.81" x2="229" y2="334.04" stroke="#0000ff" stroke-width="1.9" stroke-linecap="round"/>
<line x1="245.05" y1="320.51" x2="206.29" y2="339.57" stroke="#666666" stroke-width="0.7"/>
<line x1="231.02" y1="327.41" x2="227.25" y2="329.26" stroke="#ff0000" stroke-width="2.4"/>
<line x1="220.45" y1="332.61" x2="220" y2="332.83" stroke="#0000ff" stroke-width="1.9" stroke-linecap="round"/>
<line x1="217.75" y1="333.93" x2="217.31" y2="334.15" stroke="#0000ff" stroke-width="1.9" stroke-linecap="round"/>
<line x1="215.06" y1="335.26" x2="214.61" y2="335.48" stroke="#0000ff" stroke-width="1.9" stroke-linecap="round"/>
<line x1="212.37" y1="336.58" x2="211.92" y2="336.8" stroke="#0000ff" stroke-width="1.9" stroke-linecap="round"/>
<line x1="243.14" y1="316.47" x2="213.17" y2="330.15" stroke="#666666" stroke-width="0.7"/>
<line x1="241.05" y1="317.42" x2="237.23" y2="319.16" stroke="#ff0000" stroke-width="2.4"/>
<line x1="230.7" y1="322.15" x2="230.24" y2="322.35" stroke="#0000ff" stroke-width="1.9" stroke-linecap="round"/>
<line x1="227.88" y1="323.43" x2="227.42" y2="323.64" stroke="#0000ff" stroke-width="1.9" stroke-linecap="round"/>
<line x1="225.06" y1="324.72" x2="224.6" y2="324.93" stroke="#0000ff" stroke-width="1.9" stroke-linecap="round"/>
<line x1="241.34" y1="312.37" x2="202.87" y2="328.61" stroke="#666666" stroke-width="0.7"/>
<line x1="226.43" y1="318.67" x2="222.56" y2="320.3" stroke="#ff0000" stroke-width="2.4"/>
<line x1="218.44" y1="322.04" x2="217.98" y2="322.23" stroke="#0000ff" stroke-width="1.9" stroke-linecap="round"/>
<line x1="215.68" y1="323.21" x2="215.22" y2="323.4" stroke="#0000ff" stroke-width="1.9" stroke-linecap="round"/>
<line x1="212.92" y1="324.37" x2="212.45" y2="324.57" stroke="#0000ff" stroke-width="1.9" stroke-linecap="round"/>
<line x1="239.66" y1="308.23" x2="197.9" y2="324.46" stroke="#666666" stroke-width="0.7"/>
<line x1="224.93" y1="313.95" x2="220.92" y2="315.51" stroke="#ff0000" stroke-width="2.4"/>
<line x1="210.72" y1="319.48" x2="210.25" y2="319.66" stroke="#0000ff" stroke-width="1.9" stroke-linecap="round"/>
<line x1="208.11" y1="320.49" x2="207.64" y2="320.67" stroke="#0000ff" stroke-width="1.9" stroke-linecap="round"/>
<line x1="205.5" y1="321.51" x2="205.03" y2="321.69" stroke="#0000ff" stroke-width="1.9" stroke-linecap="round"/>
<line x1="202.89" y1="322.52" x2="202.42" y2="322.7" stroke="#0000ff" stroke-width="1.9" stroke-linecap="round"/>
<line x1="200.28" y1="323.54" x2="199.81" y2="323.72" stroke="#0000ff" stroke-width="1.9" stroke-linecap="round"/>
<line x1="238.1" y1="304.04" x2="206.08" y2="315.43" stroke="#666666" stroke-width="0.7"/>
<line x1="223.18" y1="309.35" x2="219.22" y2="310.76" stroke="#ff0000" stroke-width="2.4"/>
<line x1="214.21" y1="312.54" x2="213.74" y2="312.71" stroke="#0000ff" stroke-width="1.9" stroke-linecap="round"/>
<line x1="211.38" y1="313.55" x2="210.91" y2="313.72" stroke="#0000ff" stroke-width="1.9" stroke-linecap="round"/>
<line x1="236.66" y1="299.8" x2="194.04" y2="313.6" stroke="#666666" stroke-width="0.7"/>
<line x1="222.11" y1="304.52" x2="218.01" y2="305.84" stroke="#ff0000" stroke-width="2.4"/>
<line x1="206.65" y1="309.52" x2="206.17" y2="309.68" stroke="#0000ff" stroke-width="1.9" stroke-linecap="round"/>
<line x1="203.98" y1="310.39" x2="203.51" y2="310.54" stroke="#0000ff" stroke-width="1.9" stroke-linecap="round"/>
<line x1="201.32" y1="311.25" x2="200.84" y2="311.4" stroke="#0000ff" stroke-width="1.9" stroke-linecap="round"/>
<line x1="198.65" y1="312.11" x2="198.18" y2="312.26" stroke="#0000ff" stroke-width="1.9" stroke-linecap="round"/>
<line x1="195.99" y1="312.97" x2="195.51" y2="313.13" stroke="#0000ff" stroke-width="1.9" stroke-linecap="round"/>
<line x1="235.35" y1="295.53" x2="203.86" y2="304.73" stroke="#666666" stroke-width="0.7"/>
<line x1="219.89" y1="300.05" x2="215.85" y2="301.23" stroke="#ff0000" stroke-width="2.4"/>
<line x1="210.53" y1="302.78" x2="210.05" y2="302.92" stroke="#0000ff" stroke-width="1.9" stroke-linecap="round"/>
<line x1="207.65" y1="303.63" x2="207.17" y2="303.77" stroke="#0000ff" stroke-width="1.9" stroke-linecap="round"/>
<line x1="234.15" y1="291.22" x2="211.81" y2="297.06" stroke="#666666" stroke-width="0.7"/>
<line x1="230.27" y1="292.24" x2="226.2" y2="293.3" stroke="#ff0000" stroke-width="2.4"/>
<line x1="220.62" y1="294.76" x2="220.14" y2="294.88" stroke="#0000ff" stroke-width="1.9" stroke-linecap="round"/>
<line x1="217.62" y1="295.54" x2="217.14" y2="295.67" stroke="#0000ff" stroke-width="1.9" stroke-linecap="round"/>
<line x1="233.09" y1="286.88" x2="189.43" y2="296.95" stroke="#666666" stroke-width="0.7"/>
<line x1="218.66" y1="290.21" x2="214.47" y2="291.17" stroke="#ff0000" stroke-width="2.4"/>
<line x1="202.34" y1="293.97" x2="201.86" y2="294.08" stroke="#0000ff" stroke-width="1.9" stroke-linecap="round"/>
<line x1="199.61" y1="294.6" x2="199.13" y2="294.71" stroke="#0000ff" stroke-width="1.9" stroke-linecap="round"/>
<line x1="196.89" y1="295.23" x2="196.4" y2="295.34" stroke="#0000ff" stroke-width="1.9" stroke-linecap="round"/>
<line x1="194.16" y1="295.86" x2="193.67" y2="295.97" stroke="#0000ff" stroke-width="1.9" stroke-linecap="round"/>
<line x1="191.43" y1="296.49" x2="190.94" y2="296.6" stroke="#0000ff" stroke-width="1.9" stroke-linecap="round"/>
<line x1="232.14" y1="282.51" x2="209.66" y2="287.02" stroke="#666666" stroke-width="0.7"/>
<line x1="229.24" y1="283.09" x2="225.12" y2="283.92" stroke="#ff0000" stroke-width="2.4"/>
<line x1="217.57" y1="285.43" x2="217.08" y2="285.53" stroke="#0000ff" stroke-width="1.9" stroke-linecap="round"/>
<line x1="214.53" y1="286.04" x2="214.04" y2="286.14" stroke="#0000ff" stroke-width="1.9" stroke-linecap="round"/>
<line x1="231.33" y1="278.11" x2="191.53" y2="284.91" stroke="#666666" stroke-width="0.7"/>
<line x1="215.45" y1="280.82" x2="211.31" y2="281.53" stroke="#ff0000" stroke-width="2.4"/>
<line x1="203.97" y1="282.78" x2="203.48" y2="282.87" stroke="#0000ff" stroke-width="1.9" stroke-linecap="round"/>
<line x1="201.01" y1="283.29" x2="200.52" y2="283.37" stroke="#0000ff" stroke-width="1.9" stroke-linecap="round"/>
<line x1="198.06" y1="283.79" x2="197.56" y2="283.88" stroke="#0000ff" stroke-width="1.9" stroke-linecap="round"/>
<line x1="195.1" y1="284.3" x2="194.61" y2="284.38" stroke="#0000ff" stroke-width="1.9" stroke-linecap="round"/>
<line x1="230.64" y1="273.7" x2="207.07" y2="277.02" stroke="#666666" stroke-width="0.7"/>
<line x1="229.06" y1="273.92" x2="224.8" y2="274.52" stroke="#ff0000" stroke-width="2.4"/>
<line x1="214.25" y1="276.01" x2="213.76" y2="276.08" stroke="#0000ff" stroke-width="1.9" stroke-linecap="round"/>
<line x1="211.48" y1="276.4" x2="210.98" y2="276.47" stroke="#0000ff" stroke-width="1.9" stroke-linecap="round"/>
<line x1="230.08" y1="269.26" x2="187.15" y2="274.06" stroke="#666666" stroke-width="0.7"/>
<line x1="215.37" y1="270.91" x2="211.1" y2="271.38" stroke="#ff0000" stroke-width="2.4"/>
<line x1="199.92" y1="272.64" x2="199.42" y2="272.69" stroke="#0000ff" stroke-width="1.9" stroke-linecap="round"/>
<line x1="193.46" y1="273.36" x2="192.96" y2="273.41" stroke="#0000ff" stroke-width="1.9" stroke-linecap="round"/>
<line x1="229.65" y1="264.81" x2="195.96" y2="267.6" stroke="#666666" stroke-width="0.7"/>
<line x1="214.9" y1="266.03" x2="210.61" y2="266.39" stroke="#ff0000" stroke-width="2.4"/>
<line x1="203.19" y1="267" x2="202.69" y2="267.04" stroke="#0000ff" stroke-width="1.9" stroke-linecap="round"/>
<line x1="229.34" y1="260.35" x2="207.57" y2="261.52" stroke="#666666" stroke-width="0.7"/>
<line x1="225.15" y1="260.58" x2="220.85" y2="260.81" stroke="#ff0000" stroke-width="2.4"/>
<line x1="216.31" y1="261.05" x2="215.81" y2="261.08" stroke="#0000ff" stroke-width="1.9" stroke-linecap="round"/>
<line x1="213.81" y1="261.19" x2="213.31" y2="261.21" stroke="#0000ff" stroke-width="1.9" stroke-linecap="round"/>
<line x1="229.16" y1="255.88" x2="192.58" y2="256.8" stroke="#666666" stroke-width="0.7"/>
<line x1="214.37" y1="256.25" x2="210.07" y2="256.36" stroke="#ff0000" stroke-width="2.4"/>
<line x1="206.62" y1="256.45" x2="206.12" y2="256.46" stroke="#0000ff" stroke-width="1.9" stroke-linecap="round"/>
<line x1="203.62" y1="256.52" x2="203.12" y2="256.53" stroke="#0000ff" stroke-width="1.9" stroke-linecap="round"/>
<line x1="229.12" y1="251.41" x2="206.32" y2="251.32" stroke="#666666" stroke-width="0.7"/>
<line x1="227.32" y1="251.4" x2="223.02" y2="251.39" stroke="#ff0000" stroke-width="2.4"/>
<line x1="212.87" y1="251.35" x2="212.37" y2="251.35" stroke="#0000ff" stroke-width="1.9" stroke-linecap="round"/>
<line x1="208.97" y1="251.33" x2="208.47" y2="251.33" stroke="#0000ff" stroke-width="1.9" stroke-linecap="round"/>
<line x1="229.2" y1="246.94" x2="185.42" y2="245.51" stroke="#666666" stroke-width="0.7"/>
<line x1="214.41" y1="246.46" x2="210.11" y2="246.32" stroke="#ff0000" stroke-width="2.4"/>
<line x1="197.66" y1="245.91" x2="197.16" y2="245.9" stroke="#0000ff" stroke-width="1.9" stroke-linecap="round"/>
<line x1="191.67" y1="245.72" x2="191.17" y2="245.7" stroke="#0000ff" stroke-width="1.9" stroke-linecap="round"/>
<line x1="229.41" y1="242.47" x2="193.28" y2="240.25" stroke="#666666" stroke-width="0.7"/>
<line x1="214.34" y1="241.55" x2="210.04" y2="241.28" stroke="#ff0000" stroke-width="2.4"/>
<line x1="202.51" y1="240.82" x2="202.01" y2="240.79" stroke="#0000ff" stroke-width="1.9" stroke-linecap="round"/>
<line x1="199.91" y1="240.66" x2="199.41" y2="240.63" stroke="#0000ff" stroke-width="1.9" stroke-linecap="round"/>
<line x1="229.75" y1="238.02" x2="205.25" y2="235.8" stroke="#666666" stroke-width="0.7"/>
<line x1="224.97" y1="237.58" x2="220.68" y2="237.2" stroke="#ff0000" stroke-width="2.4"/>
<line x1="215.75" y1="236.75" x2="215.26" y2="236.71" stroke="#0000ff" stroke-width="1.9" stroke-linecap="round"/>
<line x1="213.26" y1="236.53" x2="212.77" y2="236.48" stroke="#0000ff" stroke-width="1.9" stroke-linecap="round"/>
<line x1="230.21" y1="233.57" x2="194.37" y2="229.28" stroke="#666666" stroke-width="0.7"/>
<line x1="215.52" y1="231.81" x2="211.25" y2="231.3" stroke="#ff0000" stroke-width="2.4"/>
<line x1="207.53" y1="230.86" x2="207.03" y2="230.8" stroke="#0000ff" stroke-width="1.9" stroke-linecap="round"/>
<line x1="230.81" y1="229.14" x2="206.28" y2="225.49" stroke="#666666" stroke-width="0.7"/>
<line x1="229.32" y1="228.92" x2="225.07" y2="228.28" stroke="#ff0000" stroke-width="2.4"/>
<line x1="215.43" y1="226.85" x2="214.93" y2="226.77" stroke="#0000ff" stroke-width="1.9" stroke-linecap="round"/>
<line x1="212.07" y1="226.35" x2="211.57" y2="226.27" stroke="#0000ff" stroke-width="1.9" stroke-linecap="round"/>
<line x1="231.53" y1="224.73" x2="188.51" y2="217.05" stroke="#666666" stroke-width="0.7"/>
<line x1="216.96" y1="222.13" x2="212.73" y2="221.37" stroke="#ff0000" stroke-width="2.4"/>
<line x1="206.38" y1="220.24" x2="205.89" y2="220.15" stroke="#0000ff" stroke-width="1.9" stroke-linecap="round"/>
<line x1="201.46" y1="219.36" x2="200.96" y2="219.27" stroke="#0000ff" stroke-width="1.9" stroke-linecap="round"/>
<line x1="232.38" y1="220.34" x2="198.31" y2="213.24" stroke="#666666" stroke-width="0.7"/>
<line x1="217.89" y1="217.32" x2="213.68" y2="216.44" stroke="#ff0000" stroke-width="2.4"/>
<line x1="209.33" y1="215.53" x2="208.84" y2="215.43" stroke="#0000ff" stroke-width="1.9" stroke-linecap="round"/>
<line x1="206.39" y1="214.92" x2="205.9" y2="214.82" stroke="#0000ff" stroke-width="1.9" stroke-linecap="round"/>
<line x1="233.35" y1="215.97" x2="209.72" y2="210.33" stroke="#666666" stroke-width="0.7"/>
<line x1="229.46" y1="215.04" x2="225.28" y2="214.05" stroke="#ff0000" stroke-width="2.4"/>
<line x1="220.18" y1="212.83" x2="219.69" y2="212.71" stroke="#0000ff" stroke-width="1.9" stroke-linecap="round"/>
<line x1="217.26" y1="212.13" x2="216.77" y2="212.02" stroke="#0000ff" stroke-width="1.9" stroke-linecap="round"/>
<line x1="234.46" y1="211.64" x2="199.21" y2="202.15" stroke="#666666" stroke-width="0.7"/>
<line x1="223.06" y1="208.57" x2="218.91" y2="207.45" stroke="#ff0000" stroke-width="2.4"/>
<line x1="212.39" y1="205.7" x2="211.91" y2="205.57" stroke="#0000ff" stroke-width="1.9" stroke-linecap="round"/>
<line x1="235.68" y1="207.34" x2="201.39" y2="197.04" stroke="#666666" stroke-width="0.7"/>
<line x1="222.27" y1="203.31" x2="218.15" y2="202.07" stroke="#ff0000" stroke-width="2.4"/>
<line x1="213.7" y1="200.74" x2="213.22" y2="200.59" stroke="#0000ff" stroke-width="1.9" stroke-linecap="round"/>
<line x1="237.03" y1="203.08" x2="203.34" y2="191.89" stroke="#666666" stroke-width="0.7"/>
<line x1="222.03" y1="198.1" x2="217.95" y2="196.74" stroke="#ff0000" stroke-width="2.4"/>
<line x1="215.06" y1="195.78" x2="214.58" y2="195.62" stroke="#0000ff" stroke-width="1.9" stroke-linecap="round"/>
<line x1="250.03" y1="174.19" x2="222.09" y2="157.99" stroke="#666666" stroke-width="0.7"/>
<path d="M247.18 172.53Q245.14 168.57 240.69 168.77Q242.73 172.73 247.18 172.53Z" fill="#aaaaff"/>
<polygon points="237.93,165.55 227.71,161.25 236.53,167.98" fill="#6600cc"/>
<line x1="225.98" y1="160.25" x2="222.09" y2="157.99" stroke="#ff0000" stroke-width="2.4"/>
<line x1="252.23" y1="170.5" x2="220.06" y2="150.66" stroke="#666666" stroke-width="0.7"/>
<path d="M249.43 168.77Q247.49 164.76 243.04 164.83Q244.97 168.84 249.43 168.77Z" fill="#aaaaff"/>
<polygon points="237.82,159.97 225.17,153.81 236.35,162.35" fill="#6600cc"/>
<line x1="223.89" y1="153.02" x2="220.06" y2="150.66" stroke="#ff0000" stroke-width="2.4"/>
<line x1="254.54" y1="166.89" x2="244.25" y2="160.14" stroke="#666666" stroke-width="0.7"/>
<polygon points="254.16,165.09 249.69,163.71 252.74,167.26" fill="#6600cc"/>
<line x1="248.01" y1="162.61" x2="244.25" y2="160.14" stroke="#ff0000" stroke-width="2.4"/>
<line x1="256.94" y1="163.33" x2="231.66" y2="145.74" stroke="#666666" stroke-width="0.7"/>
<path d="M254.23 161.45Q252.52 157.34 248.07 157.16Q249.78 161.27 254.23 161.45Z" fill="#aaaaff"/>
<polygon points="246.41,154.3 234.94,148.02 244.81,156.6" fill="#6600cc"/>
<line x1="232.68" y1="146.45" x2="232.27" y2="146.16" stroke="#ff0000" stroke-width="2" stroke-linecap="round"/>
<line x1="259.44" y1="159.85" x2="225.8" y2="135.03" stroke="#666666" stroke-width="0.7"/>
<path d="M256.78 157.89Q255.19 153.73 250.75 153.43Q252.34 157.59 256.78 157.89Z" fill="#aaaaff"/>
<polygon points="243.53,146.37 231.43,139.18 241.87,148.62" fill="#6600cc"/>
<line x1="229.42" y1="137.7" x2="225.8" y2="135.03" stroke="#ff0000" stroke-width="2.4"/>
<line x1="262.03" y1="156.43" x2="229.65" y2="131.12" stroke="#666666" stroke-width="0.7"/>
<path d="M259.43 154.4Q257.95 150.2 253.52 149.78Q255 153.98 259.43 154.4Z" fill="#aaaaff"/>
<polygon points="245.72,141.9 234.61,135 243.99,144.11" fill="#6600cc"/>
<line x1="233.19" y1="133.89" x2="229.65" y2="131.12" stroke="#ff0000" stroke-width="2.4"/>
<line x1="264.72" y1="153.09" x2="251" y2="141.75" stroke="#666666" stroke-width="0.7"/>
<line x1="254.47" y1="144.61" x2="251" y2="141.75" stroke="#ff0000" stroke-width="2.4"/>
<line x1="267.5" y1="149.82" x2="235.88" y2="122.17" stroke="#666666" stroke-width="0.7"/>
<path d="M265.01 147.65Q263.77 143.37 259.37 142.71Q260.61 146.99 265.01 147.65Z" fill="#aaaaff"/>
<path d="M249.58 134.15Q247.68 127.97 241.3 126.91Q243.2 133.09 249.58 134.15Z" fill="#00ee00"/>
<line x1="239.27" y1="125.13" x2="235.88" y2="122.17" stroke="#ff0000" stroke-width="2.4"/>
<line x1="270.36" y1="146.63" x2="239.53" y2="118.12" stroke="#666666" stroke-width="0.7"/>
<path d="M267.94 144.39Q266.82 140.09 262.43 139.3Q263.56 143.61 267.94 144.39Z" fill="#aaaaff"/>
<polygon points="256.78,132.16 245.91,124.03 254.88,134.22" fill="#6600cc"/>
<line x1="242.83" y1="121.17" x2="239.53" y2="118.12" stroke="#ff0000" stroke-width="2.4"/>
<line x1="273.32" y1="143.53" x2="242.85" y2="113.75" stroke="#666666" stroke-width="0.7"/>
<path d="M270.96 141.22Q269.95 136.88 265.59 135.98Q266.6 140.31 270.96 141.22Z" fill="#aaaaff"/>
<polygon points="259.42,127.99 248.79,119.55 257.46,129.99" fill="#6600cc"/>
<line x1="246.07" y1="116.9" x2="242.85" y2="113.75" stroke="#ff0000" stroke-width="2.4"/>
<line x1="276.36" y1="140.5" x2="247.14" y2="110.33" stroke="#666666" stroke-width="0.7"/>
<path d="M274.06 138.13Q273.18 133.77 268.85 132.74Q269.73 137.1 274.06 138.13Z" fill="#aaaaff"/>
<polygon points="262.9,124.58 252.5,115.86 260.88,126.53" fill="#6600cc"/>
<line x1="250.27" y1="113.56" x2="247.14" y2="110.33" stroke="#ff0000" stroke-width="2.4"/>
<line x1="279.48" y1="137.56" x2="251.11" y2="106.59" stroke="#666666" stroke-width="0.7"/>
<path d="M277.25 135.13Q276.49 130.74 272.19 129.6Q272.95 133.98 277.25 135.13Z" fill="#aaaaff"/>
<polygon points="266.46,121.28 256.31,112.27 264.4,123.17" fill="#6600cc"/>
<line x1="254.15" y1="109.91" x2="251.11" y2="106.59" stroke="#ff0000" stroke-width="2.4"/>
<line x1="282.65" y1="134.74" x2="269.02" y2="119.02" stroke="#666666" stroke-width="0.7"/>
<path d="M281.8 133.75Q282.58 129.77 278.52 129.98Q277.74 133.96 281.8 133.75Z" fill="#0000ff"/>
<line x1="276.07" y1="127.14" x2="275.74" y2="126.76" stroke="#006400" stroke-width="1.4" stroke-linecap="round"/>
<line x1="272.63" y1="123.18" x2="269.68" y2="119.78" stroke="#ff0000" stroke-width="2.4"/>
<line x1="285.86" y1="132.03" x2="272.66" y2="115.95" stroke="#666666" stroke-width="0.7"/>
<path d="M285.03 131.02Q285.92 127.06 281.86 127.16Q280.97 131.12 285.03 131.02Z" fill="#0000ff"/>
<line x1="279.48" y1="124.26" x2="279.16" y2="123.87" stroke="#006400" stroke-width="1.4" stroke-linecap="round"/>
<line x1="276.15" y1="120.2" x2="273.3" y2="116.72" stroke="#ff0000" stroke-width="2.4"/>
<line x1="289.14" y1="129.41" x2="276.38" y2="112.98" stroke="#666666" stroke-width="0.7"/>
<path d="M288.34 128.38Q289.34 124.45 285.28 124.43Q284.28 128.37 288.34 128.38Z" fill="#0000ff"/>
<line x1="282.98" y1="121.47" x2="282.67" y2="121.08" stroke="#006400" stroke-width="1.4" stroke-linecap="round"/>
<line x1="279.76" y1="117.32" x2="277" y2="113.77" stroke="#ff0000" stroke-width="2.4"/>
<line x1="292.49" y1="126.88" x2="264.8" y2="89.15" stroke="#666666" stroke-width="0.7"/>
<path d="M290.83 124.62Q290.7 120.38 286.69 118.98Q286.83 123.22 290.83 124.62Z" fill="#aaaaff"/>
<line x1="295.91" y1="124.44" x2="278.36" y2="99.13" stroke="#666666" stroke-width="0.7"/>
<path d="M285.2 108.99Q285.24 103.79 280.36 102Q280.31 107.21 285.2 108.99Z" fill="#aaaaff"/>
<line x1="299.39" y1="122.1" x2="282.54" y2="96.32" stroke="#666666" stroke-width="0.7"/>
<path d="M288.56 105.52Q288.74 100.33 283.9 98.41Q283.72 103.61 288.56 105.52Z" fill="#aaaaff"/>
<line x1="302.94" y1="119.85" x2="294.13" y2="105.54" stroke="#666666" stroke-width="0.7"/>
<line x1="301.34" y1="117.25" x2="301.07" y2="116.82" stroke="#6600cc" stroke-width="2" stroke-linecap="round"/>
<line x1="298.98" y1="113.42" x2="298.71" y2="112.99" stroke="#006400" stroke-width="1.4" stroke-linecap="round"/>
<line x1="297.27" y1="110.65" x2="294.91" y2="106.82" stroke="#ff0000" stroke-width="2.4"/>
<line x1="306.54" y1="117.69" x2="298.12" y2="103.16" stroke="#666666" stroke-width="0.7"/>
<line x1="305.64" y1="116.14" x2="303.88" y2="113.11" stroke="#22a0ff" stroke-width="2.6"/>
<line x1="302.25" y1="110.3" x2="302" y2="109.86" stroke="#00ee00" stroke-width="1.6" stroke-linecap="round"/>
<line x1="301.13" y1="108.35" x2="298.87" y2="104.45" stroke="#ff0000" stroke-width="2.4"/>
<line x1="310.29" y1="115.59" x2="297.5" y2="92.04" stroke="#666666" stroke-width="0.7"/>
<line x1="309.05" y1="113.31" x2="307.66" y2="110.76" stroke="#22a0ff" stroke-width="2.2"/>
<line x1="305.71" y1="107.16" x2="304.32" y2="104.61" stroke="#22a0ff" stroke-width="2.2"/>
<line x1="302.39" y1="101.05" x2="302.15" y2="100.61" stroke="#ff9900" stroke-width="1.6" stroke-linecap="round"/>
<line x1="299.89" y1="96.43" x2="297.74" y2="92.48" stroke="#ff0000" stroke-width="2.4"/>
<line x1="314.18" y1="113.55" x2="302.07" y2="89.64" stroke="#666666" stroke-width="0.7"/>
<line x1="313" y1="111.23" x2="311.69" y2="108.65" stroke="#22a0ff" stroke-width="2.2"/>
<line x1="309.84" y1="104.99" x2="308.53" y2="102.4" stroke="#22a0ff" stroke-width="2.2"/>
<line x1="306.7" y1="98.79" x2="306.47" y2="98.34" stroke="#ff9900" stroke-width="1.6" stroke-linecap="round"/>
<line x1="304.33" y1="94.11" x2="302.29" y2="90.09" stroke="#ff0000" stroke-width="2.4"/>
<line x1="318.13" y1="111.62" x2="305.84" y2="85.57" stroke="#666666" stroke-width="0.7"/>
<line x1="317.02" y1="109.27" x2="315.78" y2="106.65" stroke="#22dd22" stroke-width="2.1"/>
<line x1="314.03" y1="102.94" x2="312.79" y2="100.32" stroke="#22a0ff" stroke-width="2.2"/>
<line x1="311.28" y1="97.1" x2="311.07" y2="96.65" stroke="#ff9900" stroke-width="1.6" stroke-linecap="round"/>
<line x1="308.4" y1="91" x2="306.48" y2="86.93" stroke="#ff0000" stroke-width="2.4"/>
<line x1="322.13" y1="109.8" x2="306.78" y2="74.71" stroke="#666666" stroke-width="0.7"/>
<line x1="321.08" y1="107.42" x2="319.92" y2="104.77" stroke="#22dd22" stroke-width="2.1"/>
<line x1="317.5" y1="99.22" x2="317.3" y2="98.76" stroke="#ff9900" stroke-width="1.6" stroke-linecap="round"/>
<polygon points="316.68,93.85 309.38,80.67 314.11,94.97" fill="#6600cc"/>
<line x1="308.58" y1="78.84" x2="306.78" y2="74.71" stroke="#ff0000" stroke-width="2.4"/>
<line x1="326.18" y1="108.1" x2="320.26" y2="93.45" stroke="#666666" stroke-width="0.7"/>
<line x1="325.2" y1="105.69" x2="324.3" y2="103.47" stroke="#22dd22" stroke-width="2.1"/>
<line x1="323.52" y1="101.52" x2="322.43" y2="98.83" stroke="#22a0ff" stroke-width="2.2"/>
<line x1="321.94" y1="97.62" x2="320.26" y2="93.45" stroke="#ff0000" stroke-width="2.4"/>
<line x1="330.27" y1="106.51" x2="324.77" y2="91.7" stroke="#666666" stroke-width="0.7"/>
<line x1="329.37" y1="104.08" x2="328.53" y2="101.83" stroke="#22a0ff" stroke-width="2.2"/>
<line x1="327.8" y1="99.86" x2="326.79" y2="97.14" stroke="#22dd22" stroke-width="2.1"/>
<line x1="326.34" y1="95.92" x2="324.77" y2="91.7" stroke="#ff0000" stroke-width="2.4"/>
<line x1="334.41" y1="105.04" x2="329.33" y2="90.08" stroke="#666666" stroke-width="0.7"/>
<line x1="333.58" y1="102.58" x2="332.81" y2="100.31" stroke="#22dd22" stroke-width="2.1"/>
<line x1="332.13" y1="98.32" x2="331.2" y2="95.57" stroke="#22a0ff" stroke-width="2.2"/>
<line x1="330.78" y1="94.34" x2="329.33" y2="90.08" stroke="#ff0000" stroke-width="2.4"/>
<line x1="338.59" y1="103.69" x2="316.85" y2="33.16" stroke="#666666" stroke-width="0.7"/>
<line x1="337.83" y1="101.2" x2="336.97" y2="98.43" stroke="#22a0ff" stroke-width="2.2"/>
<line x1="336.06" y1="95.47" x2="335.21" y2="92.7" stroke="#22a0ff" stroke-width="2.2"/>
<line x1="331.88" y1="81.9" x2="330.55" y2="77.6" stroke="#ff0000" stroke-width="2.4"/>
<line x1="321.64" y1="48.69" x2="321.49" y2="48.21" stroke="#006400" stroke-width="1.7" stroke-linecap="round"/>
<line x1="320.58" y1="45.25" x2="320.43" y2="44.77" stroke="#006400" stroke-width="1.7" stroke-linecap="round"/>
<polygon points="320.3,39.95 316.71,32.68 317.82,40.71" fill="#6600cc"/>
<line x1="342.81" y1="102.45" x2="323.08" y2="31.34" stroke="#666666" stroke-width="0.7"/>
<line x1="342.12" y1="99.95" x2="341.34" y2="97.15" stroke="#22a0ff" stroke-width="2.2"/>
<line x1="340.51" y1="94.17" x2="339.74" y2="91.37" stroke="#22a0ff" stroke-width="2.2"/>
<line x1="336.71" y1="80.48" x2="335.51" y2="76.15" stroke="#ff0000" stroke-width="2.4"/>
<line x1="327.42" y1="47" x2="327.29" y2="46.52" stroke="#006400" stroke-width="1.7" stroke-linecap="round"/>
<line x1="326.46" y1="43.53" x2="326.32" y2="43.05" stroke="#006400" stroke-width="1.7" stroke-linecap="round"/>
<polygon points="326.33,38.22 322.94,30.86 323.83,38.91" fill="#6600cc"/>
<line x1="347.14" y1="101.32" x2="329.47" y2="29.66" stroke="#666666" stroke-width="0.7"/>
<line x1="341.68" y1="79.18" x2="340.61" y2="74.81" stroke="#ff0000" stroke-width="2.4"/>
<line x1="333.36" y1="45.44" x2="333.24" y2="44.96" stroke="#006400" stroke-width="1.7" stroke-linecap="round"/>
<line x1="332.5" y1="41.95" x2="332.38" y2="41.46" stroke="#006400" stroke-width="1.7" stroke-linecap="round"/>
<polygon points="332.53,36.64 329.35,29.18 330,37.26" fill="#6600cc"/>
<line x1="351.59" y1="100.29" x2="345.94" y2="74.09" stroke="#666666" stroke-width="0.7"/>
<line x1="351.42" y1="99.51" x2="350.58" y2="95.6" stroke="#ff0000" stroke-width="2.4"/>
<line x1="350.45" y1="95.01" x2="349.82" y2="92.08" stroke="#ff9900" stroke-width="2.3"/>
<line x1="349.1" y1="88.71" x2="348.99" y2="88.22" stroke="#006400" stroke-width="1.9" stroke-linecap="round"/>
<line x1="348.44" y1="85.67" x2="348.34" y2="85.19" stroke="#006400" stroke-width="1.9" stroke-linecap="round"/>
<line x1="347.79" y1="82.64" x2="347.68" y2="82.16" stroke="#006400" stroke-width="1.9" stroke-linecap="round"/>
<line x1="346.52" y1="76.78" x2="346.42" y2="76.29" stroke="#006400" stroke-width="1.7" stroke-linecap="round"/>
<line x1="356.07" y1="99.39" x2="351.19" y2="73.04" stroke="#666666" stroke-width="0.7"/>
<line x1="355.92" y1="98.61" x2="355.2" y2="94.67" stroke="#ff0000" stroke-width="2.4"/>
<line x1="355.09" y1="94.08" x2="354.54" y2="91.13" stroke="#ff9900" stroke-width="2.3"/>
<line x1="353.91" y1="87.74" x2="353.82" y2="87.25" stroke="#006400" stroke-width="1.9" stroke-linecap="round"/>
<line x1="353.35" y1="84.69" x2="353.26" y2="84.2" stroke="#006400" stroke-width="1.9" stroke-linecap="round"/>
<line x1="352.79" y1="81.64" x2="352.69" y2="81.15" stroke="#006400" stroke-width="1.9" stroke-linecap="round"/>
<line x1="351.69" y1="75.74" x2="351.6" y2="75.25" stroke="#006400" stroke-width="1.7" stroke-linecap="round"/>
<line x1="360.57" y1="98.63" x2="356.09" y2="69.67" stroke="#666666" stroke-width="0.7"/>
<line x1="360.45" y1="97.84" x2="359.84" y2="93.88" stroke="#ff0000" stroke-width="2.4"/>
<line x1="359.75" y1="93.29" x2="359.29" y2="90.33" stroke="#ff9900" stroke-width="2.3"/>
<line x1="358.27" y1="83.75" x2="358.19" y2="83.26" stroke="#006400" stroke-width="1.9" stroke-linecap="round"/>
<line x1="357.8" y1="80.69" x2="357.72" y2="80.2" stroke="#006400" stroke-width="1.9" stroke-linecap="round"/>
<line x1="357.29" y1="77.43" x2="357.21" y2="76.94" stroke="#6600cc" stroke-width="1.6" stroke-linecap="round"/>
<line x1="356.54" y1="72.59" x2="356.46" y2="72.09" stroke="#006400" stroke-width="1.8" stroke-linecap="round"/>
<line x1="365.09" y1="97.99" x2="361.47" y2="68.92" stroke="#666666" stroke-width="0.7"/>
<line x1="365" y1="97.2" x2="364.5" y2="93.23" stroke="#ff0000" stroke-width="2.4"/>
<line x1="364.43" y1="92.64" x2="364.05" y2="89.66" stroke="#ff9900" stroke-width="2.3"/>
<line x1="363.23" y1="83.06" x2="363.17" y2="82.56" stroke="#006400" stroke-width="1.9" stroke-linecap="round"/>
<line x1="362.85" y1="79.98" x2="362.78" y2="79.49" stroke="#006400" stroke-width="1.9" stroke-linecap="round"/>
<line x1="362.44" y1="76.71" x2="362.38" y2="76.21" stroke="#6600cc" stroke-width="1.6" stroke-linecap="round"/>
<line x1="361.83" y1="71.85" x2="361.77" y2="71.35" stroke="#006400" stroke-width="1.8" stroke-linecap="round"/>
<line x1="369.63" y1="97.5" x2="366.86" y2="68.33" stroke="#666666" stroke-width="0.7"/>
<line x1="369.56" y1="96.7" x2="369.18" y2="92.72" stroke="#ff0000" stroke-width="2.4"/>
<line x1="369.12" y1="92.12" x2="368.84" y2="89.13" stroke="#ff9900" stroke-width="2.3"/>
<line x1="368.21" y1="82.51" x2="368.16" y2="82.02" stroke="#006400" stroke-width="1.9" stroke-linecap="round"/>
<line x1="367.92" y1="79.43" x2="367.87" y2="78.93" stroke="#006400" stroke-width="1.9" stroke-linecap="round"/>
<line x1="367.6" y1="76.14" x2="367.56" y2="75.64" stroke="#6600cc" stroke-width="1.6" stroke-linecap="round"/>
<line x1="367.14" y1="71.26" x2="367.09" y2="70.77" stroke="#006400" stroke-width="1.8" stroke-linecap="round"/>
<line x1="374.18" y1="97.13" x2="372.27" y2="67.89" stroke="#666666" stroke-width="0.7"/>
<line x1="374.13" y1="96.33" x2="373.87" y2="92.34" stroke="#ff0000" stroke-width="2.4"/>
<line x1="373.83" y1="91.74" x2="373.64" y2="88.75" stroke="#ff9900" stroke-width="2.3"/>
<line x1="373.2" y1="82.11" x2="373.17" y2="81.61" stroke="#006400" stroke-width="1.9" stroke-linecap="round"/>
<line x1="373" y1="79.02" x2="372.97" y2="78.52" stroke="#006400" stroke-width="1.9" stroke-linecap="round"/>
<line x1="372.78" y1="75.73" x2="372.75" y2="75.23" stroke="#6600cc" stroke-width="1.6" stroke-linecap="round"/>
<line x1="372.46" y1="70.84" x2="372.43" y2="70.34" stroke="#006400" stroke-width="1.8" stroke-linecap="round"/>
<path d="M395.97 21.81A216.66 227.7 0 0 1 602.83 265.38" fill="none" stroke="#5ccc2c" stroke-width="2"/>
<path d="M602.57 268.95A216.66 227.7 0 0 1 471.54 458.82" fill="none" stroke="#5ccc2c" stroke-width="2"/>
<path d="M468.4 460.2A216.66 227.7 0 0 1 451.32 466.64" fill="none" stroke="#5ccc2c" stroke-width="2"/>
<path d="M448.07 467.68A216.66 227.7 0 0 1 180.19 180.45" fill="none" stroke="#5ccc2c" stroke-width="2"/>
<path d="M190.35 153.07A216.66 227.7 0 0 1 243.85 78.11" fill="none" stroke="#5ccc2c" stroke-width="2"/>
<path d="M246.43 75.77A216.66 227.7 0 0 1 265.08 60.86" fill="none" stroke="#5ccc2c" stroke-width="2"/>
<path d="M267.91 58.88A216.66 227.7 0 0 1 309.59 36.51" fill="none" stroke="#5ccc2c" stroke-width="2"/>
<path d="M312.78 35.26A216.66 227.7 0 0 1 370.28 22.26" fill="none" stroke="#5ccc2c" stroke-width="2"/>
<path d="M373.67 22.01A216.66 227.7 0 0 1 392.57 21.68" fill="none" stroke="#5ccc2c" stroke-width="2"/>
<text class="ol" text-anchor="middle" transform="translate(384.87,10) rotate(0)" y="5.4">UBO</text>
<text class="ol" text-anchor="middle" transform="translate(334.19,15.2) rotate(-12.62)" y="5.4">WD40</text>
<text class="ol" text-anchor="middle" transform="translate(280.72,34.5) rotate(-25.52)" y="5.4">TPR</text>
<text class="ol" text-anchor="middle" transform="translate(246.74,60.5) rotate(-36.02)" y="5.4">UBO</text>
<text class="ol" text-anchor="middle" transform="translate(203.85,106) rotate(-53.6)" y="5.4">PKinase</text>
<text class="ol" text-anchor="middle" transform="translate(551.97,83.5) rotate(46.93)" y="5.4">U-box</text>
<text class="ol" text-anchor="middle" transform="translate(569.9,395.5) rotate(-53.08)" y="5.4">Usp + PKinase</text>
<text class="ol" text-anchor="middle" transform="translate(462.63,479.6) rotate(-17.18)" y="5.4">UBO</text>
<text class="ol" text-anchor="middle" transform="translate(218.89,414) rotate(44.91)" y="5.4">Arm</text>
<text class="lt" transform="translate(10.25,14.7) scale(.1)">domains_in_U-Box_Proteins</text>
<line x1="10.03" y1="17.3" x2="86.89" y2="17.3" stroke="#b4b4b4" stroke-width="1"/>
<rect x="8.24" y="18" width="79.76" height="318" fill="none" stroke="#f1f1f1" stroke-width="0.8"/>
<rect x="9.91" y="20.8" width="7.8" height="7.6" fill="#ff0000" stroke="#555" stroke-opacity=".6" stroke-width="0.35"/>
<text class="lg" transform="translate(21.39,26.6) scale(.1)">U-box</text>
<polygon points="13.81,32.52 17.32,34.42 17.32,38.22 13.81,40.12 10.3,38.22 10.3,34.42" fill="#0000ff" stroke="#555" stroke-opacity=".6" stroke-width="0.35"/>
<text class="lg" transform="translate(21.39,38.32) scale(.1)">Arm</text>
<polygon points="12.06,44.24 15.57,44.24 17.71,46.44 17.71,49.64 15.57,51.84 12.06,51.84 9.91,49.64 9.91,46.44" fill="#00ff00" stroke="#555" stroke-opacity=".6" stroke-width="0.35"/>
<text class="lg" transform="translate(21.39,50.04) scale(.1)">Pkinase</text>
<ellipse cx="13.81" cy="59.76" rx="3.9" ry="3.23" fill="#006400" stroke="#555" stroke-opacity=".6" stroke-width="0.35"/>
<text class="lg" transform="translate(21.39,61.76) scale(.1)">WD40</text>
<polygon points="13.81,67.68 17.71,71.48 13.81,75.28 9.91,71.48" fill="#aaaaff" stroke="#555" stroke-opacity=".6" stroke-width="0.35"/>
<text class="lg" transform="translate(21.39,73.48) scale(.1)">Usp</text>
<polygon points="9.91,79.4 17.71,83.2 9.91,87" fill="#6600cc" stroke="#555" stroke-opacity=".6" stroke-width="0.35"/>
<text class="lg" transform="translate(21.39,85.2) scale(.1)">Pkinase_Tyr</text>
<polygon points="17.71,91.12 9.91,94.92 17.71,98.72" fill="#1e90ff" stroke="#555" stroke-opacity=".6" stroke-width="0.35"/>
<text class="lg" transform="translate(21.39,96.92) scale(.1)">TPR_1</text>
<polygon points="13.81,102.84 17.32,104.74 17.32,108.54 13.81,110.44 10.3,108.54 10.3,104.74" fill="#006400" stroke="#555" stroke-opacity=".6" stroke-width="0.35"/>
<text class="lg" transform="translate(21.39,108.64) scale(.1)">zf-CCHC_2</text>
<polygon points="12.06,114.56 15.57,114.56 17.71,116.76 17.71,119.96 15.57,122.16 12.06,122.16 9.91,119.96 9.91,116.76" fill="#ff9900" stroke="#555" stroke-opacity=".6" stroke-width="0.35"/>
<text class="lg" transform="translate(21.39,120.36) scale(.1)">Prp19</text>
<rect x="9.91" y="126.28" width="7.8" height="7.6" fill="#0000ff" stroke="#555" stroke-opacity=".6" stroke-width="0.35"/>
<text class="lg" transform="translate(21.39,132.08) scale(.1)">DWNN</text>
<ellipse cx="13.81" cy="141.8" rx="3.9" ry="3.23" fill="#00ff00" stroke="#555" stroke-opacity=".6" stroke-width="0.35"/>
<text class="lg" transform="translate(21.39,143.8) scale(.1)">TPR_2</text>
<polygon points="13.81,149.72 17.71,153.52 13.81,157.32 9.91,153.52" fill="#004d00" stroke="#555" stroke-opacity=".6" stroke-width="0.35"/>
<text class="lg" transform="translate(21.39,155.52) scale(.1)">HEAT</text>
<polygon points="9.91,161.44 17.71,165.24 9.91,169.04" fill="#aaaaff" stroke="#555" stroke-opacity=".6" stroke-width="0.35"/>
<text class="lg" transform="translate(21.39,167.24) scale(.1)">USP7_ICP0_bdg</text>
<polygon points="17.71,173.16 9.91,176.96 17.71,180.76" fill="#6600cc" stroke="#555" stroke-opacity=".6" stroke-width="0.35"/>
<text class="lg" transform="translate(21.39,178.96) scale(.1)">Apc4_WD40</text>
<rect x="9.91" y="184.88" width="7.8" height="7.6" fill="#1e90ff" stroke="#555" stroke-opacity=".6" stroke-width="0.35"/>
<text class="lg" transform="translate(21.39,190.68) scale(.1)">Neurochondrin</text>
<polygon points="13.81,196.6 17.32,198.5 17.32,202.3 13.81,204.2 10.3,202.3 10.3,198.5" fill="#006400" stroke="#555" stroke-opacity=".6" stroke-width="0.35"/>
<text class="lg" transform="translate(21.39,202.4) scale(.1)">KAP</text>
<polygon points="12.06,208.32 15.57,208.32 17.71,210.52 17.71,213.72 15.57,215.92 12.06,215.92 9.91,213.72 9.91,210.52" fill="#ff9900" stroke="#555" stroke-opacity=".6" stroke-width="0.35"/>
<text class="lg" transform="translate(21.39,214.12) scale(.1)">TPR_11</text>
<polygon points="9.91,220.04 17.71,223.84 9.91,227.64" fill="#0000ff" stroke="#555" stroke-opacity=".6" stroke-width="0.35"/>
<text class="lg" transform="translate(21.39,225.84) scale(.1)">Ufd2P_core</text>
<polygon points="13.81,231.76 17.71,235.56 13.81,239.36 9.91,235.56" fill="#00ff00" stroke="#555" stroke-opacity=".6" stroke-width="0.35"/>
<text class="lg" transform="translate(21.39,237.56) scale(.1)">PLN_propep</text>
<ellipse cx="13.81" cy="247.28" rx="3.9" ry="3.23" fill="#006400" stroke="#555" stroke-opacity=".6" stroke-width="0.35"/>
<text class="lg" transform="translate(21.39,249.28) scale(.1)">kleA_kleC</text>
<polygon points="13.81,255.2 17.32,257.1 17.32,260.9 13.81,262.8 10.3,260.9 10.3,257.1" fill="#aaaaff" stroke="#555" stroke-opacity=".6" stroke-width="0.35"/>
<text class="lg" transform="translate(21.39,261) scale(.1)">Pro_isomerase</text>
<polygon points="12.06,266.92 15.57,266.92 17.71,269.12 17.71,272.32 15.57,274.52 12.06,274.52 9.91,272.32 9.91,269.12" fill="#6600cc" stroke="#555" stroke-opacity=".6" stroke-width="0.35"/>
<text class="lg" transform="translate(21.39,272.72) scale(.1)">Rtf2</text>
<rect x="9.91" y="278.64" width="7.8" height="7.6" fill="#1e90ff" stroke="#555" stroke-opacity=".6" stroke-width="0.35"/>
<text class="lg" transform="translate(21.39,284.44) scale(.1)">Apc3</text>
<polygon points="17.71,290.36 9.91,294.16 17.71,297.96" fill="#006400" stroke="#555" stroke-opacity=".6" stroke-width="0.35"/>
<text class="lg" transform="translate(21.39,296.16) scale(.1)">ABC_tran_CTD</text>
<polygon points="13.81,302.08 17.71,305.88 13.81,309.68 9.91,305.88" fill="#ff9900" stroke="#555" stroke-opacity=".6" stroke-width="0.35"/>
<text class="lg" transform="translate(21.39,307.88) scale(.1)">Proteasom_PSMB</text>
<ellipse cx="13.81" cy="317.6" rx="3.9" ry="3.23" fill="#0000ff" stroke="#555" stroke-opacity=".6" stroke-width="0.35"/>
<text class="lg" transform="translate(21.39,319.6) scale(.1)">DUF4763</text>
<polygon points="9.91,325.52 17.71,329.32 9.91,333.12" fill="#00ff00" stroke="#555" stroke-opacity=".6" stroke-width="0.35"/>
<text class="lg" transform="translate(21.39,331.32) scale(.1)">TPR_19</text>
</g>
</svg>
</body></html>
